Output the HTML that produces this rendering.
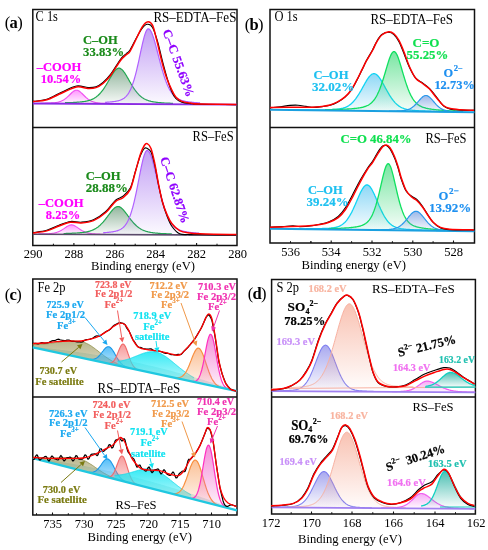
<!DOCTYPE html>
<html><head><meta charset="utf-8"><style>
html,body{margin:0;padding:0;background:#fff;}
body{width:488px;height:550px;overflow:hidden;}
svg{display:block;font-family:"Liberation Serif",serif;will-change:transform;}
</style></head><body>
<svg xmlns="http://www.w3.org/2000/svg" width="488" height="550" viewBox="0 0 488 550">
<defs><linearGradient id="g1" x1="0" y1="0" x2="0" y2="1"><stop offset="0" stop-color="#ff30ff" stop-opacity="0.5"/><stop offset="1" stop-color="#ff30ff" stop-opacity="0.03"/></linearGradient>
<linearGradient id="g2" x1="0" y1="0" x2="0" y2="1"><stop offset="0" stop-color="#3a7a4e" stop-opacity="0.55"/><stop offset="1" stop-color="#3a7a4e" stop-opacity="0.03"/></linearGradient>
<linearGradient id="g3" x1="0" y1="0" x2="0" y2="1"><stop offset="0" stop-color="#9a60ee" stop-opacity="0.6"/><stop offset="1" stop-color="#9a60ee" stop-opacity="0.03"/></linearGradient>
<linearGradient id="g4" x1="0" y1="0" x2="0" y2="1"><stop offset="0" stop-color="#ff30ff" stop-opacity="0.5"/><stop offset="1" stop-color="#ff30ff" stop-opacity="0.03"/></linearGradient>
<linearGradient id="g5" x1="0" y1="0" x2="0" y2="1"><stop offset="0" stop-color="#3a7a4e" stop-opacity="0.55"/><stop offset="1" stop-color="#3a7a4e" stop-opacity="0.03"/></linearGradient>
<linearGradient id="g6" x1="0" y1="0" x2="0" y2="1"><stop offset="0" stop-color="#9a60ee" stop-opacity="0.6"/><stop offset="1" stop-color="#9a60ee" stop-opacity="0.03"/></linearGradient>
<linearGradient id="g7" x1="0" y1="0" x2="0" y2="1"><stop offset="0" stop-color="#48c0f0" stop-opacity="0.62"/><stop offset="1" stop-color="#48c0f0" stop-opacity="0.03"/></linearGradient>
<linearGradient id="g8" x1="0" y1="0" x2="0" y2="1"><stop offset="0" stop-color="#30d870" stop-opacity="0.65"/><stop offset="1" stop-color="#30d870" stop-opacity="0.03"/></linearGradient>
<linearGradient id="g9" x1="0" y1="0" x2="0" y2="1"><stop offset="0" stop-color="#5a88d8" stop-opacity="0.6"/><stop offset="1" stop-color="#5a88d8" stop-opacity="0.03"/></linearGradient>
<linearGradient id="g10" x1="0" y1="0" x2="0" y2="1"><stop offset="0" stop-color="#48c0f0" stop-opacity="0.62"/><stop offset="1" stop-color="#48c0f0" stop-opacity="0.03"/></linearGradient>
<linearGradient id="g11" x1="0" y1="0" x2="0" y2="1"><stop offset="0" stop-color="#30d870" stop-opacity="0.65"/><stop offset="1" stop-color="#30d870" stop-opacity="0.03"/></linearGradient>
<linearGradient id="g12" x1="0" y1="0" x2="0" y2="1"><stop offset="0" stop-color="#5a88d8" stop-opacity="0.6"/><stop offset="1" stop-color="#5a88d8" stop-opacity="0.03"/></linearGradient>
<linearGradient id="g13" x1="0" y1="0" x2="0" y2="1"><stop offset="0" stop-color="#8c8640" stop-opacity="0.6"/><stop offset="1" stop-color="#8c8640" stop-opacity="0.3"/></linearGradient>
<linearGradient id="g14" x1="0" y1="0" x2="0" y2="1"><stop offset="0" stop-color="#38b4f8" stop-opacity="0.85"/><stop offset="1" stop-color="#38b4f8" stop-opacity="0.25"/></linearGradient>
<linearGradient id="g15" x1="0" y1="0" x2="0" y2="1"><stop offset="0" stop-color="#f47878" stop-opacity="0.75"/><stop offset="1" stop-color="#f47878" stop-opacity="0.2"/></linearGradient>
<linearGradient id="g16" x1="0" y1="0" x2="0" y2="1"><stop offset="0" stop-color="#20e8f4" stop-opacity="0.9"/><stop offset="1" stop-color="#20e8f4" stop-opacity="0.3"/></linearGradient>
<linearGradient id="g17" x1="0" y1="0" x2="0" y2="1"><stop offset="0" stop-color="#f8a060" stop-opacity="0.65"/><stop offset="1" stop-color="#f8a060" stop-opacity="0.08"/></linearGradient>
<linearGradient id="g18" x1="0" y1="0" x2="0" y2="1"><stop offset="0" stop-color="#f060c8" stop-opacity="0.7"/><stop offset="1" stop-color="#f060c8" stop-opacity="0.08"/></linearGradient>
<linearGradient id="g19" x1="0" y1="0" x2="0" y2="1"><stop offset="0" stop-color="#8c8640" stop-opacity="0.6"/><stop offset="1" stop-color="#8c8640" stop-opacity="0.3"/></linearGradient>
<linearGradient id="g20" x1="0" y1="0" x2="0" y2="1"><stop offset="0" stop-color="#38b4f8" stop-opacity="0.85"/><stop offset="1" stop-color="#38b4f8" stop-opacity="0.25"/></linearGradient>
<linearGradient id="g21" x1="0" y1="0" x2="0" y2="1"><stop offset="0" stop-color="#f47878" stop-opacity="0.75"/><stop offset="1" stop-color="#f47878" stop-opacity="0.2"/></linearGradient>
<linearGradient id="g22" x1="0" y1="0" x2="0" y2="1"><stop offset="0" stop-color="#20e8f4" stop-opacity="0.9"/><stop offset="1" stop-color="#20e8f4" stop-opacity="0.3"/></linearGradient>
<linearGradient id="g23" x1="0" y1="0" x2="0" y2="1"><stop offset="0" stop-color="#f8a060" stop-opacity="0.65"/><stop offset="1" stop-color="#f8a060" stop-opacity="0.08"/></linearGradient>
<linearGradient id="g24" x1="0" y1="0" x2="0" y2="1"><stop offset="0" stop-color="#f060c8" stop-opacity="0.7"/><stop offset="1" stop-color="#f060c8" stop-opacity="0.08"/></linearGradient>
<linearGradient id="g25" x1="0" y1="0" x2="0" y2="1"><stop offset="0" stop-color="#7070e4" stop-opacity="0.6"/><stop offset="1" stop-color="#7070e4" stop-opacity="0.03"/></linearGradient>
<linearGradient id="g26" x1="0" y1="0" x2="0" y2="1"><stop offset="0" stop-color="#f59a80" stop-opacity="0.6"/><stop offset="1" stop-color="#f59a80" stop-opacity="0.03"/></linearGradient>
<linearGradient id="g27" x1="0" y1="0" x2="0" y2="1"><stop offset="0" stop-color="#f070f0" stop-opacity="0.6"/><stop offset="1" stop-color="#f070f0" stop-opacity="0.03"/></linearGradient>
<linearGradient id="g28" x1="0" y1="0" x2="0" y2="1"><stop offset="0" stop-color="#20b0a0" stop-opacity="0.8"/><stop offset="1" stop-color="#20b0a0" stop-opacity="0.03"/></linearGradient>
<linearGradient id="g29" x1="0" y1="0" x2="0" y2="1"><stop offset="0" stop-color="#7070e4" stop-opacity="0.6"/><stop offset="1" stop-color="#7070e4" stop-opacity="0.03"/></linearGradient>
<linearGradient id="g30" x1="0" y1="0" x2="0" y2="1"><stop offset="0" stop-color="#f59a80" stop-opacity="0.6"/><stop offset="1" stop-color="#f59a80" stop-opacity="0.03"/></linearGradient>
<linearGradient id="g31" x1="0" y1="0" x2="0" y2="1"><stop offset="0" stop-color="#f070f0" stop-opacity="0.6"/><stop offset="1" stop-color="#f070f0" stop-opacity="0.03"/></linearGradient>
<linearGradient id="g32" x1="0" y1="0" x2="0" y2="1"><stop offset="0" stop-color="#20b0a0" stop-opacity="0.8"/><stop offset="1" stop-color="#20b0a0" stop-opacity="0.03"/></linearGradient></defs>
<rect width="488" height="550" fill="#fff"/>
<rect x="32.8" y="9.5" width="204.2" height="236" fill="none" stroke="#111" stroke-width="1.5"/>
<line x1="32.8" y1="127.5" x2="237" y2="127.5" stroke="#111" stroke-width="1.5"/>
<path d="M40.5 103.2 L41 103.2 L41.5 103.2 L42 103.2 L42.5 103.2 L43 103.2 L43.5 103.2 L44 103.2 L44.5 103.2 L45 103.2 L45.5 103.1 L46 103.1 L46.5 103.1 L47 103.1 L47.5 103.1 L48 103.1 L48.5 103.1 L49 103.1 L49.5 103 L50 103 L50.5 103 L51 103 L51.5 102.9 L52 102.9 L52.5 102.9 L53 102.8 L53.5 102.8 L54 102.8 L54.5 102.7 L55 102.7 L55.5 102.6 L56 102.5 L56.5 102.5 L57 102.4 L57.5 102.3 L58 102.2 L58.5 102.1 L59 101.9 L59.5 101.8 L60 101.6 L60.5 101.4 L61 101.2 L61.5 101 L62 100.8 L62.5 100.6 L63 100.3 L63.5 100 L64 99.7 L64.5 99.3 L65 99 L65.5 98.6 L66 98.2 L66.5 97.8 L67 97.4 L67.5 96.9 L68 96.4 L68.5 96 L69 95.5 L69.5 95 L70 94.5 L70.5 94 L71 93.5 L71.5 93 L72 92.5 L72.5 92.1 L73 91.7 L73.5 91.3 L74 91 L74.5 90.7 L75 90.4 L75.5 90.3 L76 90.2 L76.5 90.2 L77 90.2 L77.5 90.3 L78 90.5 L78.5 90.7 L79 91 L79.5 91.3 L80 91.7 L80.5 92.1 L81 92.6 L81.5 93 L82 93.5 L82.5 94 L83 94.5 L83.5 95 L84 95.5 L84.5 96 L85 96.5 L85.5 97 L86 97.5 L86.5 97.9 L87 98.3 L87.5 98.7 L88 99.1 L88.5 99.5 L89 99.8 L89.5 100.1 L90 100.4 L90.5 100.7 L91 101 L91.5 101.2 L92 101.4 L92.5 101.6 L93 101.8 L93.5 102 L94 102.1 L94.5 102.3 L95 102.4 L95.5 102.5 L96 102.6 L96.5 102.7 L97 102.8 L97.5 102.8 L98 102.9 L98.5 103 L99 103 L99.5 103.1 L100 103.1 L100.5 103.2 L101 103.2 L101.5 103.2 L102 103.3 L102.5 103.3 L103 103.3 L103.5 103.4 L104 103.4 L104.5 103.4 L105 103.4 L105.5 103.4 L106 103.5 L106.5 103.5 L107 103.5 L107.5 103.5 L108 103.5 L108.5 103.5 L109 103.6 L109.5 103.6 L110 103.6 L110.5 103.6 L111 103.6 L111.5 103.6 L112 103.6 L112.5 103.6 L112.5 104 L40.5 103.5 Z" fill="url(#g1)" stroke="none"/>
<path d="M40.5 103.2 L41 103.2 L41.5 103.2 L42 103.2 L42.5 103.2 L43 103.2 L43.5 103.2 L44 103.2 L44.5 103.2 L45 103.2 L45.5 103.1 L46 103.1 L46.5 103.1 L47 103.1 L47.5 103.1 L48 103.1 L48.5 103.1 L49 103.1 L49.5 103 L50 103 L50.5 103 L51 103 L51.5 102.9 L52 102.9 L52.5 102.9 L53 102.8 L53.5 102.8 L54 102.8 L54.5 102.7 L55 102.7 L55.5 102.6 L56 102.5 L56.5 102.5 L57 102.4 L57.5 102.3 L58 102.2 L58.5 102.1 L59 101.9 L59.5 101.8 L60 101.6 L60.5 101.4 L61 101.2 L61.5 101 L62 100.8 L62.5 100.6 L63 100.3 L63.5 100 L64 99.7 L64.5 99.3 L65 99 L65.5 98.6 L66 98.2 L66.5 97.8 L67 97.4 L67.5 96.9 L68 96.4 L68.5 96 L69 95.5 L69.5 95 L70 94.5 L70.5 94 L71 93.5 L71.5 93 L72 92.5 L72.5 92.1 L73 91.7 L73.5 91.3 L74 91 L74.5 90.7 L75 90.4 L75.5 90.3 L76 90.2 L76.5 90.2 L77 90.2 L77.5 90.3 L78 90.5 L78.5 90.7 L79 91 L79.5 91.3 L80 91.7 L80.5 92.1 L81 92.6 L81.5 93 L82 93.5 L82.5 94 L83 94.5 L83.5 95 L84 95.5 L84.5 96 L85 96.5 L85.5 97 L86 97.5 L86.5 97.9 L87 98.3 L87.5 98.7 L88 99.1 L88.5 99.5 L89 99.8 L89.5 100.1 L90 100.4 L90.5 100.7 L91 101 L91.5 101.2 L92 101.4 L92.5 101.6 L93 101.8 L93.5 102 L94 102.1 L94.5 102.3 L95 102.4 L95.5 102.5 L96 102.6 L96.5 102.7 L97 102.8 L97.5 102.8 L98 102.9 L98.5 103 L99 103 L99.5 103.1 L100 103.1 L100.5 103.2 L101 103.2 L101.5 103.2 L102 103.3 L102.5 103.3 L103 103.3 L103.5 103.4 L104 103.4 L104.5 103.4 L105 103.4 L105.5 103.4 L106 103.5 L106.5 103.5 L107 103.5 L107.5 103.5 L108 103.5 L108.5 103.5 L109 103.6 L109.5 103.6 L110 103.6 L110.5 103.6 L111 103.6 L111.5 103.6 L112 103.6 L112.5 103.6" fill="none" stroke="#f050f0" stroke-width="1.1"/>
<path d="M65 102.7 L65.5 102.7 L66 102.7 L66.5 102.7 L67 102.7 L67.5 102.7 L68 102.6 L68.5 102.6 L69 102.6 L69.5 102.6 L70 102.6 L70.5 102.6 L71 102.5 L71.5 102.5 L72 102.5 L72.5 102.5 L73 102.5 L73.5 102.4 L74 102.4 L74.5 102.4 L75 102.3 L75.5 102.3 L76 102.3 L76.5 102.3 L77 102.2 L77.5 102.2 L78 102.2 L78.5 102.1 L79 102.1 L79.5 102 L80 102 L80.5 101.9 L81 101.9 L81.5 101.8 L82 101.8 L82.5 101.7 L83 101.7 L83.5 101.6 L84 101.5 L84.5 101.5 L85 101.4 L85.5 101.3 L86 101.2 L86.5 101.1 L87 101 L87.5 100.9 L88 100.7 L88.5 100.6 L89 100.5 L89.5 100.3 L90 100.2 L90.5 100 L91 99.8 L91.5 99.6 L92 99.4 L92.5 99.2 L93 98.9 L93.5 98.7 L94 98.4 L94.5 98.1 L95 97.8 L95.5 97.5 L96 97.1 L96.5 96.7 L97 96.3 L97.5 95.9 L98 95.5 L98.5 95 L99 94.5 L99.5 94 L100 93.5 L100.5 92.9 L101 92.4 L101.5 91.7 L102 91.1 L102.5 90.5 L103 89.8 L103.5 89.1 L104 88.3 L104.5 87.6 L105 86.8 L105.5 86 L106 85.2 L106.5 84.4 L107 83.5 L107.5 82.7 L108 81.8 L108.5 81 L109 80.1 L109.5 79.2 L110 78.3 L110.5 77.5 L111 76.6 L111.5 75.8 L112 74.9 L112.5 74.1 L113 73.3 L113.5 72.6 L114 71.9 L114.5 71.2 L115 70.6 L115.5 70.1 L116 69.6 L116.5 69.2 L117 68.8 L117.5 68.6 L118 68.4 L118.5 68.2 L119 68.2 L119.5 68.2 L120 68.4 L120.5 68.6 L121 68.9 L121.5 69.2 L122 69.6 L122.5 70.1 L123 70.7 L123.5 71.3 L124 72 L124.5 72.7 L125 73.4 L125.5 74.2 L126 75 L126.5 75.8 L127 76.7 L127.5 77.6 L128 78.4 L128.5 79.3 L129 80.2 L129.5 81.1 L130 82 L130.5 82.8 L131 83.7 L131.5 84.5 L132 85.4 L132.5 86.2 L133 87 L133.5 87.8 L134 88.5 L134.5 89.3 L135 90 L135.5 90.7 L136 91.3 L136.5 92 L137 92.6 L137.5 93.2 L138 93.7 L138.5 94.3 L139 94.8 L139.5 95.3 L140 95.7 L140.5 96.2 L141 96.6 L141.5 97 L142 97.4 L142.5 97.7 L143 98.1 L143.5 98.4 L144 98.7 L144.5 99 L145 99.2 L145.5 99.5 L146 99.7 L146.5 99.9 L147 100.1 L147.5 100.3 L148 100.5 L148.5 100.7 L149 100.8 L149.5 101 L150 101.1 L150.5 101.2 L151 101.4 L151.5 101.5 L152 101.6 L152.5 101.7 L153 101.8 L153.5 101.9 L154 101.9 L154.5 102 L155 102.1 L155.5 102.2 L156 102.2 L156.5 102.3 L157 102.3 L157.5 102.4 L158 102.5 L158.5 102.5 L159 102.5 L159.5 102.6 L160 102.6 L160.5 102.7 L161 102.7 L161.5 102.8 L162 102.8 L162.5 102.8 L163 102.9 L163.5 102.9 L164 102.9 L164.5 103 L165 103 L165.5 103 L166 103.1 L166.5 103.1 L167 103.1 L167.5 103.1 L168 103.2 L168.5 103.2 L169 103.2 L169.5 103.2 L170 103.2 L170.5 103.3 L171 103.3 L171.5 103.3 L172 103.3 L172.5 103.4 L173 103.4 L173 104.3 L65 103.7 Z" fill="url(#g2)" stroke="none"/>
<path d="M65 102.7 L65.5 102.7 L66 102.7 L66.5 102.7 L67 102.7 L67.5 102.7 L68 102.6 L68.5 102.6 L69 102.6 L69.5 102.6 L70 102.6 L70.5 102.6 L71 102.5 L71.5 102.5 L72 102.5 L72.5 102.5 L73 102.5 L73.5 102.4 L74 102.4 L74.5 102.4 L75 102.3 L75.5 102.3 L76 102.3 L76.5 102.3 L77 102.2 L77.5 102.2 L78 102.2 L78.5 102.1 L79 102.1 L79.5 102 L80 102 L80.5 101.9 L81 101.9 L81.5 101.8 L82 101.8 L82.5 101.7 L83 101.7 L83.5 101.6 L84 101.5 L84.5 101.5 L85 101.4 L85.5 101.3 L86 101.2 L86.5 101.1 L87 101 L87.5 100.9 L88 100.7 L88.5 100.6 L89 100.5 L89.5 100.3 L90 100.2 L90.5 100 L91 99.8 L91.5 99.6 L92 99.4 L92.5 99.2 L93 98.9 L93.5 98.7 L94 98.4 L94.5 98.1 L95 97.8 L95.5 97.5 L96 97.1 L96.5 96.7 L97 96.3 L97.5 95.9 L98 95.5 L98.5 95 L99 94.5 L99.5 94 L100 93.5 L100.5 92.9 L101 92.4 L101.5 91.7 L102 91.1 L102.5 90.5 L103 89.8 L103.5 89.1 L104 88.3 L104.5 87.6 L105 86.8 L105.5 86 L106 85.2 L106.5 84.4 L107 83.5 L107.5 82.7 L108 81.8 L108.5 81 L109 80.1 L109.5 79.2 L110 78.3 L110.5 77.5 L111 76.6 L111.5 75.8 L112 74.9 L112.5 74.1 L113 73.3 L113.5 72.6 L114 71.9 L114.5 71.2 L115 70.6 L115.5 70.1 L116 69.6 L116.5 69.2 L117 68.8 L117.5 68.6 L118 68.4 L118.5 68.2 L119 68.2 L119.5 68.2 L120 68.4 L120.5 68.6 L121 68.9 L121.5 69.2 L122 69.6 L122.5 70.1 L123 70.7 L123.5 71.3 L124 72 L124.5 72.7 L125 73.4 L125.5 74.2 L126 75 L126.5 75.8 L127 76.7 L127.5 77.6 L128 78.4 L128.5 79.3 L129 80.2 L129.5 81.1 L130 82 L130.5 82.8 L131 83.7 L131.5 84.5 L132 85.4 L132.5 86.2 L133 87 L133.5 87.8 L134 88.5 L134.5 89.3 L135 90 L135.5 90.7 L136 91.3 L136.5 92 L137 92.6 L137.5 93.2 L138 93.7 L138.5 94.3 L139 94.8 L139.5 95.3 L140 95.7 L140.5 96.2 L141 96.6 L141.5 97 L142 97.4 L142.5 97.7 L143 98.1 L143.5 98.4 L144 98.7 L144.5 99 L145 99.2 L145.5 99.5 L146 99.7 L146.5 99.9 L147 100.1 L147.5 100.3 L148 100.5 L148.5 100.7 L149 100.8 L149.5 101 L150 101.1 L150.5 101.2 L151 101.4 L151.5 101.5 L152 101.6 L152.5 101.7 L153 101.8 L153.5 101.9 L154 101.9 L154.5 102 L155 102.1 L155.5 102.2 L156 102.2 L156.5 102.3 L157 102.3 L157.5 102.4 L158 102.5 L158.5 102.5 L159 102.5 L159.5 102.6 L160 102.6 L160.5 102.7 L161 102.7 L161.5 102.8 L162 102.8 L162.5 102.8 L163 102.9 L163.5 102.9 L164 102.9 L164.5 103 L165 103 L165.5 103 L166 103.1 L166.5 103.1 L167 103.1 L167.5 103.1 L168 103.2 L168.5 103.2 L169 103.2 L169.5 103.2 L170 103.2 L170.5 103.3 L171 103.3 L171.5 103.3 L172 103.3 L172.5 103.4 L173 103.4" fill="none" stroke="#20a850" stroke-width="1.2"/>
<path d="M105.1 102.4 L105.6 102.3 L106.1 102.3 L106.6 102.3 L107.1 102.2 L107.6 102.2 L108.1 102.2 L108.6 102.1 L109.1 102.1 L109.6 102 L110.1 102 L110.6 101.9 L111.1 101.9 L111.6 101.8 L112.1 101.8 L112.6 101.7 L113.1 101.7 L113.6 101.6 L114.1 101.5 L114.6 101.5 L115.1 101.4 L115.6 101.3 L116.1 101.2 L116.6 101.1 L117.1 101 L117.6 100.9 L118.1 100.8 L118.6 100.7 L119.1 100.5 L119.6 100.4 L120.1 100.2 L120.6 100 L121.1 99.8 L121.6 99.6 L122.1 99.4 L122.6 99.1 L123.1 98.8 L123.6 98.5 L124.1 98.2 L124.6 97.8 L125.1 97.3 L125.6 96.9 L126.1 96.4 L126.6 95.8 L127.1 95.2 L127.6 94.6 L128.1 93.9 L128.6 93.1 L129.1 92.3 L129.6 91.3 L130.1 90.4 L130.6 89.3 L131.1 88.2 L131.6 87 L132.1 85.7 L132.6 84.3 L133.1 82.8 L133.6 81.3 L134.1 79.7 L134.6 78 L135.1 76.2 L135.6 74.3 L136.1 72.3 L136.6 70.3 L137.1 68.2 L137.6 66 L138.1 63.8 L138.6 61.6 L139.1 59.3 L139.6 56.9 L140.1 54.6 L140.6 52.2 L141.1 49.9 L141.6 47.6 L142.1 45.4 L142.6 43.2 L143.1 41.1 L143.6 39.1 L144.1 37.2 L144.6 35.4 L145.1 33.9 L145.6 32.5 L146.1 31.3 L146.6 30.3 L147.1 29.6 L147.6 29.1 L148.1 28.9 L148.6 28.9 L149.1 29.1 L149.6 29.5 L150.1 30 L150.6 30.7 L151.1 31.6 L151.6 32.6 L152.1 33.8 L152.6 35.1 L153.1 36.5 L153.6 38 L154.1 39.6 L154.6 41.3 L155.1 43 L155.6 44.8 L156.1 46.7 L156.6 48.6 L157.1 50.5 L157.6 52.5 L158.1 54.4 L158.6 56.4 L159.1 58.3 L159.6 60.2 L160.1 62.1 L160.6 64 L161.1 65.9 L161.6 67.7 L162.1 69.5 L162.6 71.2 L163.1 72.9 L163.6 74.5 L164.1 76.1 L164.6 77.6 L165.1 79 L165.6 80.4 L166.1 81.8 L166.6 83.1 L167.1 84.3 L167.6 85.4 L168.1 86.6 L168.6 87.6 L169.1 88.6 L169.6 89.5 L170.1 90.4 L170.6 91.3 L171.1 92 L171.6 92.8 L172.1 93.5 L172.6 94.1 L173.1 94.7 L173.6 95.3 L174.1 95.8 L174.6 96.3 L175.1 96.7 L175.6 97.2 L176.1 97.6 L176.6 97.9 L177.1 98.3 L177.6 98.6 L178.1 98.9 L178.6 99.1 L179.1 99.4 L179.6 99.6 L180.1 99.8 L180.6 100 L181.1 100.2 L181.6 100.4 L182.1 100.5 L182.6 100.7 L183.1 100.8 L183.6 100.9 L184.1 101.1 L184.6 101.2 L185.1 101.3 L185.6 101.4 L186.1 101.5 L186.6 101.6 L187.1 101.6 L187.6 101.7 L188.1 101.8 L188.6 101.9 L189.1 101.9 L189.6 102 L190.1 102.1 L190.6 102.1 L191.1 102.2 L191.6 102.2 L192.1 102.3 L192.6 102.3 L193.1 102.4 L193.6 102.4 L194.1 102.5 L194.6 102.5 L195.1 102.6 L195.6 102.6 L196.1 102.6 L196.6 102.7 L197.1 102.7 L197.6 102.8 L198.1 102.8 L198.6 102.8 L199.1 102.9 L199.6 102.9 L200.1 102.9 L200.3 104.5 L105.1 103.9 Z" fill="url(#g3)" stroke="none"/>
<path d="M105.1 102.4 L105.6 102.3 L106.1 102.3 L106.6 102.3 L107.1 102.2 L107.6 102.2 L108.1 102.2 L108.6 102.1 L109.1 102.1 L109.6 102 L110.1 102 L110.6 101.9 L111.1 101.9 L111.6 101.8 L112.1 101.8 L112.6 101.7 L113.1 101.7 L113.6 101.6 L114.1 101.5 L114.6 101.5 L115.1 101.4 L115.6 101.3 L116.1 101.2 L116.6 101.1 L117.1 101 L117.6 100.9 L118.1 100.8 L118.6 100.7 L119.1 100.5 L119.6 100.4 L120.1 100.2 L120.6 100 L121.1 99.8 L121.6 99.6 L122.1 99.4 L122.6 99.1 L123.1 98.8 L123.6 98.5 L124.1 98.2 L124.6 97.8 L125.1 97.3 L125.6 96.9 L126.1 96.4 L126.6 95.8 L127.1 95.2 L127.6 94.6 L128.1 93.9 L128.6 93.1 L129.1 92.3 L129.6 91.3 L130.1 90.4 L130.6 89.3 L131.1 88.2 L131.6 87 L132.1 85.7 L132.6 84.3 L133.1 82.8 L133.6 81.3 L134.1 79.7 L134.6 78 L135.1 76.2 L135.6 74.3 L136.1 72.3 L136.6 70.3 L137.1 68.2 L137.6 66 L138.1 63.8 L138.6 61.6 L139.1 59.3 L139.6 56.9 L140.1 54.6 L140.6 52.2 L141.1 49.9 L141.6 47.6 L142.1 45.4 L142.6 43.2 L143.1 41.1 L143.6 39.1 L144.1 37.2 L144.6 35.4 L145.1 33.9 L145.6 32.5 L146.1 31.3 L146.6 30.3 L147.1 29.6 L147.6 29.1 L148.1 28.9 L148.6 28.9 L149.1 29.1 L149.6 29.5 L150.1 30 L150.6 30.7 L151.1 31.6 L151.6 32.6 L152.1 33.8 L152.6 35.1 L153.1 36.5 L153.6 38 L154.1 39.6 L154.6 41.3 L155.1 43 L155.6 44.8 L156.1 46.7 L156.6 48.6 L157.1 50.5 L157.6 52.5 L158.1 54.4 L158.6 56.4 L159.1 58.3 L159.6 60.2 L160.1 62.1 L160.6 64 L161.1 65.9 L161.6 67.7 L162.1 69.5 L162.6 71.2 L163.1 72.9 L163.6 74.5 L164.1 76.1 L164.6 77.6 L165.1 79 L165.6 80.4 L166.1 81.8 L166.6 83.1 L167.1 84.3 L167.6 85.4 L168.1 86.6 L168.6 87.6 L169.1 88.6 L169.6 89.5 L170.1 90.4 L170.6 91.3 L171.1 92 L171.6 92.8 L172.1 93.5 L172.6 94.1 L173.1 94.7 L173.6 95.3 L174.1 95.8 L174.6 96.3 L175.1 96.7 L175.6 97.2 L176.1 97.6 L176.6 97.9 L177.1 98.3 L177.6 98.6 L178.1 98.9 L178.6 99.1 L179.1 99.4 L179.6 99.6 L180.1 99.8 L180.6 100 L181.1 100.2 L181.6 100.4 L182.1 100.5 L182.6 100.7 L183.1 100.8 L183.6 100.9 L184.1 101.1 L184.6 101.2 L185.1 101.3 L185.6 101.4 L186.1 101.5 L186.6 101.6 L187.1 101.6 L187.6 101.7 L188.1 101.8 L188.6 101.9 L189.1 101.9 L189.6 102 L190.1 102.1 L190.6 102.1 L191.1 102.2 L191.6 102.2 L192.1 102.3 L192.6 102.3 L193.1 102.4 L193.6 102.4 L194.1 102.5 L194.6 102.5 L195.1 102.6 L195.6 102.6 L196.1 102.6 L196.6 102.7 L197.1 102.7 L197.6 102.8 L198.1 102.8 L198.6 102.8 L199.1 102.9 L199.6 102.9 L200.1 102.9" fill="none" stroke="#b060ff" stroke-width="1.2"/>
<line x1="32.8" y1="103.5" x2="237" y2="104.7" stroke="#8a2be2" stroke-width="1.8"/>
<path d="M33 101.4 C35.3 101.1 42 100.8 46.8 99.3 C51.5 97.8 56.5 94.4 61.5 92.2 C66.5 90 72.1 86.8 76.5 86 C80.9 85.2 84.8 87.5 88 87.6 C91.2 87.7 93.5 87.6 96 86.8 C98.5 86 100.5 84.6 103 82.5 C105.5 80.4 107.8 78.1 110.7 74.2 C113.6 70.3 118 62.7 120.5 59.3 C123 55.9 124.4 55.3 126 53.8 C127.6 52.2 128.2 52.8 130 50 C131.8 47.2 134.9 40.6 136.9 37 C138.9 33.4 140.4 30.4 142.1 28.3 C143.8 26.2 145.6 24.5 147.3 24.3 C149 24.1 150.8 24.4 152.5 27.4 C154.2 30.3 156 36.1 157.7 42 C159.4 47.9 161.2 56.4 162.8 62.5 C164.4 68.6 165.8 73.8 167.2 78.5 C168.6 83.2 170.1 87.7 171.5 91 C172.9 94.3 174.1 96.6 175.8 98.5 C177.5 100.4 179.4 101.5 181.8 102.3 C184.2 103.1 187.5 103.3 190.5 103.6 C193.5 103.9 192.3 104 200 104.2 C207.7 104.4 230.4 104.5 236.5 104.6" fill="none" stroke="#000" stroke-width="1.1" stroke-linejoin="round" />
<path d="M33 101.6 C35.3 101.3 42 101.2 46.8 99.8 C51.5 98.4 56.5 95.3 61.5 93.2 C66.5 91.1 72.1 87.8 76.5 87 C80.9 86.2 84.8 88.3 88 88.4 C91.2 88.5 93.5 88.4 96 87.6 C98.5 86.8 100.5 85.6 103 83.5 C105.5 81.4 107.8 79 110.7 75.2 C113.6 71.4 118 63.9 120.5 60.5 C123 57.1 124.4 56.5 126 55 C127.6 53.5 128.2 54.2 130 51.3 C131.8 48.4 134.9 41.5 136.9 37.5 C138.9 33.5 140.4 29.7 142.1 27.1 C143.8 24.5 145.6 22.2 147.3 21.9 C149 21.6 150.9 22 152.5 25.2 C154.1 28.4 155.3 34.8 156.9 40.9 C158.5 47 160.3 55.7 161.9 61.7 C163.5 67.8 164.8 72.6 166.4 77.2 C168 81.8 169.9 86 171.5 89.3 C173.1 92.6 174.1 95.1 175.8 97.1 C177.5 99.1 179.4 100.4 181.8 101.4 C184.2 102.4 187.5 102.7 190.5 103.1 C193.5 103.5 192.3 103.8 200 104 C207.7 104.2 230.4 104.5 236.5 104.6" fill="none" stroke="#f00" stroke-width="1.5" stroke-linejoin="round" />
<path d="M38 234 L38.5 234 L39 234 L39.5 233.9 L40 233.9 L40.5 233.9 L41 233.9 L41.5 233.9 L42 233.9 L42.5 233.9 L43 233.9 L43.5 233.9 L44 233.9 L44.5 233.9 L45 233.8 L45.5 233.8 L46 233.8 L46.5 233.8 L47 233.8 L47.5 233.8 L48 233.7 L48.5 233.7 L49 233.7 L49.5 233.6 L50 233.6 L50.5 233.6 L51 233.5 L51.5 233.5 L52 233.4 L52.5 233.3 L53 233.3 L53.5 233.2 L54 233.1 L54.5 233 L55 232.9 L55.5 232.7 L56 232.6 L56.5 232.5 L57 232.3 L57.5 232.1 L58 231.9 L58.5 231.7 L59 231.5 L59.5 231.3 L60 231 L60.5 230.8 L61 230.5 L61.5 230.2 L62 229.9 L62.5 229.6 L63 229.3 L63.5 228.9 L64 228.6 L64.5 228.2 L65 227.9 L65.5 227.5 L66 227.2 L66.5 226.8 L67 226.5 L67.5 226.2 L68 225.9 L68.5 225.7 L69 225.4 L69.5 225.2 L70 225.1 L70.5 225 L71 224.9 L71.5 224.9 L72 224.9 L72.5 225 L73 225.1 L73.5 225.2 L74 225.4 L74.5 225.7 L75 226 L75.5 226.2 L76 226.6 L76.5 226.9 L77 227.2 L77.5 227.6 L78 227.9 L78.5 228.3 L79 228.6 L79.5 229 L80 229.3 L80.5 229.7 L81 230 L81.5 230.3 L82 230.6 L82.5 230.9 L83 231.1 L83.5 231.4 L84 231.6 L84.5 231.9 L85 232.1 L85.5 232.3 L86 232.4 L86.5 232.6 L87 232.8 L87.5 232.9 L88 233 L88.5 233.1 L89 233.2 L89.5 233.3 L90 233.4 L90.5 233.5 L91 233.6 L91.5 233.6 L92 233.7 L92.5 233.7 L93 233.8 L93.5 233.8 L94 233.9 L94.5 233.9 L95 233.9 L95.5 234 L96 234 L96.5 234 L97 234 L97.5 234.1 L98 234.1 L98.5 234.1 L99 234.1 L99.5 234.1 L100 234.1 L100.5 234.2 L101 234.2 L101.5 234.2 L102 234.2 L102.5 234.2 L103 234.2 L103.5 234.2 L104 234.2 L104.5 234.3 L105 234.3 L105 234.5 L38 234.2 Z" fill="url(#g4)" stroke="none"/>
<path d="M38 234 L38.5 234 L39 234 L39.5 233.9 L40 233.9 L40.5 233.9 L41 233.9 L41.5 233.9 L42 233.9 L42.5 233.9 L43 233.9 L43.5 233.9 L44 233.9 L44.5 233.9 L45 233.8 L45.5 233.8 L46 233.8 L46.5 233.8 L47 233.8 L47.5 233.8 L48 233.7 L48.5 233.7 L49 233.7 L49.5 233.6 L50 233.6 L50.5 233.6 L51 233.5 L51.5 233.5 L52 233.4 L52.5 233.3 L53 233.3 L53.5 233.2 L54 233.1 L54.5 233 L55 232.9 L55.5 232.7 L56 232.6 L56.5 232.5 L57 232.3 L57.5 232.1 L58 231.9 L58.5 231.7 L59 231.5 L59.5 231.3 L60 231 L60.5 230.8 L61 230.5 L61.5 230.2 L62 229.9 L62.5 229.6 L63 229.3 L63.5 228.9 L64 228.6 L64.5 228.2 L65 227.9 L65.5 227.5 L66 227.2 L66.5 226.8 L67 226.5 L67.5 226.2 L68 225.9 L68.5 225.7 L69 225.4 L69.5 225.2 L70 225.1 L70.5 225 L71 224.9 L71.5 224.9 L72 224.9 L72.5 225 L73 225.1 L73.5 225.2 L74 225.4 L74.5 225.7 L75 226 L75.5 226.2 L76 226.6 L76.5 226.9 L77 227.2 L77.5 227.6 L78 227.9 L78.5 228.3 L79 228.6 L79.5 229 L80 229.3 L80.5 229.7 L81 230 L81.5 230.3 L82 230.6 L82.5 230.9 L83 231.1 L83.5 231.4 L84 231.6 L84.5 231.9 L85 232.1 L85.5 232.3 L86 232.4 L86.5 232.6 L87 232.8 L87.5 232.9 L88 233 L88.5 233.1 L89 233.2 L89.5 233.3 L90 233.4 L90.5 233.5 L91 233.6 L91.5 233.6 L92 233.7 L92.5 233.7 L93 233.8 L93.5 233.8 L94 233.9 L94.5 233.9 L95 233.9 L95.5 234 L96 234 L96.5 234 L97 234 L97.5 234.1 L98 234.1 L98.5 234.1 L99 234.1 L99.5 234.1 L100 234.1 L100.5 234.2 L101 234.2 L101.5 234.2 L102 234.2 L102.5 234.2 L103 234.2 L103.5 234.2 L104 234.2 L104.5 234.3 L105 234.3" fill="none" stroke="#f050f0" stroke-width="1.1"/>
<path d="M63.6 233.5 L64.1 233.5 L64.6 233.5 L65.1 233.5 L65.6 233.5 L66.1 233.4 L66.6 233.4 L67.1 233.4 L67.6 233.4 L68.1 233.4 L68.6 233.4 L69.1 233.4 L69.6 233.3 L70.1 233.3 L70.6 233.3 L71.1 233.3 L71.6 233.3 L72.1 233.2 L72.6 233.2 L73.1 233.2 L73.6 233.2 L74.1 233.1 L74.6 233.1 L75.1 233.1 L75.6 233.1 L76.1 233 L76.6 233 L77.1 233 L77.6 232.9 L78.1 232.9 L78.6 232.9 L79.1 232.8 L79.6 232.8 L80.1 232.7 L80.6 232.7 L81.1 232.7 L81.6 232.6 L82.1 232.5 L82.6 232.5 L83.1 232.4 L83.6 232.4 L84.1 232.3 L84.6 232.2 L85.1 232.1 L85.6 232.1 L86.1 232 L86.6 231.9 L87.1 231.8 L87.6 231.7 L88.1 231.6 L88.6 231.4 L89.1 231.3 L89.6 231.2 L90.1 231 L90.6 230.8 L91.1 230.7 L91.6 230.5 L92.1 230.3 L92.6 230.1 L93.1 229.9 L93.6 229.6 L94.1 229.4 L94.6 229.1 L95.1 228.9 L95.6 228.6 L96.1 228.3 L96.6 227.9 L97.1 227.6 L97.6 227.2 L98.1 226.9 L98.6 226.5 L99.1 226 L99.6 225.6 L100.1 225.2 L100.6 224.7 L101.1 224.2 L101.6 223.7 L102.1 223.2 L102.6 222.6 L103.1 222.1 L103.6 221.5 L104.1 220.9 L104.6 220.3 L105.1 219.6 L105.6 219 L106.1 218.4 L106.6 217.7 L107.1 217 L107.6 216.4 L108.1 215.7 L108.6 215 L109.1 214.3 L109.6 213.7 L110.1 213 L110.6 212.3 L111.1 211.7 L111.6 211.1 L112.1 210.5 L112.6 209.9 L113.1 209.4 L113.6 208.9 L114.1 208.4 L114.6 208 L115.1 207.6 L115.6 207.3 L116.1 207 L116.6 206.8 L117.1 206.7 L117.6 206.6 L118.1 206.6 L118.6 206.6 L119.1 206.7 L119.6 206.9 L120.1 207.1 L120.6 207.4 L121.1 207.8 L121.6 208.2 L122.1 208.6 L122.6 209.1 L123.1 209.6 L123.6 210.2 L124.1 210.8 L124.6 211.4 L125.1 212 L125.6 212.7 L126.1 213.3 L126.6 214 L127.1 214.7 L127.6 215.4 L128.1 216 L128.6 216.7 L129.1 217.4 L129.6 218.1 L130.1 218.7 L130.6 219.4 L131.1 220 L131.6 220.6 L132.1 221.2 L132.6 221.8 L133.1 222.4 L133.6 223 L134.1 223.5 L134.6 224 L135.1 224.5 L135.6 225 L136.1 225.5 L136.6 226 L137.1 226.4 L137.6 226.8 L138.1 227.2 L138.6 227.6 L139.1 227.9 L139.6 228.3 L140.1 228.6 L140.6 228.9 L141.1 229.2 L141.6 229.5 L142.1 229.7 L142.6 230 L143.1 230.2 L143.6 230.4 L144.1 230.6 L144.6 230.8 L145.1 231 L145.6 231.2 L146.1 231.3 L146.6 231.5 L147.1 231.6 L147.6 231.7 L148.1 231.9 L148.6 232 L149.1 232.1 L149.6 232.2 L150.1 232.3 L150.6 232.4 L151.1 232.5 L151.6 232.5 L152.1 232.6 L152.6 232.7 L153.1 232.8 L153.6 232.8 L154.1 232.9 L154.6 232.9 L155.1 233 L155.6 233.1 L156.1 233.1 L156.6 233.1 L157.1 233.2 L157.6 233.2 L158.1 233.3 L158.6 233.3 L159.1 233.3 L159.6 233.4 L160.1 233.4 L160.6 233.5 L161.1 233.5 L161.6 233.5 L162.1 233.5 L162.6 233.6 L163.1 233.6 L163.6 233.6 L164.1 233.7 L164.6 233.7 L165.1 233.7 L165.6 233.7 L166.1 233.7 L166.6 233.8 L167.1 233.8 L167.6 233.8 L168.1 233.8 L168.6 233.9 L169.1 233.9 L169.6 233.9 L170.1 233.9 L170.6 233.9 L171.1 233.9 L171.6 234 L172.1 234 L172.4 234.8 L63.6 234.3 Z" fill="url(#g5)" stroke="none"/>
<path d="M63.6 233.5 L64.1 233.5 L64.6 233.5 L65.1 233.5 L65.6 233.5 L66.1 233.4 L66.6 233.4 L67.1 233.4 L67.6 233.4 L68.1 233.4 L68.6 233.4 L69.1 233.4 L69.6 233.3 L70.1 233.3 L70.6 233.3 L71.1 233.3 L71.6 233.3 L72.1 233.2 L72.6 233.2 L73.1 233.2 L73.6 233.2 L74.1 233.1 L74.6 233.1 L75.1 233.1 L75.6 233.1 L76.1 233 L76.6 233 L77.1 233 L77.6 232.9 L78.1 232.9 L78.6 232.9 L79.1 232.8 L79.6 232.8 L80.1 232.7 L80.6 232.7 L81.1 232.7 L81.6 232.6 L82.1 232.5 L82.6 232.5 L83.1 232.4 L83.6 232.4 L84.1 232.3 L84.6 232.2 L85.1 232.1 L85.6 232.1 L86.1 232 L86.6 231.9 L87.1 231.8 L87.6 231.7 L88.1 231.6 L88.6 231.4 L89.1 231.3 L89.6 231.2 L90.1 231 L90.6 230.8 L91.1 230.7 L91.6 230.5 L92.1 230.3 L92.6 230.1 L93.1 229.9 L93.6 229.6 L94.1 229.4 L94.6 229.1 L95.1 228.9 L95.6 228.6 L96.1 228.3 L96.6 227.9 L97.1 227.6 L97.6 227.2 L98.1 226.9 L98.6 226.5 L99.1 226 L99.6 225.6 L100.1 225.2 L100.6 224.7 L101.1 224.2 L101.6 223.7 L102.1 223.2 L102.6 222.6 L103.1 222.1 L103.6 221.5 L104.1 220.9 L104.6 220.3 L105.1 219.6 L105.6 219 L106.1 218.4 L106.6 217.7 L107.1 217 L107.6 216.4 L108.1 215.7 L108.6 215 L109.1 214.3 L109.6 213.7 L110.1 213 L110.6 212.3 L111.1 211.7 L111.6 211.1 L112.1 210.5 L112.6 209.9 L113.1 209.4 L113.6 208.9 L114.1 208.4 L114.6 208 L115.1 207.6 L115.6 207.3 L116.1 207 L116.6 206.8 L117.1 206.7 L117.6 206.6 L118.1 206.6 L118.6 206.6 L119.1 206.7 L119.6 206.9 L120.1 207.1 L120.6 207.4 L121.1 207.8 L121.6 208.2 L122.1 208.6 L122.6 209.1 L123.1 209.6 L123.6 210.2 L124.1 210.8 L124.6 211.4 L125.1 212 L125.6 212.7 L126.1 213.3 L126.6 214 L127.1 214.7 L127.6 215.4 L128.1 216 L128.6 216.7 L129.1 217.4 L129.6 218.1 L130.1 218.7 L130.6 219.4 L131.1 220 L131.6 220.6 L132.1 221.2 L132.6 221.8 L133.1 222.4 L133.6 223 L134.1 223.5 L134.6 224 L135.1 224.5 L135.6 225 L136.1 225.5 L136.6 226 L137.1 226.4 L137.6 226.8 L138.1 227.2 L138.6 227.6 L139.1 227.9 L139.6 228.3 L140.1 228.6 L140.6 228.9 L141.1 229.2 L141.6 229.5 L142.1 229.7 L142.6 230 L143.1 230.2 L143.6 230.4 L144.1 230.6 L144.6 230.8 L145.1 231 L145.6 231.2 L146.1 231.3 L146.6 231.5 L147.1 231.6 L147.6 231.7 L148.1 231.9 L148.6 232 L149.1 232.1 L149.6 232.2 L150.1 232.3 L150.6 232.4 L151.1 232.5 L151.6 232.5 L152.1 232.6 L152.6 232.7 L153.1 232.8 L153.6 232.8 L154.1 232.9 L154.6 232.9 L155.1 233 L155.6 233.1 L156.1 233.1 L156.6 233.1 L157.1 233.2 L157.6 233.2 L158.1 233.3 L158.6 233.3 L159.1 233.3 L159.6 233.4 L160.1 233.4 L160.6 233.5 L161.1 233.5 L161.6 233.5 L162.1 233.5 L162.6 233.6 L163.1 233.6 L163.6 233.6 L164.1 233.7 L164.6 233.7 L165.1 233.7 L165.6 233.7 L166.1 233.7 L166.6 233.8 L167.1 233.8 L167.6 233.8 L168.1 233.8 L168.6 233.9 L169.1 233.9 L169.6 233.9 L170.1 233.9 L170.6 233.9 L171.1 233.9 L171.6 234 L172.1 234" fill="none" stroke="#20a850" stroke-width="1.2"/>
<path d="M103.2 232.8 L103.7 232.7 L104.2 232.7 L104.7 232.7 L105.2 232.6 L105.7 232.6 L106.2 232.5 L106.7 232.5 L107.2 232.4 L107.7 232.4 L108.2 232.4 L108.7 232.3 L109.2 232.2 L109.7 232.2 L110.2 232.1 L110.7 232.1 L111.2 232 L111.7 231.9 L112.2 231.9 L112.7 231.8 L113.2 231.7 L113.7 231.6 L114.2 231.5 L114.7 231.4 L115.2 231.3 L115.7 231.2 L116.2 231 L116.7 230.9 L117.2 230.8 L117.7 230.6 L118.2 230.4 L118.7 230.2 L119.2 230 L119.7 229.8 L120.2 229.5 L120.7 229.3 L121.2 229 L121.7 228.6 L122.2 228.3 L122.7 227.9 L123.2 227.5 L123.7 227 L124.2 226.5 L124.7 225.9 L125.2 225.3 L125.7 224.6 L126.2 223.9 L126.7 223.1 L127.2 222.2 L127.7 221.3 L128.2 220.3 L128.7 219.2 L129.2 218.1 L129.7 216.8 L130.2 215.5 L130.7 214.1 L131.2 212.5 L131.7 210.9 L132.2 209.2 L132.7 207.5 L133.2 205.6 L133.7 203.6 L134.2 201.6 L134.7 199.4 L135.2 197.2 L135.7 194.9 L136.2 192.6 L136.7 190.1 L137.2 187.7 L137.7 185.1 L138.2 182.6 L138.7 180 L139.2 177.5 L139.7 174.9 L140.2 172.4 L140.7 169.9 L141.2 167.4 L141.7 165.1 L142.2 162.8 L142.7 160.7 L143.2 158.7 L143.7 156.9 L144.2 155.3 L144.7 153.9 L145.2 152.7 L145.7 151.7 L146.2 151.1 L146.7 150.6 L147.2 150.5 L147.7 150.6 L148.2 150.9 L148.7 151.4 L149.2 152.1 L149.7 153 L150.2 154 L150.7 155.2 L151.2 156.5 L151.7 158 L152.2 159.7 L152.7 161.4 L153.2 163.2 L153.7 165.1 L154.2 167.1 L154.7 169.2 L155.2 171.3 L155.7 173.4 L156.2 175.6 L156.7 177.7 L157.2 179.9 L157.7 182.1 L158.2 184.3 L158.7 186.4 L159.2 188.5 L159.7 190.6 L160.2 192.7 L160.7 194.7 L161.2 196.6 L161.7 198.5 L162.2 200.4 L162.7 202.2 L163.2 203.9 L163.7 205.6 L164.2 207.2 L164.7 208.7 L165.2 210.2 L165.7 211.6 L166.2 212.9 L166.7 214.2 L167.2 215.4 L167.7 216.6 L168.2 217.7 L168.7 218.7 L169.2 219.7 L169.7 220.6 L170.2 221.4 L170.7 222.2 L171.2 223 L171.7 223.7 L172.2 224.3 L172.7 224.9 L173.2 225.5 L173.7 226 L174.2 226.5 L174.7 227 L175.2 227.4 L175.7 227.8 L176.2 228.2 L176.7 228.5 L177.2 228.8 L177.7 229.1 L178.2 229.4 L178.7 229.6 L179.2 229.8 L179.7 230.1 L180.2 230.3 L180.7 230.4 L181.2 230.6 L181.7 230.8 L182.2 230.9 L182.7 231.1 L183.2 231.2 L183.7 231.3 L184.2 231.4 L184.7 231.5 L185.2 231.6 L185.7 231.7 L186.2 231.8 L186.7 231.9 L187.2 232 L187.7 232.1 L188.2 232.1 L188.7 232.2 L189.2 232.3 L189.7 232.3 L190.2 232.4 L190.7 232.5 L191.2 232.5 L191.7 232.6 L192.2 232.6 L192.7 232.7 L193.2 232.7 L193.7 232.8 L194.2 232.8 L194.7 232.9 L195.2 232.9 L195.7 232.9 L196.2 233 L196.7 233 L197.2 233.1 L197.7 233.1 L198.2 233.1 L198.7 233.2 L199.2 233.2 L199.2 234.9 L103.2 234.5 Z" fill="url(#g6)" stroke="none"/>
<path d="M103.2 232.8 L103.7 232.7 L104.2 232.7 L104.7 232.7 L105.2 232.6 L105.7 232.6 L106.2 232.5 L106.7 232.5 L107.2 232.4 L107.7 232.4 L108.2 232.4 L108.7 232.3 L109.2 232.2 L109.7 232.2 L110.2 232.1 L110.7 232.1 L111.2 232 L111.7 231.9 L112.2 231.9 L112.7 231.8 L113.2 231.7 L113.7 231.6 L114.2 231.5 L114.7 231.4 L115.2 231.3 L115.7 231.2 L116.2 231 L116.7 230.9 L117.2 230.8 L117.7 230.6 L118.2 230.4 L118.7 230.2 L119.2 230 L119.7 229.8 L120.2 229.5 L120.7 229.3 L121.2 229 L121.7 228.6 L122.2 228.3 L122.7 227.9 L123.2 227.5 L123.7 227 L124.2 226.5 L124.7 225.9 L125.2 225.3 L125.7 224.6 L126.2 223.9 L126.7 223.1 L127.2 222.2 L127.7 221.3 L128.2 220.3 L128.7 219.2 L129.2 218.1 L129.7 216.8 L130.2 215.5 L130.7 214.1 L131.2 212.5 L131.7 210.9 L132.2 209.2 L132.7 207.5 L133.2 205.6 L133.7 203.6 L134.2 201.6 L134.7 199.4 L135.2 197.2 L135.7 194.9 L136.2 192.6 L136.7 190.1 L137.2 187.7 L137.7 185.1 L138.2 182.6 L138.7 180 L139.2 177.5 L139.7 174.9 L140.2 172.4 L140.7 169.9 L141.2 167.4 L141.7 165.1 L142.2 162.8 L142.7 160.7 L143.2 158.7 L143.7 156.9 L144.2 155.3 L144.7 153.9 L145.2 152.7 L145.7 151.7 L146.2 151.1 L146.7 150.6 L147.2 150.5 L147.7 150.6 L148.2 150.9 L148.7 151.4 L149.2 152.1 L149.7 153 L150.2 154 L150.7 155.2 L151.2 156.5 L151.7 158 L152.2 159.7 L152.7 161.4 L153.2 163.2 L153.7 165.1 L154.2 167.1 L154.7 169.2 L155.2 171.3 L155.7 173.4 L156.2 175.6 L156.7 177.7 L157.2 179.9 L157.7 182.1 L158.2 184.3 L158.7 186.4 L159.2 188.5 L159.7 190.6 L160.2 192.7 L160.7 194.7 L161.2 196.6 L161.7 198.5 L162.2 200.4 L162.7 202.2 L163.2 203.9 L163.7 205.6 L164.2 207.2 L164.7 208.7 L165.2 210.2 L165.7 211.6 L166.2 212.9 L166.7 214.2 L167.2 215.4 L167.7 216.6 L168.2 217.7 L168.7 218.7 L169.2 219.7 L169.7 220.6 L170.2 221.4 L170.7 222.2 L171.2 223 L171.7 223.7 L172.2 224.3 L172.7 224.9 L173.2 225.5 L173.7 226 L174.2 226.5 L174.7 227 L175.2 227.4 L175.7 227.8 L176.2 228.2 L176.7 228.5 L177.2 228.8 L177.7 229.1 L178.2 229.4 L178.7 229.6 L179.2 229.8 L179.7 230.1 L180.2 230.3 L180.7 230.4 L181.2 230.6 L181.7 230.8 L182.2 230.9 L182.7 231.1 L183.2 231.2 L183.7 231.3 L184.2 231.4 L184.7 231.5 L185.2 231.6 L185.7 231.7 L186.2 231.8 L186.7 231.9 L187.2 232 L187.7 232.1 L188.2 232.1 L188.7 232.2 L189.2 232.3 L189.7 232.3 L190.2 232.4 L190.7 232.5 L191.2 232.5 L191.7 232.6 L192.2 232.6 L192.7 232.7 L193.2 232.7 L193.7 232.8 L194.2 232.8 L194.7 232.9 L195.2 232.9 L195.7 232.9 L196.2 233 L196.7 233 L197.2 233.1 L197.7 233.1 L198.2 233.1 L198.7 233.2 L199.2 233.2" fill="none" stroke="#b060ff" stroke-width="1.2"/>
<line x1="32.8" y1="234.2" x2="237" y2="235.1" stroke="#5a4a6a" stroke-width="1.6"/>
<path d="M33 232.6 C35.3 232.2 42.5 231.5 46.8 230.3 C51.1 229.1 55 226.7 59 225.2 C63 223.7 66.8 222 70.5 221.5 C74.2 221 77.4 222.5 81.2 222.2 C85 221.9 89.4 221.6 93.5 219.8 C97.6 218 102.1 214.8 105.8 211.5 C109.5 208.2 112.7 202.8 115.6 200.2 C118.5 197.6 120.5 198.3 123 196.2 C125.5 194.1 128.3 192 130.4 187.8 C132.5 183.6 133.8 176.4 135.5 171 C137.2 165.6 138.9 159.2 140.4 155.5 C141.9 151.8 143.2 149.7 144.3 148.5 C145.4 147.3 146.1 147.8 147.2 148.4 C148.3 149 149.7 149.2 151 152 C152.3 154.8 153.5 160 154.8 165.5 C156.1 171 157.3 179.1 158.6 185.2 C159.9 191.3 161 196.8 162.4 202 C163.8 207.2 165.6 212.4 167.2 216.5 C168.8 220.6 169.9 223.6 172 226.5 C174.1 229.4 176.8 232.5 179.6 233.8 C182.4 235.2 185.7 234.4 189.1 234.6 C192.5 234.8 192.1 234.7 200 234.8 C207.9 234.9 230.4 235 236.5 235" fill="none" stroke="#000" stroke-width="1.1" stroke-linejoin="round" />
<path d="M33 232.9 C35.3 232.6 42.5 232.1 46.8 230.9 C51.1 229.8 55 227.4 59 226 C63 224.6 66.8 222.8 70.5 222.3 C74.2 221.8 77.4 223.3 81.2 223 C85 222.7 89.4 222.3 93.5 220.6 C97.6 218.8 102.1 215.7 105.8 212.5 C109.5 209.3 112.7 203.9 115.6 201.4 C118.5 198.9 120.5 199.8 123 197.7 C125.5 195.6 128.3 193.5 130.4 189.1 C132.5 184.7 133.8 177.3 135.5 171.5 C137.2 165.7 138.9 158.6 140.4 154.3 C141.9 150 143.2 147.3 144.3 145.5 C145.4 143.7 146.1 143.1 147.2 143.6 C148.3 144.1 149.7 145.1 151 148.4 C152.3 151.7 153.5 157.6 154.8 163.6 C156.1 169.6 157.3 178.2 158.6 184.6 C159.9 191 161 196.7 162.4 201.8 C163.8 206.9 165.6 211.4 167.2 215.1 C168.8 218.8 169.9 221.1 172 223.7 C174.1 226.3 176.8 229 179.6 230.6 C182.4 232.2 185.7 232.5 189.1 233 C192.5 233.5 192.1 233.5 200 233.8 C207.9 234.1 230.4 234.5 236.5 234.6" fill="none" stroke="#f00" stroke-width="1.5" stroke-linejoin="round" />
<line x1="73.9" y1="245.5" x2="73.9" y2="243" stroke="#111" stroke-width="1.1"/>
<line x1="114.8" y1="245.5" x2="114.8" y2="243" stroke="#111" stroke-width="1.1"/>
<line x1="155.7" y1="245.5" x2="155.7" y2="243" stroke="#111" stroke-width="1.1"/>
<line x1="196.6" y1="245.5" x2="196.6" y2="243" stroke="#111" stroke-width="1.1"/>
<line x1="53.4" y1="245.5" x2="53.4" y2="243.7" stroke="#111" stroke-width="1.0"/>
<line x1="94.3" y1="245.5" x2="94.3" y2="243.7" stroke="#111" stroke-width="1.0"/>
<line x1="135.2" y1="245.5" x2="135.2" y2="243.7" stroke="#111" stroke-width="1.0"/>
<line x1="176.1" y1="245.5" x2="176.1" y2="243.7" stroke="#111" stroke-width="1.0"/>
<line x1="217" y1="245.5" x2="217" y2="243.7" stroke="#111" stroke-width="1.0"/>
<rect x="270" y="9.5" width="204.5" height="233.5" fill="none" stroke="#111" stroke-width="1.5"/>
<line x1="270" y1="127.5" x2="474.5" y2="127.5" stroke="#111" stroke-width="1.5"/>
<path d="M290 109.8 L290.5 109.8 L291 109.8 L291.5 109.8 L292 109.8 L292.5 109.8 L293 109.8 L293.5 109.8 L294 109.8 L294.5 109.8 L295 109.8 L295.5 109.8 L296 109.8 L296.5 109.8 L297 109.8 L297.5 109.8 L298 109.8 L298.5 109.8 L299 109.8 L299.5 109.8 L300 109.8 L300.5 109.8 L301 109.8 L301.5 109.8 L302 109.9 L302.5 109.9 L303 109.9 L303.5 109.9 L304 109.9 L304.5 109.9 L305 109.9 L305.5 109.9 L306 109.9 L306.5 109.9 L307 109.9 L307.5 109.9 L308 109.9 L308.5 109.9 L309 109.9 L309.5 109.9 L310 109.9 L310.5 109.9 L311 109.9 L311.5 109.9 L312 109.9 L312.5 109.9 L313 109.9 L313.5 109.9 L314 109.9 L314.5 109.9 L315 109.9 L315.5 109.8 L316 109.8 L316.5 109.8 L317 109.8 L317.5 109.8 L318 109.8 L318.5 109.8 L319 109.8 L319.5 109.8 L320 109.8 L320.5 109.8 L321 109.8 L321.5 109.8 L322 109.8 L322.5 109.8 L323 109.8 L323.5 109.8 L324 109.8 L324.5 109.8 L325 109.8 L325.5 109.8 L326 109.7 L326.5 109.7 L327 109.7 L327.5 109.7 L328 109.7 L328.5 109.7 L329 109.7 L329.5 109.7 L330 109.6 L330.5 109.6 L331 109.6 L331.5 109.6 L332 109.6 L332.5 109.5 L333 109.5 L333.5 109.5 L334 109.5 L334.5 109.4 L335 109.4 L335.5 109.4 L336 109.3 L336.5 109.3 L337 109.2 L337.5 109.2 L338 109.1 L338.5 109.1 L339 109 L339.5 108.9 L340 108.8 L340.5 108.7 L341 108.6 L341.5 108.5 L342 108.4 L342.5 108.3 L343 108.2 L343.5 108 L344 107.9 L344.5 107.7 L345 107.5 L345.5 107.3 L346 107.1 L346.5 106.9 L347 106.6 L347.5 106.4 L348 106.1 L348.5 105.8 L349 105.5 L349.5 105.1 L350 104.7 L350.5 104.4 L351 103.9 L351.5 103.5 L352 103 L352.5 102.6 L353 102 L353.5 101.5 L354 100.9 L354.5 100.3 L355 99.7 L355.5 99.1 L356 98.4 L356.5 97.7 L357 97 L357.5 96.2 L358 95.5 L358.5 94.7 L359 93.9 L359.5 93 L360 92.2 L360.5 91.3 L361 90.5 L361.5 89.6 L362 88.7 L362.5 87.8 L363 86.9 L363.5 86 L364 85.1 L364.5 84.2 L365 83.3 L365.5 82.4 L366 81.6 L366.5 80.7 L367 79.9 L367.5 79.1 L368 78.4 L368.5 77.7 L369 77 L369.5 76.4 L370 75.9 L370.5 75.4 L371 74.9 L371.5 74.5 L372 74.2 L372.5 74 L373 73.8 L373.5 73.7 L374 73.7 L374.5 73.7 L375 73.8 L375.5 74 L376 74.3 L376.5 74.6 L377 75 L377.5 75.5 L378 76 L378.5 76.5 L379 77.2 L379.5 77.8 L380 78.5 L380.5 79.3 L381 80.1 L381.5 80.9 L382 81.8 L382.5 82.6 L383 83.5 L383.5 84.4 L384 85.3 L384.5 86.2 L385 87.1 L385.5 88.1 L386 89 L386.5 89.9 L387 90.8 L387.5 91.7 L388 92.5 L388.5 93.4 L389 94.2 L389.5 95.1 L390 95.9 L390.5 96.6 L391 97.4 L391.5 98.1 L392 98.8 L392.5 99.5 L393 100.2 L393.5 100.8 L394 101.4 L394.5 102 L395 102.6 L395.5 103.1 L396 103.6 L396.5 104.1 L397 104.5 L397.5 104.9 L398 105.3 L398.5 105.7 L399 106.1 L399.5 106.4 L400 106.7 L400.5 107 L401 107.3 L401.5 107.5 L402 107.8 L402.5 108 L403 108.2 L403.5 108.4 L404 108.6 L404.5 108.8 L405 108.9 L405.5 109.1 L406 109.2 L406.5 109.3 L407 109.5 L407.5 109.6 L408 109.7 L408.5 109.8 L409 109.8 L409.5 109.9 L410 110 L410.5 110.1 L411 110.1 L411.5 110.2 L412 110.2 L412.5 110.3 L413 110.4 L413.5 110.4 L414 110.4 L414.5 110.5 L415 110.5 L415.5 110.6 L416 110.6 L416.5 110.6 L417 110.7 L417.5 110.7 L418 110.7 L418.5 110.7 L419 110.8 L419.5 110.8 L420 110.8 L420.5 110.8 L421 110.9 L421.5 110.9 L422 110.9 L422.5 110.9 L423 111 L423.5 111 L424 111 L424.5 111 L425 111 L425.5 111.1 L426 111.1 L426.5 111.1 L427 111.1 L427.5 111.1 L428 111.1 L428.5 111.2 L429 111.2 L429.5 111.2 L430 111.2 L430.5 111.2 L431 111.2 L431.5 111.3 L432 111.3 L432.5 111.3 L433 111.3 L433.5 111.3 L434 111.3 L434.5 111.3 L435 111.3 L435.5 111.4 L436 111.4 L436.5 111.4 L437 111.4 L437.5 111.4 L438 111.4 L438.5 111.4 L439 111.5 L439.5 111.5 L440 111.5 L440.5 111.5 L441 111.5 L441.5 111.5 L442 111.5 L442.5 111.5 L443 111.5 L443.5 111.6 L444 111.6 L444.5 111.6 L445 111.6 L445.5 111.6 L446 111.6 L446.5 111.6 L447 111.6 L447.5 111.6 L448 111.7 L448.5 111.7 L449 111.7 L449.5 111.7 L450 111.7 L450.5 111.7 L451 111.7 L451.5 111.7 L452 111.7 L452.5 111.7 L453 111.8 L453.5 111.8 L454 111.8 L454.5 111.8 L455 111.8 L455.5 111.8 L456 111.8 L456.5 111.8 L457 111.8 L457.5 111.8 L458 111.8 L458 112.1 L290 110 Z" fill="url(#g7)" stroke="none"/>
<path d="M290 109.8 L290.5 109.8 L291 109.8 L291.5 109.8 L292 109.8 L292.5 109.8 L293 109.8 L293.5 109.8 L294 109.8 L294.5 109.8 L295 109.8 L295.5 109.8 L296 109.8 L296.5 109.8 L297 109.8 L297.5 109.8 L298 109.8 L298.5 109.8 L299 109.8 L299.5 109.8 L300 109.8 L300.5 109.8 L301 109.8 L301.5 109.8 L302 109.9 L302.5 109.9 L303 109.9 L303.5 109.9 L304 109.9 L304.5 109.9 L305 109.9 L305.5 109.9 L306 109.9 L306.5 109.9 L307 109.9 L307.5 109.9 L308 109.9 L308.5 109.9 L309 109.9 L309.5 109.9 L310 109.9 L310.5 109.9 L311 109.9 L311.5 109.9 L312 109.9 L312.5 109.9 L313 109.9 L313.5 109.9 L314 109.9 L314.5 109.9 L315 109.9 L315.5 109.8 L316 109.8 L316.5 109.8 L317 109.8 L317.5 109.8 L318 109.8 L318.5 109.8 L319 109.8 L319.5 109.8 L320 109.8 L320.5 109.8 L321 109.8 L321.5 109.8 L322 109.8 L322.5 109.8 L323 109.8 L323.5 109.8 L324 109.8 L324.5 109.8 L325 109.8 L325.5 109.8 L326 109.7 L326.5 109.7 L327 109.7 L327.5 109.7 L328 109.7 L328.5 109.7 L329 109.7 L329.5 109.7 L330 109.6 L330.5 109.6 L331 109.6 L331.5 109.6 L332 109.6 L332.5 109.5 L333 109.5 L333.5 109.5 L334 109.5 L334.5 109.4 L335 109.4 L335.5 109.4 L336 109.3 L336.5 109.3 L337 109.2 L337.5 109.2 L338 109.1 L338.5 109.1 L339 109 L339.5 108.9 L340 108.8 L340.5 108.7 L341 108.6 L341.5 108.5 L342 108.4 L342.5 108.3 L343 108.2 L343.5 108 L344 107.9 L344.5 107.7 L345 107.5 L345.5 107.3 L346 107.1 L346.5 106.9 L347 106.6 L347.5 106.4 L348 106.1 L348.5 105.8 L349 105.5 L349.5 105.1 L350 104.7 L350.5 104.4 L351 103.9 L351.5 103.5 L352 103 L352.5 102.6 L353 102 L353.5 101.5 L354 100.9 L354.5 100.3 L355 99.7 L355.5 99.1 L356 98.4 L356.5 97.7 L357 97 L357.5 96.2 L358 95.5 L358.5 94.7 L359 93.9 L359.5 93 L360 92.2 L360.5 91.3 L361 90.5 L361.5 89.6 L362 88.7 L362.5 87.8 L363 86.9 L363.5 86 L364 85.1 L364.5 84.2 L365 83.3 L365.5 82.4 L366 81.6 L366.5 80.7 L367 79.9 L367.5 79.1 L368 78.4 L368.5 77.7 L369 77 L369.5 76.4 L370 75.9 L370.5 75.4 L371 74.9 L371.5 74.5 L372 74.2 L372.5 74 L373 73.8 L373.5 73.7 L374 73.7 L374.5 73.7 L375 73.8 L375.5 74 L376 74.3 L376.5 74.6 L377 75 L377.5 75.5 L378 76 L378.5 76.5 L379 77.2 L379.5 77.8 L380 78.5 L380.5 79.3 L381 80.1 L381.5 80.9 L382 81.8 L382.5 82.6 L383 83.5 L383.5 84.4 L384 85.3 L384.5 86.2 L385 87.1 L385.5 88.1 L386 89 L386.5 89.9 L387 90.8 L387.5 91.7 L388 92.5 L388.5 93.4 L389 94.2 L389.5 95.1 L390 95.9 L390.5 96.6 L391 97.4 L391.5 98.1 L392 98.8 L392.5 99.5 L393 100.2 L393.5 100.8 L394 101.4 L394.5 102 L395 102.6 L395.5 103.1 L396 103.6 L396.5 104.1 L397 104.5 L397.5 104.9 L398 105.3 L398.5 105.7 L399 106.1 L399.5 106.4 L400 106.7 L400.5 107 L401 107.3 L401.5 107.5 L402 107.8 L402.5 108 L403 108.2 L403.5 108.4 L404 108.6 L404.5 108.8 L405 108.9 L405.5 109.1 L406 109.2 L406.5 109.3 L407 109.5 L407.5 109.6 L408 109.7 L408.5 109.8 L409 109.8 L409.5 109.9 L410 110 L410.5 110.1 L411 110.1 L411.5 110.2 L412 110.2 L412.5 110.3 L413 110.4 L413.5 110.4 L414 110.4 L414.5 110.5 L415 110.5 L415.5 110.6 L416 110.6 L416.5 110.6 L417 110.7 L417.5 110.7 L418 110.7 L418.5 110.7 L419 110.8 L419.5 110.8 L420 110.8 L420.5 110.8 L421 110.9 L421.5 110.9 L422 110.9 L422.5 110.9 L423 111 L423.5 111 L424 111 L424.5 111 L425 111 L425.5 111.1 L426 111.1 L426.5 111.1 L427 111.1 L427.5 111.1 L428 111.1 L428.5 111.2 L429 111.2 L429.5 111.2 L430 111.2 L430.5 111.2 L431 111.2 L431.5 111.3 L432 111.3 L432.5 111.3 L433 111.3 L433.5 111.3 L434 111.3 L434.5 111.3 L435 111.3 L435.5 111.4 L436 111.4 L436.5 111.4 L437 111.4 L437.5 111.4 L438 111.4 L438.5 111.4 L439 111.5 L439.5 111.5 L440 111.5 L440.5 111.5 L441 111.5 L441.5 111.5 L442 111.5 L442.5 111.5 L443 111.5 L443.5 111.6 L444 111.6 L444.5 111.6 L445 111.6 L445.5 111.6 L446 111.6 L446.5 111.6 L447 111.6 L447.5 111.6 L448 111.7 L448.5 111.7 L449 111.7 L449.5 111.7 L450 111.7 L450.5 111.7 L451 111.7 L451.5 111.7 L452 111.7 L452.5 111.7 L453 111.8 L453.5 111.8 L454 111.8 L454.5 111.8 L455 111.8 L455.5 111.8 L456 111.8 L456.5 111.8 L457 111.8 L457.5 111.8 L458 111.8" fill="none" stroke="#10d4f4" stroke-width="1.3"/>
<path d="M325 109.7 L325.5 109.7 L326 109.7 L326.5 109.6 L327 109.6 L327.5 109.6 L328 109.6 L328.5 109.6 L329 109.6 L329.5 109.6 L330 109.6 L330.5 109.6 L331 109.6 L331.5 109.6 L332 109.6 L332.5 109.6 L333 109.5 L333.5 109.5 L334 109.5 L334.5 109.5 L335 109.5 L335.5 109.5 L336 109.5 L336.5 109.5 L337 109.5 L337.5 109.4 L338 109.4 L338.5 109.4 L339 109.4 L339.5 109.4 L340 109.4 L340.5 109.3 L341 109.3 L341.5 109.3 L342 109.3 L342.5 109.3 L343 109.2 L343.5 109.2 L344 109.2 L344.5 109.2 L345 109.2 L345.5 109.1 L346 109.1 L346.5 109.1 L347 109.1 L347.5 109 L348 109 L348.5 109 L349 108.9 L349.5 108.9 L350 108.9 L350.5 108.8 L351 108.8 L351.5 108.8 L352 108.7 L352.5 108.7 L353 108.6 L353.5 108.6 L354 108.5 L354.5 108.5 L355 108.4 L355.5 108.4 L356 108.3 L356.5 108.3 L357 108.2 L357.5 108.1 L358 108.1 L358.5 108 L359 107.9 L359.5 107.9 L360 107.8 L360.5 107.7 L361 107.6 L361.5 107.5 L362 107.4 L362.5 107.3 L363 107.1 L363.5 107 L364 106.9 L364.5 106.7 L365 106.5 L365.5 106.4 L366 106.2 L366.5 106 L367 105.7 L367.5 105.5 L368 105.3 L368.5 105 L369 104.7 L369.5 104.3 L370 104 L370.5 103.6 L371 103.2 L371.5 102.8 L372 102.3 L372.5 101.8 L373 101.2 L373.5 100.6 L374 100 L374.5 99.3 L375 98.6 L375.5 97.8 L376 97 L376.5 96.1 L377 95.2 L377.5 94.2 L378 93.1 L378.5 92.1 L379 90.9 L379.5 89.7 L380 88.4 L380.5 87.1 L381 85.7 L381.5 84.3 L382 82.8 L382.5 81.3 L383 79.8 L383.5 78.2 L384 76.5 L384.5 74.9 L385 73.2 L385.5 71.5 L386 69.8 L386.5 68.1 L387 66.4 L387.5 64.7 L388 63.1 L388.5 61.5 L389 60 L389.5 58.5 L390 57.2 L390.5 56 L391 54.9 L391.5 53.9 L392 53.1 L392.5 52.4 L393 52 L393.5 51.7 L394 51.6 L394.5 51.7 L395 52 L395.5 52.5 L396 53.1 L396.5 54 L397 54.9 L397.5 56 L398 57.3 L398.5 58.6 L399 60.1 L399.5 61.6 L400 63.2 L400.5 64.9 L401 66.5 L401.5 68.2 L402 70 L402.5 71.7 L403 73.4 L403.5 75.1 L404 76.8 L404.5 78.4 L405 80 L405.5 81.6 L406 83.1 L406.5 84.6 L407 86.1 L407.5 87.4 L408 88.8 L408.5 90.1 L409 91.3 L409.5 92.4 L410 93.5 L410.5 94.6 L411 95.6 L411.5 96.5 L412 97.4 L412.5 98.3 L413 99 L413.5 99.8 L414 100.5 L414.5 101.1 L415 101.7 L415.5 102.3 L416 102.8 L416.5 103.3 L417 103.8 L417.5 104.2 L418 104.6 L418.5 104.9 L419 105.3 L419.5 105.6 L420 105.9 L420.5 106.2 L421 106.4 L421.5 106.6 L422 106.9 L422.5 107.1 L423 107.3 L423.5 107.4 L424 107.6 L424.5 107.7 L425 107.9 L425.5 108 L426 108.2 L426.5 108.3 L427 108.4 L427.5 108.5 L428 108.6 L428.5 108.7 L429 108.8 L429.5 108.9 L430 109 L430.5 109 L431 109.1 L431.5 109.2 L432 109.3 L432.5 109.3 L433 109.4 L433.5 109.5 L434 109.5 L434.5 109.6 L435 109.6 L435.5 109.7 L436 109.7 L436.5 109.8 L437 109.8 L437.5 109.9 L438 109.9 L438.5 110 L439 110 L439.5 110.1 L440 110.1 L440.5 110.2 L441 110.2 L441.5 110.2 L442 110.3 L442.5 110.3 L443 110.4 L443.5 110.4 L444 110.4 L444.5 110.5 L445 110.5 L445.5 110.5 L446 110.6 L446.5 110.6 L447 110.6 L447.5 110.7 L448 110.7 L448.5 110.7 L449 110.7 L449.5 110.8 L450 110.8 L450.5 110.8 L451 110.8 L451.5 110.9 L452 110.9 L452.5 110.9 L453 110.9 L453.5 111 L454 111 L454.5 111 L455 111 L455.5 111.1 L456 111.1 L456.5 111.1 L457 111.1 L457.5 111.1 L458 111.2 L458.5 111.2 L459 111.2 L459.5 111.2 L460 111.2 L460.5 111.3 L461 111.3 L461.5 111.3 L462 111.3 L462.5 111.3 L463 111.4 L463 112.2 L325 110.5 Z" fill="url(#g8)" stroke="none"/>
<path d="M325 109.7 L325.5 109.7 L326 109.7 L326.5 109.6 L327 109.6 L327.5 109.6 L328 109.6 L328.5 109.6 L329 109.6 L329.5 109.6 L330 109.6 L330.5 109.6 L331 109.6 L331.5 109.6 L332 109.6 L332.5 109.6 L333 109.5 L333.5 109.5 L334 109.5 L334.5 109.5 L335 109.5 L335.5 109.5 L336 109.5 L336.5 109.5 L337 109.5 L337.5 109.4 L338 109.4 L338.5 109.4 L339 109.4 L339.5 109.4 L340 109.4 L340.5 109.3 L341 109.3 L341.5 109.3 L342 109.3 L342.5 109.3 L343 109.2 L343.5 109.2 L344 109.2 L344.5 109.2 L345 109.2 L345.5 109.1 L346 109.1 L346.5 109.1 L347 109.1 L347.5 109 L348 109 L348.5 109 L349 108.9 L349.5 108.9 L350 108.9 L350.5 108.8 L351 108.8 L351.5 108.8 L352 108.7 L352.5 108.7 L353 108.6 L353.5 108.6 L354 108.5 L354.5 108.5 L355 108.4 L355.5 108.4 L356 108.3 L356.5 108.3 L357 108.2 L357.5 108.1 L358 108.1 L358.5 108 L359 107.9 L359.5 107.9 L360 107.8 L360.5 107.7 L361 107.6 L361.5 107.5 L362 107.4 L362.5 107.3 L363 107.1 L363.5 107 L364 106.9 L364.5 106.7 L365 106.5 L365.5 106.4 L366 106.2 L366.5 106 L367 105.7 L367.5 105.5 L368 105.3 L368.5 105 L369 104.7 L369.5 104.3 L370 104 L370.5 103.6 L371 103.2 L371.5 102.8 L372 102.3 L372.5 101.8 L373 101.2 L373.5 100.6 L374 100 L374.5 99.3 L375 98.6 L375.5 97.8 L376 97 L376.5 96.1 L377 95.2 L377.5 94.2 L378 93.1 L378.5 92.1 L379 90.9 L379.5 89.7 L380 88.4 L380.5 87.1 L381 85.7 L381.5 84.3 L382 82.8 L382.5 81.3 L383 79.8 L383.5 78.2 L384 76.5 L384.5 74.9 L385 73.2 L385.5 71.5 L386 69.8 L386.5 68.1 L387 66.4 L387.5 64.7 L388 63.1 L388.5 61.5 L389 60 L389.5 58.5 L390 57.2 L390.5 56 L391 54.9 L391.5 53.9 L392 53.1 L392.5 52.4 L393 52 L393.5 51.7 L394 51.6 L394.5 51.7 L395 52 L395.5 52.5 L396 53.1 L396.5 54 L397 54.9 L397.5 56 L398 57.3 L398.5 58.6 L399 60.1 L399.5 61.6 L400 63.2 L400.5 64.9 L401 66.5 L401.5 68.2 L402 70 L402.5 71.7 L403 73.4 L403.5 75.1 L404 76.8 L404.5 78.4 L405 80 L405.5 81.6 L406 83.1 L406.5 84.6 L407 86.1 L407.5 87.4 L408 88.8 L408.5 90.1 L409 91.3 L409.5 92.4 L410 93.5 L410.5 94.6 L411 95.6 L411.5 96.5 L412 97.4 L412.5 98.3 L413 99 L413.5 99.8 L414 100.5 L414.5 101.1 L415 101.7 L415.5 102.3 L416 102.8 L416.5 103.3 L417 103.8 L417.5 104.2 L418 104.6 L418.5 104.9 L419 105.3 L419.5 105.6 L420 105.9 L420.5 106.2 L421 106.4 L421.5 106.6 L422 106.9 L422.5 107.1 L423 107.3 L423.5 107.4 L424 107.6 L424.5 107.7 L425 107.9 L425.5 108 L426 108.2 L426.5 108.3 L427 108.4 L427.5 108.5 L428 108.6 L428.5 108.7 L429 108.8 L429.5 108.9 L430 109 L430.5 109 L431 109.1 L431.5 109.2 L432 109.3 L432.5 109.3 L433 109.4 L433.5 109.5 L434 109.5 L434.5 109.6 L435 109.6 L435.5 109.7 L436 109.7 L436.5 109.8 L437 109.8 L437.5 109.9 L438 109.9 L438.5 110 L439 110 L439.5 110.1 L440 110.1 L440.5 110.2 L441 110.2 L441.5 110.2 L442 110.3 L442.5 110.3 L443 110.4 L443.5 110.4 L444 110.4 L444.5 110.5 L445 110.5 L445.5 110.5 L446 110.6 L446.5 110.6 L447 110.6 L447.5 110.7 L448 110.7 L448.5 110.7 L449 110.7 L449.5 110.8 L450 110.8 L450.5 110.8 L451 110.8 L451.5 110.9 L452 110.9 L452.5 110.9 L453 110.9 L453.5 111 L454 111 L454.5 111 L455 111 L455.5 111.1 L456 111.1 L456.5 111.1 L457 111.1 L457.5 111.1 L458 111.2 L458.5 111.2 L459 111.2 L459.5 111.2 L460 111.2 L460.5 111.3 L461 111.3 L461.5 111.3 L462 111.3 L462.5 111.3 L463 111.4" fill="none" stroke="#10e060" stroke-width="1.3"/>
<path d="M389 111 L389.5 111 L390 111 L390.5 111 L391 111 L391.5 111 L392 111 L392.5 111 L393 111 L393.5 111 L394 111 L394.5 111 L395 111 L395.5 111 L396 111 L396.5 111 L397 110.9 L397.5 110.9 L398 110.9 L398.5 110.9 L399 110.9 L399.5 110.9 L400 110.8 L400.5 110.8 L401 110.8 L401.5 110.8 L402 110.7 L402.5 110.7 L403 110.6 L403.5 110.6 L404 110.5 L404.5 110.4 L405 110.4 L405.5 110.3 L406 110.2 L406.5 110 L407 109.9 L407.5 109.8 L408 109.6 L408.5 109.4 L409 109.2 L409.5 109 L410 108.8 L410.5 108.5 L411 108.2 L411.5 107.9 L412 107.6 L412.5 107.2 L413 106.8 L413.5 106.4 L414 106 L414.5 105.5 L415 105 L415.5 104.5 L416 104 L416.5 103.5 L417 102.9 L417.5 102.4 L418 101.8 L418.5 101.2 L419 100.7 L419.5 100.1 L420 99.5 L420.5 99 L421 98.4 L421.5 97.9 L422 97.5 L422.5 97 L423 96.6 L423.5 96.3 L424 96 L424.5 95.8 L425 95.6 L425.5 95.5 L426 95.5 L426.5 95.5 L427 95.7 L427.5 95.8 L428 96.1 L428.5 96.4 L429 96.7 L429.5 97.1 L430 97.6 L430.5 98.1 L431 98.6 L431.5 99.1 L432 99.7 L432.5 100.2 L433 100.8 L433.5 101.4 L434 102 L434.5 102.6 L435 103.2 L435.5 103.7 L436 104.3 L436.5 104.8 L437 105.3 L437.5 105.8 L438 106.3 L438.5 106.7 L439 107.1 L439.5 107.5 L440 107.9 L440.5 108.3 L441 108.6 L441.5 108.9 L442 109.1 L442.5 109.4 L443 109.6 L443.5 109.8 L444 110 L444.5 110.2 L445 110.4 L445.5 110.5 L446 110.6 L446.5 110.8 L447 110.9 L447.5 111 L448 111 L448.5 111.1 L449 111.2 L449.5 111.3 L450 111.3 L450.5 111.4 L451 111.4 L451.5 111.4 L452 111.5 L452.5 111.5 L453 111.5 L453.5 111.6 L454 111.6 L454.5 111.6 L455 111.7 L455.5 111.7 L456 111.7 L456.5 111.7 L457 111.7 L457.5 111.7 L458 111.8 L458.5 111.8 L459 111.8 L459.5 111.8 L460 111.8 L460.5 111.8 L461 111.9 L461.5 111.9 L462 111.9 L462.5 111.9 L463 111.9 L463 112.2 L389 111.3 Z" fill="url(#g9)" stroke="none"/>
<path d="M389 111 L389.5 111 L390 111 L390.5 111 L391 111 L391.5 111 L392 111 L392.5 111 L393 111 L393.5 111 L394 111 L394.5 111 L395 111 L395.5 111 L396 111 L396.5 111 L397 110.9 L397.5 110.9 L398 110.9 L398.5 110.9 L399 110.9 L399.5 110.9 L400 110.8 L400.5 110.8 L401 110.8 L401.5 110.8 L402 110.7 L402.5 110.7 L403 110.6 L403.5 110.6 L404 110.5 L404.5 110.4 L405 110.4 L405.5 110.3 L406 110.2 L406.5 110 L407 109.9 L407.5 109.8 L408 109.6 L408.5 109.4 L409 109.2 L409.5 109 L410 108.8 L410.5 108.5 L411 108.2 L411.5 107.9 L412 107.6 L412.5 107.2 L413 106.8 L413.5 106.4 L414 106 L414.5 105.5 L415 105 L415.5 104.5 L416 104 L416.5 103.5 L417 102.9 L417.5 102.4 L418 101.8 L418.5 101.2 L419 100.7 L419.5 100.1 L420 99.5 L420.5 99 L421 98.4 L421.5 97.9 L422 97.5 L422.5 97 L423 96.6 L423.5 96.3 L424 96 L424.5 95.8 L425 95.6 L425.5 95.5 L426 95.5 L426.5 95.5 L427 95.7 L427.5 95.8 L428 96.1 L428.5 96.4 L429 96.7 L429.5 97.1 L430 97.6 L430.5 98.1 L431 98.6 L431.5 99.1 L432 99.7 L432.5 100.2 L433 100.8 L433.5 101.4 L434 102 L434.5 102.6 L435 103.2 L435.5 103.7 L436 104.3 L436.5 104.8 L437 105.3 L437.5 105.8 L438 106.3 L438.5 106.7 L439 107.1 L439.5 107.5 L440 107.9 L440.5 108.3 L441 108.6 L441.5 108.9 L442 109.1 L442.5 109.4 L443 109.6 L443.5 109.8 L444 110 L444.5 110.2 L445 110.4 L445.5 110.5 L446 110.6 L446.5 110.8 L447 110.9 L447.5 111 L448 111 L448.5 111.1 L449 111.2 L449.5 111.3 L450 111.3 L450.5 111.4 L451 111.4 L451.5 111.4 L452 111.5 L452.5 111.5 L453 111.5 L453.5 111.6 L454 111.6 L454.5 111.6 L455 111.7 L455.5 111.7 L456 111.7 L456.5 111.7 L457 111.7 L457.5 111.7 L458 111.8 L458.5 111.8 L459 111.8 L459.5 111.8 L460 111.8 L460.5 111.8 L461 111.9 L461.5 111.9 L462 111.9 L462.5 111.9 L463 111.9" fill="none" stroke="#2a98ec" stroke-width="1.2"/>
<line x1="270" y1="109.8" x2="474.5" y2="112.3" stroke="#1aa0e0" stroke-width="2.0"/>
<path d="M270 107.8 C271.7 107.6 276.7 107.2 280 106.8 C283.3 106.4 287 105.7 290 105.4 C293 105.1 295.3 105 298 105.2 C300.7 105.4 303.3 106 306 106.4 C308.7 106.8 311.3 107.4 314 107.4 C316.7 107.4 319.3 106.9 322 106.6 C324.7 106.2 327.4 106 330 105.3 C332.6 104.6 335 103.5 337.5 102.2 C340 100.9 342.7 99.2 345 97.2 C347.3 95.2 349.4 92.9 351.2 90.3 C353.1 87.7 354.6 84.7 356.2 81.6 C357.9 78.5 359.6 74.9 361.2 71.5 C362.9 68.1 364.4 64.6 366.2 61 C368.1 57.4 370.8 53.2 372.5 50 C374.2 46.8 375.1 44.1 376.7 41.5 C378.2 38.9 379.8 36 381.8 34.5 C383.8 33 386.7 32.2 388.7 32.2 C390.7 32.2 392.2 33 393.9 34.6 C395.6 36.2 397.4 38.7 399.1 42 C400.8 45.3 402.6 50.2 404.3 54.5 C406 58.8 407.6 63.5 409.5 67.5 C411.4 71.5 413.5 75.6 415.7 78.2 C417.9 80.8 420.3 81.3 422.6 83 C424.9 84.7 427.3 86.3 429.6 88.6 C431.9 90.9 434.2 94.1 436.5 97 C438.8 99.9 441.1 103.8 443.4 105.8 C445.7 107.8 447.4 108.5 450.3 109.2 C453.2 109.9 456.8 109.9 460.7 110.1 C464.6 110.3 471.8 110.4 474 110.4" fill="none" stroke="#000" stroke-width="1.1" stroke-linejoin="round" />
<path d="M270 107.6 C272.5 107.5 280 107.3 285 107.3 C290 107.2 295.5 107.3 300 107.3 C304.5 107.3 308.3 107.3 312 107.2 C315.7 107.1 319 106.8 322 106.4 C325 106 327.4 105.8 330 105 C332.6 104.2 335 103.2 337.5 101.9 C340 100.6 342.7 98.9 345 96.9 C347.3 94.9 349.4 92.6 351.2 90 C353.1 87.4 354.6 84.4 356.2 81.2 C357.9 78.1 359.6 74.6 361.2 71.2 C362.9 67.9 364.4 64.7 366.2 61.2 C368.1 57.8 370.8 53.7 372.5 50.5 C374.2 47.3 375.1 44.6 376.7 42 C378.2 39.4 379.8 36.7 381.8 35 C383.8 33.3 386.7 31.9 388.7 31.7 C390.7 31.5 392.2 32.3 393.9 33.8 C395.6 35.3 397.4 37.5 399.1 40.7 C400.8 43.9 402.6 48.5 404.3 52.8 C406 57.1 407.6 62.5 409.5 66.7 C411.4 70.9 413.5 75.4 415.7 78.2 C417.9 81 420.3 81.7 422.6 83.5 C424.9 85.3 427.3 86.7 429.6 89.1 C431.9 91.5 434.2 95.1 436.5 97.8 C438.8 100.5 441.1 103.7 443.4 105.5 C445.7 107.3 447.4 107.9 450.3 108.6 C453.2 109.3 456.8 109.5 460.7 109.8 C464.6 110.1 471.8 110.2 474 110.3" fill="none" stroke="#f00" stroke-width="1.5" stroke-linejoin="round" />
<path d="M289 228.7 L289.5 228.7 L290 228.7 L290.5 228.7 L291 228.7 L291.5 228.7 L292 228.7 L292.5 228.7 L293 228.7 L293.5 228.7 L294 228.7 L294.5 228.7 L295 228.8 L295.5 228.8 L296 228.8 L296.5 228.8 L297 228.8 L297.5 228.8 L298 228.8 L298.5 228.8 L299 228.8 L299.5 228.8 L300 228.8 L300.5 228.8 L301 228.8 L301.5 228.8 L302 228.8 L302.5 228.8 L303 228.8 L303.5 228.8 L304 228.8 L304.5 228.8 L305 228.8 L305.5 228.8 L306 228.8 L306.5 228.7 L307 228.7 L307.5 228.7 L308 228.7 L308.5 228.7 L309 228.7 L309.5 228.7 L310 228.7 L310.5 228.7 L311 228.7 L311.5 228.7 L312 228.7 L312.5 228.7 L313 228.7 L313.5 228.7 L314 228.7 L314.5 228.7 L315 228.7 L315.5 228.7 L316 228.7 L316.5 228.7 L317 228.7 L317.5 228.7 L318 228.6 L318.5 228.6 L319 228.6 L319.5 228.6 L320 228.6 L320.5 228.6 L321 228.6 L321.5 228.6 L322 228.6 L322.5 228.5 L323 228.5 L323.5 228.5 L324 228.5 L324.5 228.5 L325 228.5 L325.5 228.4 L326 228.4 L326.5 228.4 L327 228.4 L327.5 228.3 L328 228.3 L328.5 228.3 L329 228.3 L329.5 228.2 L330 228.2 L330.5 228.1 L331 228.1 L331.5 228 L332 228 L332.5 227.9 L333 227.8 L333.5 227.8 L334 227.7 L334.5 227.6 L335 227.5 L335.5 227.4 L336 227.3 L336.5 227.1 L337 227 L337.5 226.8 L338 226.7 L338.5 226.5 L339 226.3 L339.5 226.1 L340 225.8 L340.5 225.6 L341 225.3 L341.5 225 L342 224.7 L342.5 224.3 L343 224 L343.5 223.6 L344 223.1 L344.5 222.7 L345 222.2 L345.5 221.6 L346 221.1 L346.5 220.5 L347 219.9 L347.5 219.2 L348 218.5 L348.5 217.7 L349 217 L349.5 216.2 L350 215.3 L350.5 214.4 L351 213.5 L351.5 212.6 L352 211.6 L352.5 210.5 L353 209.5 L353.5 208.4 L354 207.3 L354.5 206.2 L355 205.1 L355.5 203.9 L356 202.7 L356.5 201.6 L357 200.4 L357.5 199.2 L358 198.1 L358.5 196.9 L359 195.8 L359.5 194.7 L360 193.6 L360.5 192.5 L361 191.5 L361.5 190.6 L362 189.7 L362.5 188.8 L363 188.1 L363.5 187.4 L364 186.7 L364.5 186.2 L365 185.8 L365.5 185.4 L366 185.2 L366.5 185 L367 185 L367.5 185 L368 185.2 L368.5 185.5 L369 185.8 L369.5 186.3 L370 186.8 L370.5 187.4 L371 188.2 L371.5 188.9 L372 189.8 L372.5 190.7 L373 191.7 L373.5 192.7 L374 193.7 L374.5 194.8 L375 196 L375.5 197.1 L376 198.3 L376.5 199.5 L377 200.6 L377.5 201.8 L378 203 L378.5 204.2 L379 205.4 L379.5 206.5 L380 207.6 L380.5 208.8 L381 209.8 L381.5 210.9 L382 211.9 L382.5 212.9 L383 213.9 L383.5 214.8 L384 215.7 L384.5 216.6 L385 217.4 L385.5 218.2 L386 219 L386.5 219.7 L387 220.3 L387.5 221 L388 221.6 L388.5 222.2 L389 222.7 L389.5 223.2 L390 223.7 L390.5 224.1 L391 224.5 L391.5 224.9 L392 225.3 L392.5 225.6 L393 225.9 L393.5 226.2 L394 226.5 L394.5 226.7 L395 227 L395.5 227.2 L396 227.4 L396.5 227.6 L397 227.7 L397.5 227.9 L398 228 L398.5 228.2 L399 228.3 L399.5 228.4 L400 228.5 L400.5 228.6 L401 228.7 L401.5 228.8 L402 228.8 L402.5 228.9 L403 229 L403.5 229 L404 229.1 L404.5 229.1 L405 229.2 L405.5 229.2 L406 229.3 L406.5 229.3 L407 229.4 L407.5 229.4 L408 229.4 L408.5 229.5 L409 229.5 L409.5 229.5 L410 229.6 L410.5 229.6 L411 229.6 L411.5 229.6 L412 229.7 L412.5 229.7 L413 229.7 L413.5 229.7 L414 229.8 L414.5 229.8 L415 229.8 L415.5 229.8 L416 229.8 L416.5 229.9 L417 229.9 L417.5 229.9 L418 229.9 L418.5 229.9 L419 230 L419.5 230 L420 230 L420.5 230 L421 230 L421.5 230 L422 230.1 L422.5 230.1 L423 230.1 L423.5 230.1 L424 230.1 L424.5 230.1 L425 230.2 L425.5 230.2 L426 230.2 L426.5 230.2 L427 230.2 L427.5 230.2 L428 230.2 L428.5 230.3 L429 230.3 L429.5 230.3 L430 230.3 L430.5 230.3 L431 230.3 L431.5 230.3 L432 230.3 L432.5 230.4 L433 230.4 L433.5 230.4 L434 230.4 L434.5 230.4 L435 230.4 L435.5 230.4 L436 230.4 L436.5 230.5 L437 230.5 L437.5 230.5 L438 230.5 L438.5 230.5 L439 230.5 L439.5 230.5 L440 230.5 L440.5 230.5 L441 230.6 L441.5 230.6 L442 230.6 L442.5 230.6 L443 230.6 L443.5 230.6 L444 230.6 L444.5 230.6 L445 230.6 L445 230.9 L289 229 Z" fill="url(#g10)" stroke="none"/>
<path d="M289 228.7 L289.5 228.7 L290 228.7 L290.5 228.7 L291 228.7 L291.5 228.7 L292 228.7 L292.5 228.7 L293 228.7 L293.5 228.7 L294 228.7 L294.5 228.7 L295 228.8 L295.5 228.8 L296 228.8 L296.5 228.8 L297 228.8 L297.5 228.8 L298 228.8 L298.5 228.8 L299 228.8 L299.5 228.8 L300 228.8 L300.5 228.8 L301 228.8 L301.5 228.8 L302 228.8 L302.5 228.8 L303 228.8 L303.5 228.8 L304 228.8 L304.5 228.8 L305 228.8 L305.5 228.8 L306 228.8 L306.5 228.7 L307 228.7 L307.5 228.7 L308 228.7 L308.5 228.7 L309 228.7 L309.5 228.7 L310 228.7 L310.5 228.7 L311 228.7 L311.5 228.7 L312 228.7 L312.5 228.7 L313 228.7 L313.5 228.7 L314 228.7 L314.5 228.7 L315 228.7 L315.5 228.7 L316 228.7 L316.5 228.7 L317 228.7 L317.5 228.7 L318 228.6 L318.5 228.6 L319 228.6 L319.5 228.6 L320 228.6 L320.5 228.6 L321 228.6 L321.5 228.6 L322 228.6 L322.5 228.5 L323 228.5 L323.5 228.5 L324 228.5 L324.5 228.5 L325 228.5 L325.5 228.4 L326 228.4 L326.5 228.4 L327 228.4 L327.5 228.3 L328 228.3 L328.5 228.3 L329 228.3 L329.5 228.2 L330 228.2 L330.5 228.1 L331 228.1 L331.5 228 L332 228 L332.5 227.9 L333 227.8 L333.5 227.8 L334 227.7 L334.5 227.6 L335 227.5 L335.5 227.4 L336 227.3 L336.5 227.1 L337 227 L337.5 226.8 L338 226.7 L338.5 226.5 L339 226.3 L339.5 226.1 L340 225.8 L340.5 225.6 L341 225.3 L341.5 225 L342 224.7 L342.5 224.3 L343 224 L343.5 223.6 L344 223.1 L344.5 222.7 L345 222.2 L345.5 221.6 L346 221.1 L346.5 220.5 L347 219.9 L347.5 219.2 L348 218.5 L348.5 217.7 L349 217 L349.5 216.2 L350 215.3 L350.5 214.4 L351 213.5 L351.5 212.6 L352 211.6 L352.5 210.5 L353 209.5 L353.5 208.4 L354 207.3 L354.5 206.2 L355 205.1 L355.5 203.9 L356 202.7 L356.5 201.6 L357 200.4 L357.5 199.2 L358 198.1 L358.5 196.9 L359 195.8 L359.5 194.7 L360 193.6 L360.5 192.5 L361 191.5 L361.5 190.6 L362 189.7 L362.5 188.8 L363 188.1 L363.5 187.4 L364 186.7 L364.5 186.2 L365 185.8 L365.5 185.4 L366 185.2 L366.5 185 L367 185 L367.5 185 L368 185.2 L368.5 185.5 L369 185.8 L369.5 186.3 L370 186.8 L370.5 187.4 L371 188.2 L371.5 188.9 L372 189.8 L372.5 190.7 L373 191.7 L373.5 192.7 L374 193.7 L374.5 194.8 L375 196 L375.5 197.1 L376 198.3 L376.5 199.5 L377 200.6 L377.5 201.8 L378 203 L378.5 204.2 L379 205.4 L379.5 206.5 L380 207.6 L380.5 208.8 L381 209.8 L381.5 210.9 L382 211.9 L382.5 212.9 L383 213.9 L383.5 214.8 L384 215.7 L384.5 216.6 L385 217.4 L385.5 218.2 L386 219 L386.5 219.7 L387 220.3 L387.5 221 L388 221.6 L388.5 222.2 L389 222.7 L389.5 223.2 L390 223.7 L390.5 224.1 L391 224.5 L391.5 224.9 L392 225.3 L392.5 225.6 L393 225.9 L393.5 226.2 L394 226.5 L394.5 226.7 L395 227 L395.5 227.2 L396 227.4 L396.5 227.6 L397 227.7 L397.5 227.9 L398 228 L398.5 228.2 L399 228.3 L399.5 228.4 L400 228.5 L400.5 228.6 L401 228.7 L401.5 228.8 L402 228.8 L402.5 228.9 L403 229 L403.5 229 L404 229.1 L404.5 229.1 L405 229.2 L405.5 229.2 L406 229.3 L406.5 229.3 L407 229.4 L407.5 229.4 L408 229.4 L408.5 229.5 L409 229.5 L409.5 229.5 L410 229.6 L410.5 229.6 L411 229.6 L411.5 229.6 L412 229.7 L412.5 229.7 L413 229.7 L413.5 229.7 L414 229.8 L414.5 229.8 L415 229.8 L415.5 229.8 L416 229.8 L416.5 229.9 L417 229.9 L417.5 229.9 L418 229.9 L418.5 229.9 L419 230 L419.5 230 L420 230 L420.5 230 L421 230 L421.5 230 L422 230.1 L422.5 230.1 L423 230.1 L423.5 230.1 L424 230.1 L424.5 230.1 L425 230.2 L425.5 230.2 L426 230.2 L426.5 230.2 L427 230.2 L427.5 230.2 L428 230.2 L428.5 230.3 L429 230.3 L429.5 230.3 L430 230.3 L430.5 230.3 L431 230.3 L431.5 230.3 L432 230.3 L432.5 230.4 L433 230.4 L433.5 230.4 L434 230.4 L434.5 230.4 L435 230.4 L435.5 230.4 L436 230.4 L436.5 230.5 L437 230.5 L437.5 230.5 L438 230.5 L438.5 230.5 L439 230.5 L439.5 230.5 L440 230.5 L440.5 230.5 L441 230.6 L441.5 230.6 L442 230.6 L442.5 230.6 L443 230.6 L443.5 230.6 L444 230.6 L444.5 230.6 L445 230.6" fill="none" stroke="#10d4f4" stroke-width="1.3"/>
<path d="M328.2 228.6 L328.7 228.6 L329.2 228.6 L329.7 228.6 L330.2 228.6 L330.7 228.6 L331.2 228.6 L331.7 228.5 L332.2 228.5 L332.7 228.5 L333.2 228.5 L333.7 228.5 L334.2 228.5 L334.7 228.5 L335.2 228.5 L335.7 228.4 L336.2 228.4 L336.7 228.4 L337.2 228.4 L337.7 228.4 L338.2 228.4 L338.7 228.3 L339.2 228.3 L339.7 228.3 L340.2 228.3 L340.7 228.3 L341.2 228.2 L341.7 228.2 L342.2 228.2 L342.7 228.2 L343.2 228.1 L343.7 228.1 L344.2 228.1 L344.7 228 L345.2 228 L345.7 228 L346.2 227.9 L346.7 227.9 L347.2 227.9 L347.7 227.8 L348.2 227.8 L348.7 227.8 L349.2 227.7 L349.7 227.7 L350.2 227.6 L350.7 227.6 L351.2 227.5 L351.7 227.5 L352.2 227.4 L352.7 227.4 L353.2 227.3 L353.7 227.2 L354.2 227.2 L354.7 227.1 L355.2 227 L355.7 227 L356.2 226.9 L356.7 226.8 L357.2 226.7 L357.7 226.6 L358.2 226.5 L358.7 226.4 L359.2 226.3 L359.7 226.1 L360.2 226 L360.7 225.8 L361.2 225.7 L361.7 225.5 L362.2 225.3 L362.7 225.1 L363.2 224.9 L363.7 224.7 L364.2 224.4 L364.7 224.1 L365.2 223.8 L365.7 223.5 L366.2 223.1 L366.7 222.7 L367.2 222.3 L367.7 221.8 L368.2 221.3 L368.7 220.7 L369.2 220.1 L369.7 219.4 L370.2 218.7 L370.7 217.9 L371.2 217 L371.7 216.1 L372.2 215.1 L372.7 214 L373.2 212.8 L373.7 211.6 L374.2 210.3 L374.7 208.9 L375.2 207.4 L375.7 205.9 L376.2 204.2 L376.7 202.5 L377.2 200.7 L377.7 198.8 L378.2 196.9 L378.7 194.9 L379.2 192.8 L379.7 190.7 L380.2 188.5 L380.7 186.4 L381.2 184.2 L381.7 182 L382.2 179.8 L382.7 177.7 L383.2 175.6 L383.7 173.6 L384.2 171.8 L384.7 170 L385.2 168.5 L385.7 167.1 L386.2 165.9 L386.7 165 L387.2 164.3 L387.7 163.9 L388.2 163.7 L388.7 163.9 L389.2 164.3 L389.7 165 L390.2 166 L390.7 167.1 L391.2 168.5 L391.7 170.1 L392.2 171.9 L392.7 173.8 L393.2 175.7 L393.7 177.8 L394.2 180 L394.7 182.1 L395.2 184.3 L395.7 186.5 L396.2 188.7 L396.7 190.9 L397.2 193 L397.7 195.1 L398.2 197.1 L398.7 199.1 L399.2 201 L399.7 202.8 L400.2 204.5 L400.7 206.2 L401.2 207.7 L401.7 209.2 L402.2 210.6 L402.7 212 L403.2 213.2 L403.7 214.4 L404.2 215.5 L404.7 216.5 L405.2 217.4 L405.7 218.3 L406.2 219.1 L406.7 219.9 L407.2 220.5 L407.7 221.2 L408.2 221.8 L408.7 222.3 L409.2 222.8 L409.7 223.2 L410.2 223.7 L410.7 224 L411.2 224.4 L411.7 224.7 L412.2 225 L412.7 225.3 L413.2 225.5 L413.7 225.8 L414.2 226 L414.7 226.2 L415.2 226.4 L415.7 226.5 L416.2 226.7 L416.7 226.8 L417.2 227 L417.7 227.1 L418.2 227.2 L418.7 227.3 L419.2 227.4 L419.7 227.6 L420.2 227.7 L420.7 227.7 L421.2 227.8 L421.7 227.9 L422.2 228 L422.7 228.1 L423.2 228.2 L423.7 228.2 L424.2 228.3 L424.7 228.4 L425.2 228.4 L425.7 228.5 L426.2 228.6 L426.7 228.6 L427.2 228.7 L427.7 228.7 L428.2 228.8 L428.7 228.8 L429.2 228.9 L429.7 228.9 L430.2 229 L430.7 229 L431.2 229.1 L431.7 229.1 L432.2 229.1 L432.7 229.2 L433.2 229.2 L433.7 229.3 L434.2 229.3 L434.7 229.3 L435.2 229.4 L435.7 229.4 L436.2 229.4 L436.7 229.5 L437.2 229.5 L437.7 229.5 L438.2 229.6 L438.7 229.6 L439.2 229.6 L439.7 229.7 L440.2 229.7 L440.7 229.7 L441.2 229.7 L441.7 229.8 L442.2 229.8 L442.7 229.8 L443.2 229.9 L443.7 229.9 L444.2 229.9 L444.7 229.9 L445.2 229.9 L445.7 230 L446.2 230 L446.7 230 L447.2 230 L447.7 230.1 L448.2 230.1 L448.2 231 L328.2 229.5 Z" fill="url(#g11)" stroke="none"/>
<path d="M328.2 228.6 L328.7 228.6 L329.2 228.6 L329.7 228.6 L330.2 228.6 L330.7 228.6 L331.2 228.6 L331.7 228.5 L332.2 228.5 L332.7 228.5 L333.2 228.5 L333.7 228.5 L334.2 228.5 L334.7 228.5 L335.2 228.5 L335.7 228.4 L336.2 228.4 L336.7 228.4 L337.2 228.4 L337.7 228.4 L338.2 228.4 L338.7 228.3 L339.2 228.3 L339.7 228.3 L340.2 228.3 L340.7 228.3 L341.2 228.2 L341.7 228.2 L342.2 228.2 L342.7 228.2 L343.2 228.1 L343.7 228.1 L344.2 228.1 L344.7 228 L345.2 228 L345.7 228 L346.2 227.9 L346.7 227.9 L347.2 227.9 L347.7 227.8 L348.2 227.8 L348.7 227.8 L349.2 227.7 L349.7 227.7 L350.2 227.6 L350.7 227.6 L351.2 227.5 L351.7 227.5 L352.2 227.4 L352.7 227.4 L353.2 227.3 L353.7 227.2 L354.2 227.2 L354.7 227.1 L355.2 227 L355.7 227 L356.2 226.9 L356.7 226.8 L357.2 226.7 L357.7 226.6 L358.2 226.5 L358.7 226.4 L359.2 226.3 L359.7 226.1 L360.2 226 L360.7 225.8 L361.2 225.7 L361.7 225.5 L362.2 225.3 L362.7 225.1 L363.2 224.9 L363.7 224.7 L364.2 224.4 L364.7 224.1 L365.2 223.8 L365.7 223.5 L366.2 223.1 L366.7 222.7 L367.2 222.3 L367.7 221.8 L368.2 221.3 L368.7 220.7 L369.2 220.1 L369.7 219.4 L370.2 218.7 L370.7 217.9 L371.2 217 L371.7 216.1 L372.2 215.1 L372.7 214 L373.2 212.8 L373.7 211.6 L374.2 210.3 L374.7 208.9 L375.2 207.4 L375.7 205.9 L376.2 204.2 L376.7 202.5 L377.2 200.7 L377.7 198.8 L378.2 196.9 L378.7 194.9 L379.2 192.8 L379.7 190.7 L380.2 188.5 L380.7 186.4 L381.2 184.2 L381.7 182 L382.2 179.8 L382.7 177.7 L383.2 175.6 L383.7 173.6 L384.2 171.8 L384.7 170 L385.2 168.5 L385.7 167.1 L386.2 165.9 L386.7 165 L387.2 164.3 L387.7 163.9 L388.2 163.7 L388.7 163.9 L389.2 164.3 L389.7 165 L390.2 166 L390.7 167.1 L391.2 168.5 L391.7 170.1 L392.2 171.9 L392.7 173.8 L393.2 175.7 L393.7 177.8 L394.2 180 L394.7 182.1 L395.2 184.3 L395.7 186.5 L396.2 188.7 L396.7 190.9 L397.2 193 L397.7 195.1 L398.2 197.1 L398.7 199.1 L399.2 201 L399.7 202.8 L400.2 204.5 L400.7 206.2 L401.2 207.7 L401.7 209.2 L402.2 210.6 L402.7 212 L403.2 213.2 L403.7 214.4 L404.2 215.5 L404.7 216.5 L405.2 217.4 L405.7 218.3 L406.2 219.1 L406.7 219.9 L407.2 220.5 L407.7 221.2 L408.2 221.8 L408.7 222.3 L409.2 222.8 L409.7 223.2 L410.2 223.7 L410.7 224 L411.2 224.4 L411.7 224.7 L412.2 225 L412.7 225.3 L413.2 225.5 L413.7 225.8 L414.2 226 L414.7 226.2 L415.2 226.4 L415.7 226.5 L416.2 226.7 L416.7 226.8 L417.2 227 L417.7 227.1 L418.2 227.2 L418.7 227.3 L419.2 227.4 L419.7 227.6 L420.2 227.7 L420.7 227.7 L421.2 227.8 L421.7 227.9 L422.2 228 L422.7 228.1 L423.2 228.2 L423.7 228.2 L424.2 228.3 L424.7 228.4 L425.2 228.4 L425.7 228.5 L426.2 228.6 L426.7 228.6 L427.2 228.7 L427.7 228.7 L428.2 228.8 L428.7 228.8 L429.2 228.9 L429.7 228.9 L430.2 229 L430.7 229 L431.2 229.1 L431.7 229.1 L432.2 229.1 L432.7 229.2 L433.2 229.2 L433.7 229.3 L434.2 229.3 L434.7 229.3 L435.2 229.4 L435.7 229.4 L436.2 229.4 L436.7 229.5 L437.2 229.5 L437.7 229.5 L438.2 229.6 L438.7 229.6 L439.2 229.6 L439.7 229.7 L440.2 229.7 L440.7 229.7 L441.2 229.7 L441.7 229.8 L442.2 229.8 L442.7 229.8 L443.2 229.9 L443.7 229.9 L444.2 229.9 L444.7 229.9 L445.2 229.9 L445.7 230 L446.2 230 L446.7 230 L447.2 230 L447.7 230.1 L448.2 230.1" fill="none" stroke="#10e060" stroke-width="1.3"/>
<path d="M371.5 229.8 L372 229.8 L372.5 229.8 L373 229.8 L373.5 229.8 L374 229.8 L374.5 229.8 L375 229.8 L375.5 229.8 L376 229.8 L376.5 229.8 L377 229.8 L377.5 229.8 L378 229.8 L378.5 229.8 L379 229.8 L379.5 229.8 L380 229.8 L380.5 229.8 L381 229.8 L381.5 229.7 L382 229.7 L382.5 229.7 L383 229.7 L383.5 229.7 L384 229.7 L384.5 229.7 L385 229.7 L385.5 229.7 L386 229.6 L386.5 229.6 L387 229.6 L387.5 229.6 L388 229.5 L388.5 229.5 L389 229.5 L389.5 229.4 L390 229.4 L390.5 229.3 L391 229.3 L391.5 229.2 L392 229.1 L392.5 229 L393 229 L393.5 228.8 L394 228.7 L394.5 228.6 L395 228.5 L395.5 228.3 L396 228.1 L396.5 227.9 L397 227.7 L397.5 227.5 L398 227.3 L398.5 227 L399 226.7 L399.5 226.4 L400 226 L400.5 225.7 L401 225.3 L401.5 224.9 L402 224.5 L402.5 224 L403 223.5 L403.5 223 L404 222.5 L404.5 221.9 L405 221.4 L405.5 220.8 L406 220.2 L406.5 219.6 L407 219 L407.5 218.4 L408 217.8 L408.5 217.1 L409 216.5 L409.5 215.9 L410 215.3 L410.5 214.8 L411 214.2 L411.5 213.7 L412 213.2 L412.5 212.8 L413 212.4 L413.5 212.1 L414 211.8 L414.5 211.6 L415 211.4 L415.5 211.3 L416 211.3 L416.5 211.3 L417 211.4 L417.5 211.6 L418 211.8 L418.5 212.1 L419 212.5 L419.5 212.9 L420 213.3 L420.5 213.8 L421 214.3 L421.5 214.9 L422 215.5 L422.5 216.1 L423 216.7 L423.5 217.3 L424 217.9 L424.5 218.6 L425 219.2 L425.5 219.8 L426 220.5 L426.5 221.1 L427 221.7 L427.5 222.2 L428 222.8 L428.5 223.3 L429 223.8 L429.5 224.3 L430 224.8 L430.5 225.2 L431 225.7 L431.5 226.1 L432 226.4 L432.5 226.8 L433 227.1 L433.5 227.4 L434 227.7 L434.5 228 L435 228.2 L435.5 228.4 L436 228.6 L436.5 228.8 L437 229 L437.5 229.1 L438 229.3 L438.5 229.4 L439 229.5 L439.5 229.6 L440 229.7 L440.5 229.8 L441 229.9 L441.5 230 L442 230 L442.5 230.1 L443 230.1 L443.5 230.2 L444 230.2 L444.5 230.3 L445 230.3 L445.5 230.3 L446 230.4 L446.5 230.4 L447 230.4 L447.5 230.5 L448 230.5 L448.5 230.5 L449 230.5 L449.5 230.6 L450 230.6 L450.5 230.6 L451 230.6 L451.5 230.6 L452 230.6 L452.5 230.7 L453 230.7 L453.5 230.7 L454 230.7 L454.5 230.7 L455 230.7 L455.5 230.7 L456 230.8 L456.5 230.8 L457 230.8 L457.5 230.8 L458 230.8 L458.5 230.8 L459 230.8 L459.5 230.9 L460 230.9 L460.5 230.9 L460.5 231.1 L371.5 230 Z" fill="url(#g12)" stroke="none"/>
<path d="M371.5 229.8 L372 229.8 L372.5 229.8 L373 229.8 L373.5 229.8 L374 229.8 L374.5 229.8 L375 229.8 L375.5 229.8 L376 229.8 L376.5 229.8 L377 229.8 L377.5 229.8 L378 229.8 L378.5 229.8 L379 229.8 L379.5 229.8 L380 229.8 L380.5 229.8 L381 229.8 L381.5 229.7 L382 229.7 L382.5 229.7 L383 229.7 L383.5 229.7 L384 229.7 L384.5 229.7 L385 229.7 L385.5 229.7 L386 229.6 L386.5 229.6 L387 229.6 L387.5 229.6 L388 229.5 L388.5 229.5 L389 229.5 L389.5 229.4 L390 229.4 L390.5 229.3 L391 229.3 L391.5 229.2 L392 229.1 L392.5 229 L393 229 L393.5 228.8 L394 228.7 L394.5 228.6 L395 228.5 L395.5 228.3 L396 228.1 L396.5 227.9 L397 227.7 L397.5 227.5 L398 227.3 L398.5 227 L399 226.7 L399.5 226.4 L400 226 L400.5 225.7 L401 225.3 L401.5 224.9 L402 224.5 L402.5 224 L403 223.5 L403.5 223 L404 222.5 L404.5 221.9 L405 221.4 L405.5 220.8 L406 220.2 L406.5 219.6 L407 219 L407.5 218.4 L408 217.8 L408.5 217.1 L409 216.5 L409.5 215.9 L410 215.3 L410.5 214.8 L411 214.2 L411.5 213.7 L412 213.2 L412.5 212.8 L413 212.4 L413.5 212.1 L414 211.8 L414.5 211.6 L415 211.4 L415.5 211.3 L416 211.3 L416.5 211.3 L417 211.4 L417.5 211.6 L418 211.8 L418.5 212.1 L419 212.5 L419.5 212.9 L420 213.3 L420.5 213.8 L421 214.3 L421.5 214.9 L422 215.5 L422.5 216.1 L423 216.7 L423.5 217.3 L424 217.9 L424.5 218.6 L425 219.2 L425.5 219.8 L426 220.5 L426.5 221.1 L427 221.7 L427.5 222.2 L428 222.8 L428.5 223.3 L429 223.8 L429.5 224.3 L430 224.8 L430.5 225.2 L431 225.7 L431.5 226.1 L432 226.4 L432.5 226.8 L433 227.1 L433.5 227.4 L434 227.7 L434.5 228 L435 228.2 L435.5 228.4 L436 228.6 L436.5 228.8 L437 229 L437.5 229.1 L438 229.3 L438.5 229.4 L439 229.5 L439.5 229.6 L440 229.7 L440.5 229.8 L441 229.9 L441.5 230 L442 230 L442.5 230.1 L443 230.1 L443.5 230.2 L444 230.2 L444.5 230.3 L445 230.3 L445.5 230.3 L446 230.4 L446.5 230.4 L447 230.4 L447.5 230.5 L448 230.5 L448.5 230.5 L449 230.5 L449.5 230.6 L450 230.6 L450.5 230.6 L451 230.6 L451.5 230.6 L452 230.6 L452.5 230.7 L453 230.7 L453.5 230.7 L454 230.7 L454.5 230.7 L455 230.7 L455.5 230.7 L456 230.8 L456.5 230.8 L457 230.8 L457.5 230.8 L458 230.8 L458.5 230.8 L459 230.8 L459.5 230.9 L460 230.9 L460.5 230.9" fill="none" stroke="#2a98ec" stroke-width="1.2"/>
<line x1="270" y1="228.8" x2="474.5" y2="231.3" stroke="#1aa0e0" stroke-width="2.0"/>
<path d="M270 227.2 C272 227.1 278.2 226.8 282 226.6 C285.8 226.4 290 225.8 293 225.8 C296 225.8 296.8 226.6 300 226.6 C303.2 226.6 308.7 226.1 312 225.7 C315.3 225.3 317.1 225 320 224.3 C322.9 223.7 326.1 223.1 329.1 221.8 C332.1 220.5 335.5 218.9 338.2 216.5 C340.9 214.1 343.1 211.2 345.5 207.5 C347.9 203.8 350.3 199 352.7 194.5 C355.1 190 357.6 184.8 360 180.5 C362.4 176.2 365.2 171.8 367.3 168.5 C369.4 165.2 370.9 163.8 372.7 161 C374.5 158.2 376.5 154 378.2 151.5 C379.9 149 381.3 147 382.7 146 C384.1 145 385.2 145.1 386.4 145.6 C387.6 146.1 388.6 146.9 390 149 C391.4 151.1 393.1 154.8 394.5 158 C395.9 161.2 397.1 165.1 398.2 168.5 C399.3 171.9 399.7 174.8 401 178.5 C402.3 182.2 404.2 187.9 405.9 190.8 C407.6 193.7 409.6 194.6 411.4 196 C413.2 197.4 415 197.8 416.8 199.5 C418.6 201.2 420.5 203.5 422.3 206 C424.1 208.5 425.9 211.8 427.7 214.5 C429.5 217.2 431.1 220.2 433.2 222.5 C435.3 224.8 437.8 226.8 440.5 228 C443.2 229.2 443.9 229.3 449.5 229.6 C455.1 229.9 469.9 229.9 474 230" fill="none" stroke="#000" stroke-width="1.1" stroke-linejoin="round" />
<path d="M270 227.2 C272.5 227.1 280 227 285 226.8 C290 226.6 295.5 226.4 300 226.2 C304.5 226 308.7 225.7 312 225.4 C315.3 225.1 317.1 225.1 320 224.6 C322.9 224.1 326.1 223.5 329.1 222.3 C332.1 221.2 335.5 219.8 338.2 217.7 C340.9 215.6 343.1 213 345.5 209.5 C347.9 206 350.3 201.3 352.7 196.8 C355.1 192.3 357.6 186.9 360 182.3 C362.4 177.8 365.2 172.8 367.3 169.5 C369.4 166.2 370.9 165 372.7 162.3 C374.5 159.6 376.5 155.8 378.2 153.2 C379.9 150.6 381.3 148.2 382.7 146.8 C384.1 145.4 385.2 144.8 386.4 145 C387.6 145.2 388.6 145.8 390 147.7 C391.4 149.6 393.1 153.3 394.5 156.5 C395.9 159.7 397.1 163.6 398.2 167 C399.3 170.4 399.7 173.2 401 177 C402.3 180.8 404.2 186.7 405.9 190 C407.6 193.3 409.6 195.1 411.4 196.8 C413.2 198.6 415 198.8 416.8 200.5 C418.6 202.2 420.5 204.4 422.3 206.8 C424.1 209.2 425.9 212.4 427.7 215 C429.5 217.6 431.1 220.2 433.2 222.3 C435.3 224.4 437.8 226.2 440.5 227.4 C443.2 228.6 443.9 228.8 449.5 229.2 C455.1 229.6 469.9 229.8 474 229.9" fill="none" stroke="#f00" stroke-width="1.5" stroke-linejoin="round" />
<line x1="331.2" y1="243" x2="331.2" y2="240.5" stroke="#111" stroke-width="1.1"/>
<line x1="372" y1="243" x2="372" y2="240.5" stroke="#111" stroke-width="1.1"/>
<line x1="412.8" y1="243" x2="412.8" y2="240.5" stroke="#111" stroke-width="1.1"/>
<line x1="453.5" y1="243" x2="453.5" y2="240.5" stroke="#111" stroke-width="1.1"/>
<line x1="310.9" y1="243" x2="310.9" y2="241.2" stroke="#111" stroke-width="1.0"/>
<line x1="290.5" y1="243" x2="290.5" y2="241.2" stroke="#111" stroke-width="1.0"/>
<line x1="310.9" y1="243" x2="310.9" y2="241.2" stroke="#111" stroke-width="1.0"/>
<line x1="351.6" y1="243" x2="351.6" y2="241.2" stroke="#111" stroke-width="1.0"/>
<line x1="392.4" y1="243" x2="392.4" y2="241.2" stroke="#111" stroke-width="1.0"/>
<line x1="433.1" y1="243" x2="433.1" y2="241.2" stroke="#111" stroke-width="1.0"/>
<rect x="32.8" y="279" width="204.2" height="236" fill="none" stroke="#111" stroke-width="1.5"/>
<line x1="32.8" y1="397" x2="237" y2="397" stroke="#111" stroke-width="1.5"/>
<path d="M33 347.3 L33 347.3 L34 347.3 L35 347.3 L36 347.4 L37 347.4 L38 347.5 L39 347.6 L40 347.6 L41 347.7 L42 347.8 L43 347.9 L44 348 L45 348.1 L46 348.2 L47 348.3 L48 348.4 L49 348.5 L50 348.6 L51 348.7 L52 348.8 L53 348.9 L54 349 L55 349.1 L56 349.3 L57 349.4 L58 349.5 L59 349.6 L60 349.7 L61 349.9 L62 350 L63 350.1 L64 350.2 L65 350.3 L66 350.5 L67 350.6 L68 350.7 L69 350.9 L70 351 L71 351.1 L72 351.3 L73 351.4 L74 351.5 L75 351.7 L76 351.8 L77 352 L78 352.1 L79 352.2 L80 352.4 L81 352.5 L82 352.7 L83 352.8 L84 353 L85 353.1 L86 353.3 L87 353.4 L88 353.6 L89 353.7 L90 353.9 L91 354.1 L92 354.2 L93 354.4 L94 354.5 L95 354.7 L96 354.9 L97 355 L98 355.2 L99 355.4 L100 355.5 L101 355.7 L102 355.9 L103 356 L104 356.2 L105 356.4 L106 356.6 L107 356.7 L108 356.9 L109 357.1 L110 357.3 L111 357.5 L112 357.6 L113 357.8 L114 358 L115 358.2 L116 358.4 L117 358.6 L118 358.8 L119 359 L120 359.2 L121 359.4 L122 359.6 L123 359.8 L124 360 L125 360.2 L126 360.4 L127 360.6 L128 360.8 L129 361 L130 361.2 L131 361.4 L132 361.6 L133 361.8 L134 362 L135 362.2 L136 362.5 L137 362.7 L138 362.9 L139 363.1 L140 363.3 L141 363.6 L142 363.8 L143 364 L144 364.2 L145 364.5 L146 364.7 L147 364.9 L148 365.2 L149 365.4 L150 365.6 L151 365.9 L152 366.1 L153 366.3 L154 366.6 L155 366.8 L156 367.1 L157 367.3 L158 367.5 L159 367.8 L160 368 L161 368.3 L162 368.5 L163 368.8 L164 369 L165 369.3 L166 369.5 L167 369.8 L168 370.1 L169 370.3 L170 370.6 L171 370.8 L172 371.1 L173 371.4 L174 371.6 L175 371.9 L176 372.2 L177 372.4 L178 372.7 L179 373 L180 373.2 L181 373.5 L182 373.8 L183 374.1 L184 374.3 L185 374.6 L186 374.9 L187 375.2 L188 375.5 L189 375.8 L190 376 L191 376.3 L192 376.6 L193 376.9 L194 377.2 L195 377.5 L196 377.8 L197 378.1 L198 378.4 L199 378.7 L200 378.9 L201 379.2 L202 379.5 L203 379.8 L204 380.1 L205 380.4 L206 380.8 L207 381.1 L208 381.4 L209 381.7 L210 382 L211 382.3 L212 382.6 L213 382.9 L214 383.2 L215 383.5 L216 383.9 L217 384.2 L218 384.5 L219 384.8 L220 385.1 L221 385.5 L222 385.8 L223 386.1 L224 386.5 L225 386.8 L226 387.1 L227 387.5 L228 387.8 L229 388.1 L230 388.5 L231 388.8 L232 389.2 L233 389.6 L234 389.9 L235 390.3 L236 390.7 L237 391.2 L237 391.2 Z" fill="#7fc8c8" fill-opacity="0.35"/>
<path d="M32.8 344.5 L33.2 344.5 L33.8 344.5 L34.2 344.5 L34.8 344.5 L35.2 344.5 L35.8 344.5 L36.2 344.5 L36.8 344.5 L37.2 344.5 L37.8 344.4 L38.2 344.4 L38.8 344.4 L39.2 344.4 L39.8 344.4 L40.2 344.3 L40.8 344.3 L41.2 344.3 L41.8 344.2 L42.2 344.2 L42.8 344.1 L43.2 344.1 L43.8 344.1 L44.2 344 L44.8 344 L45.2 343.9 L45.8 343.9 L46.2 343.8 L46.8 343.7 L47.2 343.7 L47.8 343.6 L48.2 343.6 L48.8 343.5 L49.2 343.4 L49.8 343.4 L50.2 343.3 L50.8 343.2 L51.2 343.1 L51.8 343.1 L52.2 343 L52.8 342.9 L53.2 342.9 L53.8 342.8 L54.2 342.7 L54.8 342.6 L55.2 342.5 L55.8 342.5 L56.2 342.4 L56.8 342.3 L57.2 342.2 L57.8 342.2 L58.2 342.1 L58.8 342 L59.2 341.9 L59.8 341.9 L60.2 341.8 L60.8 341.7 L61.2 341.7 L61.8 341.6 L62.2 341.5 L62.8 341.5 L63.2 341.4 L63.8 341.3 L64.2 341.3 L64.8 341.2 L65.2 341.2 L65.8 341.1 L66.2 341.1 L66.8 341 L67.2 341 L67.8 341 L68.2 340.9 L68.8 340.9 L69.2 340.9 L69.8 340.9 L70.2 340.8 L70.8 340.8 L71.2 340.8 L71.8 340.8 L72.2 340.8 L72.8 340.8 L73.2 340.8 L73.8 340.8 L74.2 340.9 L74.8 340.9 L75.2 340.9 L75.8 341 L76.2 341 L76.8 341 L77.2 341.1 L77.8 341.1 L78.2 341.2 L78.8 341.3 L79.2 341.3 L79.8 341.4 L80.2 341.5 L80.8 341.6 L81.2 341.7 L81.8 341.8 L82.2 341.9 L82.8 342 L83.2 342.2 L83.8 342.3 L84.2 342.5 L84.8 342.6 L85.2 342.8 L85.8 343 L86.2 343.3 L86.8 343.5 L87.2 343.7 L87.8 344 L88.2 344.2 L88.8 344.5 L89.2 344.8 L89.8 345.1 L90.2 345.4 L90.8 345.7 L91.2 346 L91.8 346.4 L92.2 346.7 L92.8 347.1 L93.2 347.4 L93.8 347.8 L94.2 348.1 L94.8 348.5 L95.2 348.9 L95.8 349.3 L96.2 349.7 L96.8 350 L97.2 350.4 L97.8 350.8 L98.2 351.2 L98.8 351.6 L99.2 352 L99.8 352.4 L100.2 352.8 L100.8 353.2 L101.2 353.6 L101.8 354 L102.2 354.3 L102.8 354.7 L103.2 355.1 L103.8 355.5 L104.2 355.8 L104.8 356.2 L105.2 356.6 L105.8 356.9 L106.2 357.3 L106.8 357.6 L107.2 358 L107.8 358.3 L108.2 358.6 L108.8 359 L109.2 359.3 L109.8 359.6 L110.2 359.9 L110.8 360.2 L111.2 360.5 L111.8 360.8 L112.2 361.1 L112.8 361.4 L113.2 361.6 L113.8 361.9 L114.2 362.1 L114.8 362.4 L115.2 362.6 L115.8 362.9 L116.2 363.1 L116.8 363.3 L117.2 363.6 L117.8 363.8 L118.2 364 L118.8 364.2 L119.2 364.4 L119.8 364.6 L120.2 364.8 L120.8 365 L121.2 365.2 L121.8 365.4 L122 366.5 L32.8 347.3 Z" fill="url(#g13)" stroke="none"/>
<path d="M32.8 344.5 L33.2 344.5 L33.8 344.5 L34.2 344.5 L34.8 344.5 L35.2 344.5 L35.8 344.5 L36.2 344.5 L36.8 344.5 L37.2 344.5 L37.8 344.4 L38.2 344.4 L38.8 344.4 L39.2 344.4 L39.8 344.4 L40.2 344.3 L40.8 344.3 L41.2 344.3 L41.8 344.2 L42.2 344.2 L42.8 344.1 L43.2 344.1 L43.8 344.1 L44.2 344 L44.8 344 L45.2 343.9 L45.8 343.9 L46.2 343.8 L46.8 343.7 L47.2 343.7 L47.8 343.6 L48.2 343.6 L48.8 343.5 L49.2 343.4 L49.8 343.4 L50.2 343.3 L50.8 343.2 L51.2 343.1 L51.8 343.1 L52.2 343 L52.8 342.9 L53.2 342.9 L53.8 342.8 L54.2 342.7 L54.8 342.6 L55.2 342.5 L55.8 342.5 L56.2 342.4 L56.8 342.3 L57.2 342.2 L57.8 342.2 L58.2 342.1 L58.8 342 L59.2 341.9 L59.8 341.9 L60.2 341.8 L60.8 341.7 L61.2 341.7 L61.8 341.6 L62.2 341.5 L62.8 341.5 L63.2 341.4 L63.8 341.3 L64.2 341.3 L64.8 341.2 L65.2 341.2 L65.8 341.1 L66.2 341.1 L66.8 341 L67.2 341 L67.8 341 L68.2 340.9 L68.8 340.9 L69.2 340.9 L69.8 340.9 L70.2 340.8 L70.8 340.8 L71.2 340.8 L71.8 340.8 L72.2 340.8 L72.8 340.8 L73.2 340.8 L73.8 340.8 L74.2 340.9 L74.8 340.9 L75.2 340.9 L75.8 341 L76.2 341 L76.8 341 L77.2 341.1 L77.8 341.1 L78.2 341.2 L78.8 341.3 L79.2 341.3 L79.8 341.4 L80.2 341.5 L80.8 341.6 L81.2 341.7 L81.8 341.8 L82.2 341.9 L82.8 342 L83.2 342.2 L83.8 342.3 L84.2 342.5 L84.8 342.6 L85.2 342.8 L85.8 343 L86.2 343.3 L86.8 343.5 L87.2 343.7 L87.8 344 L88.2 344.2 L88.8 344.5 L89.2 344.8 L89.8 345.1 L90.2 345.4 L90.8 345.7 L91.2 346 L91.8 346.4 L92.2 346.7 L92.8 347.1 L93.2 347.4 L93.8 347.8 L94.2 348.1 L94.8 348.5 L95.2 348.9 L95.8 349.3 L96.2 349.7 L96.8 350 L97.2 350.4 L97.8 350.8 L98.2 351.2 L98.8 351.6 L99.2 352 L99.8 352.4 L100.2 352.8 L100.8 353.2 L101.2 353.6 L101.8 354 L102.2 354.3 L102.8 354.7 L103.2 355.1 L103.8 355.5 L104.2 355.8 L104.8 356.2 L105.2 356.6 L105.8 356.9 L106.2 357.3 L106.8 357.6 L107.2 358 L107.8 358.3 L108.2 358.6 L108.8 359 L109.2 359.3 L109.8 359.6 L110.2 359.9 L110.8 360.2 L111.2 360.5 L111.8 360.8 L112.2 361.1 L112.8 361.4 L113.2 361.6 L113.8 361.9 L114.2 362.1 L114.8 362.4 L115.2 362.6 L115.8 362.9 L116.2 363.1 L116.8 363.3 L117.2 363.6 L117.8 363.8 L118.2 364 L118.8 364.2 L119.2 364.4 L119.8 364.6 L120.2 364.8 L120.8 365 L121.2 365.2 L121.8 365.4" fill="none" stroke="#8a8a40" stroke-width="0.8"/>
<path d="M90 359.3 L90.5 359.3 L91 359.4 L91.5 359.4 L92 359.4 L92.5 359.4 L93 359.3 L93.5 359.2 L94 359.1 L94.5 359 L95 358.8 L95.5 358.6 L96 358.4 L96.5 358.1 L97 357.8 L97.5 357.4 L98 357 L98.5 356.5 L99 356 L99.5 355.5 L100 354.9 L100.5 354.3 L101 353.6 L101.5 353 L102 352.3 L102.5 351.6 L103 351 L103.5 350.3 L104 349.7 L104.5 349.1 L105 348.5 L105.5 348 L106 347.6 L106.5 347.2 L107 347 L107.5 346.8 L108 346.7 L108.5 346.7 L109 346.8 L109.5 347 L110 347.3 L110.5 347.6 L111 348.1 L111.5 348.7 L112 349.3 L112.5 350 L113 350.8 L113.5 351.6 L114 352.4 L114.5 353.3 L115 354.2 L115.5 355.1 L116 355.9 L116.5 356.8 L117 357.7 L117.5 358.5 L118 359.3 L118.5 360.1 L119 360.8 L119.5 361.5 L120 362.1 L120.5 362.7 L121 363.3 L121.5 363.8 L122 364.2 L122.5 364.7 L123 365.1 L123.5 365.4 L124 365.7 L124.5 366 L125 366.3 L125.5 366.6 L126 366.8 L126.5 367 L127 367.2 L127.5 367.3 L127.6 367.7 L90 359.6 Z" fill="url(#g14)" stroke="none"/>
<path d="M90 359.3 L90.5 359.3 L91 359.4 L91.5 359.4 L92 359.4 L92.5 359.4 L93 359.3 L93.5 359.2 L94 359.1 L94.5 359 L95 358.8 L95.5 358.6 L96 358.4 L96.5 358.1 L97 357.8 L97.5 357.4 L98 357 L98.5 356.5 L99 356 L99.5 355.5 L100 354.9 L100.5 354.3 L101 353.6 L101.5 353 L102 352.3 L102.5 351.6 L103 351 L103.5 350.3 L104 349.7 L104.5 349.1 L105 348.5 L105.5 348 L106 347.6 L106.5 347.2 L107 347 L107.5 346.8 L108 346.7 L108.5 346.7 L109 346.8 L109.5 347 L110 347.3 L110.5 347.6 L111 348.1 L111.5 348.7 L112 349.3 L112.5 350 L113 350.8 L113.5 351.6 L114 352.4 L114.5 353.3 L115 354.2 L115.5 355.1 L116 355.9 L116.5 356.8 L117 357.7 L117.5 358.5 L118 359.3 L118.5 360.1 L119 360.8 L119.5 361.5 L120 362.1 L120.5 362.7 L121 363.3 L121.5 363.8 L122 364.2 L122.5 364.7 L123 365.1 L123.5 365.4 L124 365.7 L124.5 366 L125 366.3 L125.5 366.6 L126 366.8 L126.5 367 L127 367.2 L127.5 367.3" fill="none" stroke="#1a98e8" stroke-width="1.1"/>
<path d="M108.6 363.2 L109.1 363.2 L109.6 363.2 L110.1 363.2 L110.6 363 L111.1 362.9 L111.6 362.7 L112.1 362.4 L112.6 362 L113.1 361.6 L113.6 361 L114.1 360.4 L114.6 359.7 L115.1 358.8 L115.6 357.9 L116.1 356.9 L116.6 355.8 L117.1 354.6 L117.6 353.4 L118.1 352.1 L118.6 350.9 L119.1 349.7 L119.6 348.5 L120.1 347.4 L120.6 346.4 L121.1 345.6 L121.6 344.9 L122.1 344.4 L122.6 344.1 L123.1 344.1 L123.6 344.3 L124.1 344.7 L124.6 345.3 L125.1 346.1 L125.6 347.1 L126.1 348.2 L126.6 349.5 L127.1 350.9 L127.6 352.3 L128.1 353.8 L128.6 355.2 L129.1 356.7 L129.6 358.1 L130.1 359.4 L130.6 360.7 L131.1 361.9 L131.6 363 L132.1 364 L132.6 364.8 L133.1 365.6 L133.6 366.3 L134.1 366.9 L134.6 367.5 L135.1 367.9 L135.6 368.3 L136.1 368.7 L136.6 369 L137.1 369.2 L137.6 369.4 L137.8 369.8 L108.6 363.6 Z" fill="url(#g15)" stroke="none"/>
<path d="M108.6 363.2 L109.1 363.2 L109.6 363.2 L110.1 363.2 L110.6 363 L111.1 362.9 L111.6 362.7 L112.1 362.4 L112.6 362 L113.1 361.6 L113.6 361 L114.1 360.4 L114.6 359.7 L115.1 358.8 L115.6 357.9 L116.1 356.9 L116.6 355.8 L117.1 354.6 L117.6 353.4 L118.1 352.1 L118.6 350.9 L119.1 349.7 L119.6 348.5 L120.1 347.4 L120.6 346.4 L121.1 345.6 L121.6 344.9 L122.1 344.4 L122.6 344.1 L123.1 344.1 L123.6 344.3 L124.1 344.7 L124.6 345.3 L125.1 346.1 L125.6 347.1 L126.1 348.2 L126.6 349.5 L127.1 350.9 L127.6 352.3 L128.1 353.8 L128.6 355.2 L129.1 356.7 L129.6 358.1 L130.1 359.4 L130.6 360.7 L131.1 361.9 L131.6 363 L132.1 364 L132.6 364.8 L133.1 365.6 L133.6 366.3 L134.1 366.9 L134.6 367.5 L135.1 367.9 L135.6 368.3 L136.1 368.7 L136.6 369 L137.1 369.2 L137.6 369.4" fill="none" stroke="#f06868" stroke-width="1.1"/>
<path d="M117.6 361.3 L118.1 361.3 L118.6 361.2 L119.1 361.2 L119.6 361.1 L120.1 361 L120.6 360.9 L121.1 360.9 L121.6 360.8 L122.1 360.7 L122.6 360.6 L123.1 360.5 L123.6 360.3 L124.1 360.2 L124.6 360.1 L125.1 360 L125.6 359.8 L126.1 359.7 L126.6 359.6 L127.1 359.4 L127.6 359.3 L128.1 359.1 L128.6 359 L129.1 358.8 L129.6 358.6 L130.1 358.4 L130.6 358.3 L131.1 358.1 L131.6 357.9 L132.1 357.7 L132.6 357.5 L133.1 357.3 L133.6 357.1 L134.1 356.9 L134.6 356.7 L135.1 356.5 L135.6 356.3 L136.1 356.1 L136.6 355.9 L137.1 355.7 L137.6 355.5 L138.1 355.3 L138.6 355.1 L139.1 354.9 L139.6 354.7 L140.1 354.5 L140.6 354.3 L141.1 354.1 L141.6 353.9 L142.1 353.8 L142.6 353.6 L143.1 353.4 L143.6 353.2 L144.1 353.1 L144.6 352.9 L145.1 352.8 L145.6 352.6 L146.1 352.5 L146.6 352.4 L147.1 352.2 L147.6 352.1 L148.1 352 L148.6 352 L149.1 351.9 L149.6 351.8 L150.1 351.8 L150.6 351.7 L151.1 351.7 L151.6 351.7 L152.1 351.6 L152.6 351.7 L153.1 351.7 L153.6 351.7 L154.1 351.8 L154.6 351.8 L155.1 351.9 L155.6 352 L156.1 352.1 L156.6 352.2 L157.1 352.3 L157.6 352.5 L158.1 352.6 L158.6 352.8 L159.1 353 L159.6 353.2 L160.1 353.4 L160.6 353.6 L161.1 353.9 L161.6 354.1 L162.1 354.4 L162.6 354.7 L163.1 355 L163.6 355.3 L164.1 355.6 L164.6 355.9 L165.1 356.2 L165.6 356.5 L166.1 356.9 L166.6 357.2 L167.1 357.6 L167.6 358 L168.1 358.3 L168.6 358.7 L169.1 359.1 L169.6 359.5 L170.1 359.9 L170.6 360.3 L171.1 360.7 L171.6 361.1 L172.1 361.5 L172.6 361.9 L173.1 362.3 L173.6 362.8 L174.1 363.2 L174.6 363.6 L175.1 364 L175.6 364.4 L176.1 364.9 L176.6 365.3 L177.1 365.7 L177.6 366.1 L178.1 366.5 L178.6 366.9 L179.1 367.3 L179.6 367.7 L180.1 368.2 L180.6 368.6 L181.1 368.9 L181.6 369.3 L182.1 369.7 L182.6 370.1 L183.1 370.5 L183.6 370.9 L184.1 371.3 L184.6 371.6 L185.1 372 L185.6 372.4 L186.1 372.7 L186.6 373.1 L187.1 373.4 L187.6 373.7 L188.1 374.1 L188.6 374.4 L189.1 374.7 L189.6 375.1 L190.1 375.4 L190.6 375.7 L191.1 376 L191.6 376.3 L192.1 376.6 L192.6 376.9 L193.1 377.1 L193.6 377.4 L194.1 377.7 L194.4 382 L117.6 365.5 Z" fill="url(#g16)" stroke="none"/>
<path d="M117.6 361.3 L118.1 361.3 L118.6 361.2 L119.1 361.2 L119.6 361.1 L120.1 361 L120.6 360.9 L121.1 360.9 L121.6 360.8 L122.1 360.7 L122.6 360.6 L123.1 360.5 L123.6 360.3 L124.1 360.2 L124.6 360.1 L125.1 360 L125.6 359.8 L126.1 359.7 L126.6 359.6 L127.1 359.4 L127.6 359.3 L128.1 359.1 L128.6 359 L129.1 358.8 L129.6 358.6 L130.1 358.4 L130.6 358.3 L131.1 358.1 L131.6 357.9 L132.1 357.7 L132.6 357.5 L133.1 357.3 L133.6 357.1 L134.1 356.9 L134.6 356.7 L135.1 356.5 L135.6 356.3 L136.1 356.1 L136.6 355.9 L137.1 355.7 L137.6 355.5 L138.1 355.3 L138.6 355.1 L139.1 354.9 L139.6 354.7 L140.1 354.5 L140.6 354.3 L141.1 354.1 L141.6 353.9 L142.1 353.8 L142.6 353.6 L143.1 353.4 L143.6 353.2 L144.1 353.1 L144.6 352.9 L145.1 352.8 L145.6 352.6 L146.1 352.5 L146.6 352.4 L147.1 352.2 L147.6 352.1 L148.1 352 L148.6 352 L149.1 351.9 L149.6 351.8 L150.1 351.8 L150.6 351.7 L151.1 351.7 L151.6 351.7 L152.1 351.6 L152.6 351.7 L153.1 351.7 L153.6 351.7 L154.1 351.8 L154.6 351.8 L155.1 351.9 L155.6 352 L156.1 352.1 L156.6 352.2 L157.1 352.3 L157.6 352.5 L158.1 352.6 L158.6 352.8 L159.1 353 L159.6 353.2 L160.1 353.4 L160.6 353.6 L161.1 353.9 L161.6 354.1 L162.1 354.4 L162.6 354.7 L163.1 355 L163.6 355.3 L164.1 355.6 L164.6 355.9 L165.1 356.2 L165.6 356.5 L166.1 356.9 L166.6 357.2 L167.1 357.6 L167.6 358 L168.1 358.3 L168.6 358.7 L169.1 359.1 L169.6 359.5 L170.1 359.9 L170.6 360.3 L171.1 360.7 L171.6 361.1 L172.1 361.5 L172.6 361.9 L173.1 362.3 L173.6 362.8 L174.1 363.2 L174.6 363.6 L175.1 364 L175.6 364.4 L176.1 364.9 L176.6 365.3 L177.1 365.7 L177.6 366.1 L178.1 366.5 L178.6 366.9 L179.1 367.3 L179.6 367.7 L180.1 368.2 L180.6 368.6 L181.1 368.9 L181.6 369.3 L182.1 369.7 L182.6 370.1 L183.1 370.5 L183.6 370.9 L184.1 371.3 L184.6 371.6 L185.1 372 L185.6 372.4 L186.1 372.7 L186.6 373.1 L187.1 373.4 L187.6 373.7 L188.1 374.1 L188.6 374.4 L189.1 374.7 L189.6 375.1 L190.1 375.4 L190.6 375.7 L191.1 376 L191.6 376.3 L192.1 376.6 L192.6 376.9 L193.1 377.1 L193.6 377.4 L194.1 377.7" fill="none" stroke="#10d8e8" stroke-width="0.8"/>
<path d="M175.4 377.7 L175.9 377.7 L176.4 377.7 L176.9 377.7 L177.4 377.7 L177.9 377.7 L178.4 377.7 L178.9 377.6 L179.4 377.5 L179.9 377.4 L180.4 377.2 L180.9 377 L181.4 376.8 L181.9 376.5 L182.4 376.1 L182.9 375.7 L183.4 375.3 L183.9 374.7 L184.4 374.2 L184.9 373.5 L185.4 372.8 L185.9 372 L186.4 371.1 L186.9 370.2 L187.4 369.2 L187.9 368.2 L188.4 367.1 L188.9 365.9 L189.4 364.7 L189.9 363.4 L190.4 362.1 L190.9 360.9 L191.4 359.6 L191.9 358.3 L192.4 357 L192.9 355.7 L193.4 354.6 L193.9 353.4 L194.4 352.4 L194.9 351.4 L195.4 350.6 L195.9 349.8 L196.4 349.2 L196.9 348.7 L197.4 348.4 L197.9 348.2 L198.4 348.2 L198.9 348.3 L199.4 348.6 L199.9 349 L200.4 349.6 L200.9 350.3 L201.4 351.2 L201.9 352.2 L202.4 353.2 L202.9 354.4 L203.4 355.7 L203.9 357.1 L204.4 358.5 L204.9 359.9 L205.4 361.4 L205.9 363 L206.4 364.5 L206.9 366 L207.4 367.5 L207.9 368.9 L208.4 370.3 L208.9 371.7 L209.4 373 L209.9 374.3 L210.4 375.5 L210.9 376.6 L211.4 377.7 L211.9 378.7 L212.4 379.6 L212.9 380.4 L213.4 381.2 L213.9 381.9 L214.4 382.6 L214.9 383.2 L215.4 383.8 L215.9 384.3 L216.4 384.7 L216.9 385.1 L217.4 385.5 L217.9 385.8 L218.4 386.1 L218.9 386.4 L219.4 386.7 L219.9 386.9 L220.4 387.1 L220.9 387.3 L221.4 387.5 L221.8 387.9 L175.4 377.9 Z" fill="url(#g17)" stroke="none"/>
<path d="M175.4 377.7 L175.9 377.7 L176.4 377.7 L176.9 377.7 L177.4 377.7 L177.9 377.7 L178.4 377.7 L178.9 377.6 L179.4 377.5 L179.9 377.4 L180.4 377.2 L180.9 377 L181.4 376.8 L181.9 376.5 L182.4 376.1 L182.9 375.7 L183.4 375.3 L183.9 374.7 L184.4 374.2 L184.9 373.5 L185.4 372.8 L185.9 372 L186.4 371.1 L186.9 370.2 L187.4 369.2 L187.9 368.2 L188.4 367.1 L188.9 365.9 L189.4 364.7 L189.9 363.4 L190.4 362.1 L190.9 360.9 L191.4 359.6 L191.9 358.3 L192.4 357 L192.9 355.7 L193.4 354.6 L193.9 353.4 L194.4 352.4 L194.9 351.4 L195.4 350.6 L195.9 349.8 L196.4 349.2 L196.9 348.7 L197.4 348.4 L197.9 348.2 L198.4 348.2 L198.9 348.3 L199.4 348.6 L199.9 349 L200.4 349.6 L200.9 350.3 L201.4 351.2 L201.9 352.2 L202.4 353.2 L202.9 354.4 L203.4 355.7 L203.9 357.1 L204.4 358.5 L204.9 359.9 L205.4 361.4 L205.9 363 L206.4 364.5 L206.9 366 L207.4 367.5 L207.9 368.9 L208.4 370.3 L208.9 371.7 L209.4 373 L209.9 374.3 L210.4 375.5 L210.9 376.6 L211.4 377.7 L211.9 378.7 L212.4 379.6 L212.9 380.4 L213.4 381.2 L213.9 381.9 L214.4 382.6 L214.9 383.2 L215.4 383.8 L215.9 384.3 L216.4 384.7 L216.9 385.1 L217.4 385.5 L217.9 385.8 L218.4 386.1 L218.9 386.4 L219.4 386.7 L219.9 386.9 L220.4 387.1 L220.9 387.3 L221.4 387.5" fill="none" stroke="#f89040" stroke-width="1.2"/>
<path d="M192.7 381.4 L193.2 381.4 L193.7 381.4 L194.2 381.4 L194.7 381.3 L195.2 381.2 L195.7 381 L196.2 380.8 L196.7 380.5 L197.2 380 L197.7 379.5 L198.2 378.9 L198.7 378.1 L199.2 377.2 L199.7 376.1 L200.2 374.9 L200.7 373.4 L201.2 371.8 L201.7 370 L202.2 368 L202.7 365.9 L203.2 363.6 L203.7 361.1 L204.2 358.5 L204.7 355.9 L205.2 353.2 L205.7 350.5 L206.2 347.8 L206.7 345.3 L207.2 342.9 L207.7 340.7 L208.2 338.8 L208.7 337.1 L209.2 335.9 L209.7 334.9 L210.2 334.4 L210.7 334.3 L211.2 334.6 L211.7 335.4 L212.2 336.5 L212.7 338 L213.2 339.8 L213.7 342 L214.2 344.4 L214.7 347 L215.2 349.8 L215.7 352.6 L216.2 355.5 L216.7 358.4 L217.2 361.3 L217.7 364.1 L218.2 366.8 L218.7 369.3 L219.2 371.7 L219.7 373.9 L220.2 375.9 L220.7 377.7 L221.2 379.4 L221.7 380.9 L222.2 382.1 L222.7 383.3 L223.2 384.3 L223.7 385.1 L224.2 385.8 L224.7 386.5 L225.2 387 L225.7 387.5 L226.2 387.9 L226.7 388.2 L227.2 388.5 L227.7 388.7 L228.2 388.9 L228.7 389.1 L228.7 389.4 L192.7 381.7 Z" fill="url(#g18)" stroke="none"/>
<path d="M192.7 381.4 L193.2 381.4 L193.7 381.4 L194.2 381.4 L194.7 381.3 L195.2 381.2 L195.7 381 L196.2 380.8 L196.7 380.5 L197.2 380 L197.7 379.5 L198.2 378.9 L198.7 378.1 L199.2 377.2 L199.7 376.1 L200.2 374.9 L200.7 373.4 L201.2 371.8 L201.7 370 L202.2 368 L202.7 365.9 L203.2 363.6 L203.7 361.1 L204.2 358.5 L204.7 355.9 L205.2 353.2 L205.7 350.5 L206.2 347.8 L206.7 345.3 L207.2 342.9 L207.7 340.7 L208.2 338.8 L208.7 337.1 L209.2 335.9 L209.7 334.9 L210.2 334.4 L210.7 334.3 L211.2 334.6 L211.7 335.4 L212.2 336.5 L212.7 338 L213.2 339.8 L213.7 342 L214.2 344.4 L214.7 347 L215.2 349.8 L215.7 352.6 L216.2 355.5 L216.7 358.4 L217.2 361.3 L217.7 364.1 L218.2 366.8 L218.7 369.3 L219.2 371.7 L219.7 373.9 L220.2 375.9 L220.7 377.7 L221.2 379.4 L221.7 380.9 L222.2 382.1 L222.7 383.3 L223.2 384.3 L223.7 385.1 L224.2 385.8 L224.7 386.5 L225.2 387 L225.7 387.5 L226.2 387.9 L226.7 388.2 L227.2 388.5 L227.7 388.7 L228.2 388.9 L228.7 389.1" fill="none" stroke="#ff30c0" stroke-width="1.2"/>
<line x1="32.8" y1="347.3" x2="237" y2="391.2" stroke="#20c8e0" stroke-width="2.2"/>
<path d="M33 343.4 L34 343.4 L35 343.3 L36 343.4 L37 343.7 L38 343.8 L39 343.6 L40 343.2 L41 342.8 L42 342.6 L43 342.8 L44 343.1 L45 343.2 L46 343 L47 342.8 L48 342.6 L49 342.4 L50 341.9 L51 341.4 L52 340.9 L53 340.6 L54 340.6 L55 340.4 L56 340 L57 339.5 L58 339.2 L59 339.3 L60 339.7 L61 340 L62 340.3 L63 340.4 L64 340.5 L65 340.5 L66 340.4 L67 340.2 L68 340 L69 340.1 L70 340.5 L71 341 L72 341.4 L73 341.4 L74 341.4 L75 341.5 L76 341.7 L77 341.8 L78 341.9 L79 341.8 L80 341.9 L81 342.1 L82 342 L83 341.6 L84 340.8 L85 340.1 L86 339.7 L87 339.5 L88 339.5 L89 339.3 L90 339.1 L91 338.8 L92 338.5 L93 338 L94 337.3 L95 336.5 L96 336 L97 335.8 L98 336 L99 336.2 L100 335.9 L101 335.2 L102 334.4 L103 333.6 L104 333 L105 332.3 L106 331.6 L107 331 L108 330.6 L109 330.2 L110 329.6 L111 328.6 L112 327.4 L113 326.2 L114 325.4 L115 324.9 L116 324.4 L117 323.7 L118 323.2 L119 322.8 L120 322.6 L121 322.9 L122 323.2 L123 323.4 L124 323.9 L125 324.6 L126 326.6 L127 328.4 L128 329.8 L129 331 L130 333.1 L131 335.3 L132 337.6 L133 339.8 L134 341.1 L135 342.5 L136 344.1 L137 345.6 L138 346.7 L139 347.4 L140 347.3 L141 347.5 L142 348 L143 348.5 L144 348.8 L145 348.9 L146 349 L147 349.1 L148 349.2 L149 349 L150 348.8 L151 348.9 L152 349.4 L153 350.1 L154 350.6 L155 350.7 L156 350.6 L157 350.5 L158 350.7 L159 351 L160 351.3 L161 351.6 L162 351.9 L163 352.4 L164 353 L165 353.3 L166 353.3 L167 353.2 L168 353.4 L169 353.8 L170 354.3 L171 354.6 L172 354.7 L173 354.7 L174 354.8 L175 354.9 L176 355 L177 354.6 L178 354.4 L179 354.4 L180 354.7 L181 354.5 L182 353.6 L183 352.4 L184 351.2 L185 350.2 L186 349.3 L187 348.4 L188 347.3 L189 346 L190 344.9 L191 343.5 L192 342.3 L193 341.1 L194 340 L195 338.6 L196 336.9 L197 335.2 L198 333.5 L199 331.8 L200 330.2 L201 328.5 L202 326.4 L203 324.2 L204 321.9 L205 319.7 L206 317.4 L207 316.2 L208 315.1 L209 314.6 L210 316.4 L211 318.2 L212 320.6 L213 325.8 L214 331 L215 336.3 L216 342.8 L217 349.7 L218 356.4 L219 362.4 L220 366.1 L221 369.7 L222 373.5 L223 376.3 L224 378.9 L225 381.5 L226 383.8 L227 385 L228 386.3 L229 387.5 L230 388.7 L231 389.3 L232 389.7 L233 390.1 L234 390.4 L235 390.8 L236 391.1" fill="none" stroke="#000" stroke-width="1.2" stroke-linejoin="round"/>
<path d="M33 343.6 C34.9 343.5 40.4 343.3 44.3 343 C48.2 342.7 52.5 341.9 56.6 341.6 C60.7 341.3 64.8 341.1 68.9 341 C73 340.9 77.5 341.4 81.2 341 C85 340.6 88.3 339.8 91.4 338.9 C94.5 338 96.9 337.3 99.6 335.9 C102.3 334.5 105.4 332.3 107.8 330.7 C110.2 329.1 112 327.4 114 326.2 C116 324.9 118.3 323.4 120.1 323.2 C121.9 323 123.5 323.5 125 324.8 C126.5 326.1 127.7 328.5 129 331 C130.3 333.5 131.3 337.2 133 340 C134.7 342.8 136.4 345.9 138.9 347.5 C141.4 349.1 145.1 349.2 148.2 349.8 C151.3 350.4 154.3 350.4 157.4 350.9 C160.5 351.4 163.6 352.1 166.7 352.8 C169.8 353.5 173.6 354.8 175.9 355.1 C178.2 355.4 178.7 355.7 180.6 354.4 C182.5 353.1 185.2 350 187.5 347.5 C189.8 345 192.2 342.7 194.5 339.4 C196.8 336.1 199.5 331.5 201.4 327.8 C203.3 324.1 204.8 319.7 206 317.4 C207.2 315.1 207.8 313.7 208.8 313.9 C209.8 314.1 210.7 314.6 211.8 318.5 C212.9 322.4 214.1 330.1 215.3 337 C216.5 343.9 217.7 354 218.8 360.2 C220 366.4 221 370.2 222.2 374.1 C223.3 378 224.3 380.9 225.7 383.4 C227 385.9 228.5 387.8 230.3 389.1 C232.1 390.4 235.5 390.9 236.5 391.3" fill="none" stroke="#f00" stroke-width="1.35" stroke-linejoin="round" />
<path d="M33 458.2 L33 458.2 L34 458.2 L35 458.3 L36 458.4 L37 458.5 L38 458.6 L39 458.7 L40 458.8 L41 458.9 L42 459.1 L43 459.2 L44 459.3 L45 459.5 L46 459.6 L47 459.8 L48 459.9 L49 460 L50 460.2 L51 460.3 L52 460.5 L53 460.6 L54 460.8 L55 460.9 L56 461.1 L57 461.3 L58 461.4 L59 461.6 L60 461.7 L61 461.9 L62 462.1 L63 462.2 L64 462.4 L65 462.6 L66 462.7 L67 462.9 L68 463.1 L69 463.2 L70 463.4 L71 463.6 L72 463.8 L73 463.9 L74 464.1 L75 464.3 L76 464.5 L77 464.7 L78 464.8 L79 465 L80 465.2 L81 465.4 L82 465.6 L83 465.8 L84 466 L85 466.1 L86 466.3 L87 466.5 L88 466.7 L89 466.9 L90 467.1 L91 467.3 L92 467.5 L93 467.7 L94 467.9 L95 468.1 L96 468.3 L97 468.5 L98 468.7 L99 469 L100 469.2 L101 469.4 L102 469.6 L103 469.8 L104 470 L105 470.2 L106 470.4 L107 470.7 L108 470.9 L109 471.1 L110 471.3 L111 471.6 L112 471.8 L113 472 L114 472.2 L115 472.5 L116 472.7 L117 472.9 L118 473.2 L119 473.4 L120 473.6 L121 473.9 L122 474.1 L123 474.3 L124 474.6 L125 474.8 L126 475.1 L127 475.3 L128 475.6 L129 475.8 L130 476.1 L131 476.3 L132 476.6 L133 476.8 L134 477.1 L135 477.3 L136 477.6 L137 477.8 L138 478.1 L139 478.4 L140 478.6 L141 478.9 L142 479.1 L143 479.4 L144 479.7 L145 479.9 L146 480.2 L147 480.5 L148 480.8 L149 481 L150 481.3 L151 481.6 L152 481.9 L153 482.1 L154 482.4 L155 482.7 L156 483 L157 483.3 L158 483.6 L159 483.8 L160 484.1 L161 484.4 L162 484.7 L163 485 L164 485.3 L165 485.6 L166 485.9 L167 486.2 L168 486.5 L169 486.8 L170 487.1 L171 487.4 L172 487.7 L173 488 L174 488.3 L175 488.6 L176 488.9 L177 489.2 L178 489.5 L179 489.8 L180 490.2 L181 490.5 L182 490.8 L183 491.1 L184 491.4 L185 491.7 L186 492.1 L187 492.4 L188 492.7 L189 493 L190 493.4 L191 493.7 L192 494 L193 494.3 L194 494.7 L195 495 L196 495.3 L197 495.7 L198 496 L199 496.3 L200 496.7 L201 497 L202 497.4 L203 497.7 L204 498 L205 498.4 L206 498.7 L207 499.1 L208 499.4 L209 499.8 L210 500.1 L211 500.5 L212 500.8 L213 501.2 L214 501.5 L215 501.9 L216 502.3 L217 502.6 L218 503 L219 503.3 L220 503.7 L221 504.1 L222 504.4 L223 504.8 L224 505.2 L225 505.6 L226 505.9 L227 506.3 L228 506.7 L229 507.1 L230 507.5 L231 507.9 L232 508.3 L233 508.7 L234 509.1 L235 509.5 L236 509.9 L237 510.4 L237 510.4 Z" fill="#7fc8c8" fill-opacity="0.35"/>
<path d="M32.8 457 L33.2 457.1 L33.8 457.1 L34.2 457.2 L34.8 457.3 L35.2 457.3 L35.8 457.4 L36.2 457.5 L36.8 457.5 L37.2 457.6 L37.8 457.6 L38.2 457.7 L38.8 457.7 L39.2 457.8 L39.8 457.8 L40.2 457.8 L40.8 457.9 L41.2 457.9 L41.8 457.9 L42.2 458 L42.8 458 L43.2 458 L43.8 458 L44.2 458.1 L44.8 458.1 L45.2 458.1 L45.8 458.1 L46.2 458.1 L46.8 458.1 L47.2 458.1 L47.8 458.1 L48.2 458.1 L48.8 458.1 L49.2 458.1 L49.8 458.1 L50.2 458.1 L50.8 458.1 L51.2 458.1 L51.8 458.1 L52.2 458 L52.8 458 L53.2 458 L53.8 458 L54.2 458 L54.8 457.9 L55.2 457.9 L55.8 457.9 L56.2 457.9 L56.8 457.9 L57.2 457.8 L57.8 457.8 L58.2 457.8 L58.8 457.7 L59.2 457.7 L59.8 457.7 L60.2 457.7 L60.8 457.7 L61.2 457.6 L61.8 457.6 L62.2 457.6 L62.8 457.6 L63.2 457.6 L63.8 457.5 L64.2 457.5 L64.8 457.5 L65.2 457.5 L65.8 457.5 L66.2 457.5 L66.8 457.5 L67.2 457.5 L67.8 457.5 L68.2 457.5 L68.8 457.5 L69.2 457.5 L69.8 457.6 L70.2 457.6 L70.8 457.6 L71.2 457.6 L71.8 457.7 L72.2 457.7 L72.8 457.8 L73.2 457.8 L73.8 457.9 L74.2 457.9 L74.8 458 L75.2 458.1 L75.8 458.2 L76.2 458.2 L76.8 458.3 L77.2 458.4 L77.8 458.5 L78.2 458.6 L78.8 458.7 L79.2 458.9 L79.8 459 L80.2 459.1 L80.8 459.2 L81.2 459.4 L81.8 459.6 L82.2 459.7 L82.8 459.9 L83.2 460.1 L83.8 460.3 L84.2 460.6 L84.8 460.8 L85.2 461 L85.8 461.3 L86.2 461.5 L86.8 461.8 L87.2 462.1 L87.8 462.4 L88.2 462.7 L88.8 463 L89.2 463.3 L89.8 463.6 L90.2 463.9 L90.8 464.2 L91.2 464.6 L91.8 464.9 L92.2 465.2 L92.8 465.6 L93.2 465.9 L93.8 466.3 L94.2 466.6 L94.8 467 L95.2 467.3 L95.8 467.7 L96.2 468 L96.8 468.4 L97.2 468.7 L97.8 469.1 L98.2 469.4 L98.8 469.8 L99.2 470.1 L99.8 470.4 L100.2 470.8 L100.8 471.1 L101.2 471.4 L101.8 471.7 L102.2 472.1 L102.8 472.4 L103.2 472.7 L103.8 473 L104.2 473.3 L104.8 473.6 L105.2 473.8 L105.8 474.1 L106.2 474.4 L106.8 474.7 L107.2 474.9 L107.8 475.2 L108.2 475.4 L108.8 475.7 L109.2 475.9 L109.8 476.2 L110.2 476.4 L110.8 476.6 L111.2 476.9 L111.8 477.1 L112.2 477.3 L112.8 477.5 L113.2 477.7 L113.8 477.9 L114.2 478.1 L114.8 478.3 L115.2 478.5 L115.8 478.7 L116 479.5 L32.8 458.1 Z" fill="url(#g19)" stroke="none"/>
<path d="M32.8 457 L33.2 457.1 L33.8 457.1 L34.2 457.2 L34.8 457.3 L35.2 457.3 L35.8 457.4 L36.2 457.5 L36.8 457.5 L37.2 457.6 L37.8 457.6 L38.2 457.7 L38.8 457.7 L39.2 457.8 L39.8 457.8 L40.2 457.8 L40.8 457.9 L41.2 457.9 L41.8 457.9 L42.2 458 L42.8 458 L43.2 458 L43.8 458 L44.2 458.1 L44.8 458.1 L45.2 458.1 L45.8 458.1 L46.2 458.1 L46.8 458.1 L47.2 458.1 L47.8 458.1 L48.2 458.1 L48.8 458.1 L49.2 458.1 L49.8 458.1 L50.2 458.1 L50.8 458.1 L51.2 458.1 L51.8 458.1 L52.2 458 L52.8 458 L53.2 458 L53.8 458 L54.2 458 L54.8 457.9 L55.2 457.9 L55.8 457.9 L56.2 457.9 L56.8 457.9 L57.2 457.8 L57.8 457.8 L58.2 457.8 L58.8 457.7 L59.2 457.7 L59.8 457.7 L60.2 457.7 L60.8 457.7 L61.2 457.6 L61.8 457.6 L62.2 457.6 L62.8 457.6 L63.2 457.6 L63.8 457.5 L64.2 457.5 L64.8 457.5 L65.2 457.5 L65.8 457.5 L66.2 457.5 L66.8 457.5 L67.2 457.5 L67.8 457.5 L68.2 457.5 L68.8 457.5 L69.2 457.5 L69.8 457.6 L70.2 457.6 L70.8 457.6 L71.2 457.6 L71.8 457.7 L72.2 457.7 L72.8 457.8 L73.2 457.8 L73.8 457.9 L74.2 457.9 L74.8 458 L75.2 458.1 L75.8 458.2 L76.2 458.2 L76.8 458.3 L77.2 458.4 L77.8 458.5 L78.2 458.6 L78.8 458.7 L79.2 458.9 L79.8 459 L80.2 459.1 L80.8 459.2 L81.2 459.4 L81.8 459.6 L82.2 459.7 L82.8 459.9 L83.2 460.1 L83.8 460.3 L84.2 460.6 L84.8 460.8 L85.2 461 L85.8 461.3 L86.2 461.5 L86.8 461.8 L87.2 462.1 L87.8 462.4 L88.2 462.7 L88.8 463 L89.2 463.3 L89.8 463.6 L90.2 463.9 L90.8 464.2 L91.2 464.6 L91.8 464.9 L92.2 465.2 L92.8 465.6 L93.2 465.9 L93.8 466.3 L94.2 466.6 L94.8 467 L95.2 467.3 L95.8 467.7 L96.2 468 L96.8 468.4 L97.2 468.7 L97.8 469.1 L98.2 469.4 L98.8 469.8 L99.2 470.1 L99.8 470.4 L100.2 470.8 L100.8 471.1 L101.2 471.4 L101.8 471.7 L102.2 472.1 L102.8 472.4 L103.2 472.7 L103.8 473 L104.2 473.3 L104.8 473.6 L105.2 473.8 L105.8 474.1 L106.2 474.4 L106.8 474.7 L107.2 474.9 L107.8 475.2 L108.2 475.4 L108.8 475.7 L109.2 475.9 L109.8 476.2 L110.2 476.4 L110.8 476.6 L111.2 476.9 L111.8 477.1 L112.2 477.3 L112.8 477.5 L113.2 477.7 L113.8 477.9 L114.2 478.1 L114.8 478.3 L115.2 478.5 L115.8 478.7" fill="none" stroke="#8a8a40" stroke-width="0.8"/>
<path d="M89 472.2 L89.5 472.3 L90 472.3 L90.5 472.4 L91 472.4 L91.5 472.4 L92 472.3 L92.5 472.3 L93 472.2 L93.5 472 L94 471.8 L94.5 471.6 L95 471.4 L95.5 471.1 L96 470.7 L96.5 470.3 L97 469.9 L97.5 469.4 L98 468.9 L98.5 468.3 L99 467.7 L99.5 467.1 L100 466.4 L100.5 465.7 L101 465 L101.5 464.2 L102 463.5 L102.5 462.8 L103 462.1 L103.5 461.5 L104 460.9 L104.5 460.4 L105 459.9 L105.5 459.6 L106 459.3 L106.5 459.1 L107 459 L107.5 459 L108 459.1 L108.5 459.3 L109 459.7 L109.5 460.1 L110 460.6 L110.5 461.2 L111 461.9 L111.5 462.7 L112 463.5 L112.5 464.4 L113 465.3 L113.5 466.3 L114 467.3 L114.5 468.2 L115 469.2 L115.5 470.2 L116 471.1 L116.5 472 L117 472.9 L117.5 473.7 L118 474.5 L118.5 475.3 L119 476 L119.5 476.7 L120 477.3 L120.5 477.8 L121 478.3 L121.5 478.8 L122 479.3 L122.5 479.7 L123 480 L123.5 480.3 L124 480.7 L124.5 480.9 L125 481.2 L125.5 481.4 L126 481.6 L126.5 481.8 L126.6 482.2 L89 472.5 Z" fill="url(#g20)" stroke="none"/>
<path d="M89 472.2 L89.5 472.3 L90 472.3 L90.5 472.4 L91 472.4 L91.5 472.4 L92 472.3 L92.5 472.3 L93 472.2 L93.5 472 L94 471.8 L94.5 471.6 L95 471.4 L95.5 471.1 L96 470.7 L96.5 470.3 L97 469.9 L97.5 469.4 L98 468.9 L98.5 468.3 L99 467.7 L99.5 467.1 L100 466.4 L100.5 465.7 L101 465 L101.5 464.2 L102 463.5 L102.5 462.8 L103 462.1 L103.5 461.5 L104 460.9 L104.5 460.4 L105 459.9 L105.5 459.6 L106 459.3 L106.5 459.1 L107 459 L107.5 459 L108 459.1 L108.5 459.3 L109 459.7 L109.5 460.1 L110 460.6 L110.5 461.2 L111 461.9 L111.5 462.7 L112 463.5 L112.5 464.4 L113 465.3 L113.5 466.3 L114 467.3 L114.5 468.2 L115 469.2 L115.5 470.2 L116 471.1 L116.5 472 L117 472.9 L117.5 473.7 L118 474.5 L118.5 475.3 L119 476 L119.5 476.7 L120 477.3 L120.5 477.8 L121 478.3 L121.5 478.8 L122 479.3 L122.5 479.7 L123 480 L123.5 480.3 L124 480.7 L124.5 480.9 L125 481.2 L125.5 481.4 L126 481.6 L126.5 481.8" fill="none" stroke="#1a98e8" stroke-width="1.1"/>
<path d="M107.1 476.9 L107.6 476.9 L108.1 477 L108.6 476.9 L109.1 476.9 L109.6 476.8 L110.1 476.6 L110.6 476.4 L111.1 476 L111.6 475.7 L112.1 475.2 L112.6 474.6 L113.1 473.9 L113.6 473.1 L114.1 472.2 L114.6 471.2 L115.1 470.1 L115.6 468.9 L116.1 467.6 L116.6 466.2 L117.1 464.8 L117.6 463.5 L118.1 462.1 L118.6 460.8 L119.1 459.6 L119.6 458.5 L120.1 457.6 L120.6 456.9 L121.1 456.4 L121.6 456.1 L122.1 456 L122.6 456.2 L123.1 456.7 L123.6 457.4 L124.1 458.3 L124.6 459.4 L125.1 460.6 L125.6 462.1 L126.1 463.6 L126.6 465.2 L127.1 466.8 L127.6 468.4 L128.1 470.1 L128.6 471.6 L129.1 473.1 L129.6 474.5 L130.1 475.8 L130.6 477.1 L131.1 478.2 L131.6 479.1 L132.1 480 L132.6 480.8 L133.1 481.5 L133.6 482.1 L134.1 482.6 L134.6 483 L135.1 483.4 L135.6 483.8 L136.1 484.1 L136.6 484.3 L137.1 484.6 L137.3 484.9 L107.1 477.2 Z" fill="url(#g21)" stroke="none"/>
<path d="M107.1 476.9 L107.6 476.9 L108.1 477 L108.6 476.9 L109.1 476.9 L109.6 476.8 L110.1 476.6 L110.6 476.4 L111.1 476 L111.6 475.7 L112.1 475.2 L112.6 474.6 L113.1 473.9 L113.6 473.1 L114.1 472.2 L114.6 471.2 L115.1 470.1 L115.6 468.9 L116.1 467.6 L116.6 466.2 L117.1 464.8 L117.6 463.5 L118.1 462.1 L118.6 460.8 L119.1 459.6 L119.6 458.5 L120.1 457.6 L120.6 456.9 L121.1 456.4 L121.6 456.1 L122.1 456 L122.6 456.2 L123.1 456.7 L123.6 457.4 L124.1 458.3 L124.6 459.4 L125.1 460.6 L125.6 462.1 L126.1 463.6 L126.6 465.2 L127.1 466.8 L127.6 468.4 L128.1 470.1 L128.6 471.6 L129.1 473.1 L129.6 474.5 L130.1 475.8 L130.6 477.1 L131.1 478.2 L131.6 479.1 L132.1 480 L132.6 480.8 L133.1 481.5 L133.6 482.1 L134.1 482.6 L134.6 483 L135.1 483.4 L135.6 483.8 L136.1 484.1 L136.6 484.3 L137.1 484.6" fill="none" stroke="#f06868" stroke-width="1.1"/>
<path d="M114.6 475.4 L115.1 475.3 L115.6 475.3 L116.1 475.3 L116.6 475.3 L117.1 475.2 L117.6 475.2 L118.1 475.1 L118.6 475.1 L119.1 475 L119.6 475 L120.1 474.9 L120.6 474.8 L121.1 474.8 L121.6 474.7 L122.1 474.6 L122.6 474.5 L123.1 474.4 L123.6 474.3 L124.1 474.2 L124.6 474.1 L125.1 474 L125.6 473.9 L126.1 473.8 L126.6 473.7 L127.1 473.5 L127.6 473.4 L128.1 473.3 L128.6 473.1 L129.1 473 L129.6 472.9 L130.1 472.7 L130.6 472.6 L131.1 472.4 L131.6 472.3 L132.1 472.1 L132.6 472 L133.1 471.8 L133.6 471.7 L134.1 471.5 L134.6 471.4 L135.1 471.2 L135.6 471.1 L136.1 470.9 L136.6 470.8 L137.1 470.6 L137.6 470.5 L138.1 470.4 L138.6 470.2 L139.1 470.1 L139.6 470 L140.1 469.8 L140.6 469.7 L141.1 469.6 L141.6 469.5 L142.1 469.4 L142.6 469.3 L143.1 469.2 L143.6 469.1 L144.1 469 L144.6 469 L145.1 468.9 L145.6 468.9 L146.1 468.8 L146.6 468.8 L147.1 468.8 L147.6 468.8 L148.1 468.8 L148.6 468.8 L149.1 468.8 L149.6 468.8 L150.1 468.9 L150.6 469 L151.1 469 L151.6 469.1 L152.1 469.2 L152.6 469.3 L153.1 469.5 L153.6 469.6 L154.1 469.7 L154.6 469.9 L155.1 470.1 L155.6 470.3 L156.1 470.5 L156.6 470.7 L157.1 470.9 L157.6 471.1 L158.1 471.4 L158.6 471.6 L159.1 471.9 L159.6 472.2 L160.1 472.5 L160.6 472.8 L161.1 473.1 L161.6 473.4 L162.1 473.7 L162.6 474.1 L163.1 474.4 L163.6 474.7 L164.1 475.1 L164.6 475.5 L165.1 475.8 L165.6 476.2 L166.1 476.6 L166.6 477 L167.1 477.4 L167.6 477.7 L168.1 478.1 L168.6 478.5 L169.1 478.9 L169.6 479.3 L170.1 479.7 L170.6 480.2 L171.1 480.6 L171.6 481 L172.1 481.4 L172.6 481.8 L173.1 482.2 L173.6 482.6 L174.1 483 L174.6 483.4 L175.1 483.8 L175.6 484.2 L176.1 484.6 L176.6 485 L177.1 485.4 L177.6 485.8 L178.1 486.2 L178.6 486.6 L179.1 486.9 L179.6 487.3 L180.1 487.7 L180.6 488.1 L181.1 488.4 L181.6 488.8 L182.1 489.2 L182.6 489.5 L183.1 489.9 L183.6 490.2 L184.1 490.6 L184.6 490.9 L185.1 491.2 L185.6 491.6 L186.1 491.9 L186.6 492.2 L187.1 492.5 L187.6 492.8 L188.1 493.1 L188.6 493.4 L189.1 493.7 L189.6 494 L190.1 494.3 L190.6 494.6 L191.1 494.9 L191.4 498.8 L114.6 479.1 Z" fill="url(#g22)" stroke="none"/>
<path d="M114.6 475.4 L115.1 475.3 L115.6 475.3 L116.1 475.3 L116.6 475.3 L117.1 475.2 L117.6 475.2 L118.1 475.1 L118.6 475.1 L119.1 475 L119.6 475 L120.1 474.9 L120.6 474.8 L121.1 474.8 L121.6 474.7 L122.1 474.6 L122.6 474.5 L123.1 474.4 L123.6 474.3 L124.1 474.2 L124.6 474.1 L125.1 474 L125.6 473.9 L126.1 473.8 L126.6 473.7 L127.1 473.5 L127.6 473.4 L128.1 473.3 L128.6 473.1 L129.1 473 L129.6 472.9 L130.1 472.7 L130.6 472.6 L131.1 472.4 L131.6 472.3 L132.1 472.1 L132.6 472 L133.1 471.8 L133.6 471.7 L134.1 471.5 L134.6 471.4 L135.1 471.2 L135.6 471.1 L136.1 470.9 L136.6 470.8 L137.1 470.6 L137.6 470.5 L138.1 470.4 L138.6 470.2 L139.1 470.1 L139.6 470 L140.1 469.8 L140.6 469.7 L141.1 469.6 L141.6 469.5 L142.1 469.4 L142.6 469.3 L143.1 469.2 L143.6 469.1 L144.1 469 L144.6 469 L145.1 468.9 L145.6 468.9 L146.1 468.8 L146.6 468.8 L147.1 468.8 L147.6 468.8 L148.1 468.8 L148.6 468.8 L149.1 468.8 L149.6 468.8 L150.1 468.9 L150.6 469 L151.1 469 L151.6 469.1 L152.1 469.2 L152.6 469.3 L153.1 469.5 L153.6 469.6 L154.1 469.7 L154.6 469.9 L155.1 470.1 L155.6 470.3 L156.1 470.5 L156.6 470.7 L157.1 470.9 L157.6 471.1 L158.1 471.4 L158.6 471.6 L159.1 471.9 L159.6 472.2 L160.1 472.5 L160.6 472.8 L161.1 473.1 L161.6 473.4 L162.1 473.7 L162.6 474.1 L163.1 474.4 L163.6 474.7 L164.1 475.1 L164.6 475.5 L165.1 475.8 L165.6 476.2 L166.1 476.6 L166.6 477 L167.1 477.4 L167.6 477.7 L168.1 478.1 L168.6 478.5 L169.1 478.9 L169.6 479.3 L170.1 479.7 L170.6 480.2 L171.1 480.6 L171.6 481 L172.1 481.4 L172.6 481.8 L173.1 482.2 L173.6 482.6 L174.1 483 L174.6 483.4 L175.1 483.8 L175.6 484.2 L176.1 484.6 L176.6 485 L177.1 485.4 L177.6 485.8 L178.1 486.2 L178.6 486.6 L179.1 486.9 L179.6 487.3 L180.1 487.7 L180.6 488.1 L181.1 488.4 L181.6 488.8 L182.1 489.2 L182.6 489.5 L183.1 489.9 L183.6 490.2 L184.1 490.6 L184.6 490.9 L185.1 491.2 L185.6 491.6 L186.1 491.9 L186.6 492.2 L187.1 492.5 L187.6 492.8 L188.1 493.1 L188.6 493.4 L189.1 493.7 L189.6 494 L190.1 494.3 L190.6 494.6 L191.1 494.9" fill="none" stroke="#10d8e8" stroke-width="0.8"/>
<path d="M171.9 493.5 L172.4 493.6 L172.9 493.6 L173.4 493.7 L173.9 493.7 L174.4 493.7 L174.9 493.7 L175.4 493.6 L175.9 493.6 L176.4 493.5 L176.9 493.3 L177.4 493.1 L177.9 492.9 L178.4 492.6 L178.9 492.3 L179.4 491.9 L179.9 491.4 L180.4 490.9 L180.9 490.3 L181.4 489.7 L181.9 488.9 L182.4 488.1 L182.9 487.2 L183.4 486.2 L183.9 485.2 L184.4 484 L184.9 482.8 L185.4 481.6 L185.9 480.2 L186.4 478.9 L186.9 477.4 L187.4 476 L187.9 474.5 L188.4 473 L188.9 471.6 L189.4 470.1 L189.9 468.7 L190.4 467.3 L190.9 466.1 L191.4 464.9 L191.9 463.8 L192.4 462.8 L192.9 461.9 L193.4 461.3 L193.9 460.7 L194.4 460.3 L194.9 460.1 L195.4 460.1 L195.9 460.2 L196.4 460.6 L196.9 461.1 L197.4 461.7 L197.9 462.6 L198.4 463.5 L198.9 464.7 L199.4 465.9 L199.9 467.3 L200.4 468.8 L200.9 470.3 L201.4 471.9 L201.9 473.6 L202.4 475.3 L202.9 477.1 L203.4 478.8 L203.9 480.5 L204.4 482.2 L204.9 483.9 L205.4 485.5 L205.9 487.1 L206.4 488.6 L206.9 490.1 L207.4 491.4 L207.9 492.7 L208.4 493.9 L208.9 495.1 L209.4 496.1 L209.9 497.1 L210.4 498 L210.9 498.9 L211.4 499.6 L211.9 500.3 L212.4 501 L212.9 501.5 L213.4 502.1 L213.9 502.5 L214.4 503 L214.9 503.4 L215.4 503.7 L215.9 504 L216.4 504.3 L216.9 504.6 L217.4 504.8 L217.9 505.1 L218.4 505.3 L218.9 505.5 L219.3 505.9 L171.9 493.8 Z" fill="url(#g23)" stroke="none"/>
<path d="M171.9 493.5 L172.4 493.6 L172.9 493.6 L173.4 493.7 L173.9 493.7 L174.4 493.7 L174.9 493.7 L175.4 493.6 L175.9 493.6 L176.4 493.5 L176.9 493.3 L177.4 493.1 L177.9 492.9 L178.4 492.6 L178.9 492.3 L179.4 491.9 L179.9 491.4 L180.4 490.9 L180.9 490.3 L181.4 489.7 L181.9 488.9 L182.4 488.1 L182.9 487.2 L183.4 486.2 L183.9 485.2 L184.4 484 L184.9 482.8 L185.4 481.6 L185.9 480.2 L186.4 478.9 L186.9 477.4 L187.4 476 L187.9 474.5 L188.4 473 L188.9 471.6 L189.4 470.1 L189.9 468.7 L190.4 467.3 L190.9 466.1 L191.4 464.9 L191.9 463.8 L192.4 462.8 L192.9 461.9 L193.4 461.3 L193.9 460.7 L194.4 460.3 L194.9 460.1 L195.4 460.1 L195.9 460.2 L196.4 460.6 L196.9 461.1 L197.4 461.7 L197.9 462.6 L198.4 463.5 L198.9 464.7 L199.4 465.9 L199.9 467.3 L200.4 468.8 L200.9 470.3 L201.4 471.9 L201.9 473.6 L202.4 475.3 L202.9 477.1 L203.4 478.8 L203.9 480.5 L204.4 482.2 L204.9 483.9 L205.4 485.5 L205.9 487.1 L206.4 488.6 L206.9 490.1 L207.4 491.4 L207.9 492.7 L208.4 493.9 L208.9 495.1 L209.4 496.1 L209.9 497.1 L210.4 498 L210.9 498.9 L211.4 499.6 L211.9 500.3 L212.4 501 L212.9 501.5 L213.4 502.1 L213.9 502.5 L214.4 503 L214.9 503.4 L215.4 503.7 L215.9 504 L216.4 504.3 L216.9 504.6 L217.4 504.8 L217.9 505.1 L218.4 505.3 L218.9 505.5" fill="none" stroke="#f89040" stroke-width="1.2"/>
<path d="M190.6 498.3 L191.1 498.3 L191.6 498.3 L192.1 498.3 L192.6 498.2 L193.1 498.1 L193.6 497.9 L194.1 497.6 L194.6 497.2 L195.1 496.8 L195.6 496.2 L196.1 495.5 L196.6 494.6 L197.1 493.6 L197.6 492.4 L198.1 491 L198.6 489.4 L199.1 487.5 L199.6 485.5 L200.1 483.3 L200.6 480.8 L201.1 478.2 L201.6 475.4 L202.1 472.5 L202.6 469.5 L203.1 466.4 L203.6 463.4 L204.1 460.4 L204.6 457.5 L205.1 454.8 L205.6 452.4 L206.1 450.2 L206.6 448.3 L207.1 446.9 L207.6 445.8 L208.1 445.3 L208.6 445.2 L209.1 445.5 L209.6 446.4 L210.1 447.6 L210.6 449.4 L211.1 451.5 L211.6 453.9 L212.1 456.6 L212.6 459.6 L213.1 462.7 L213.6 466 L214.1 469.3 L214.6 472.6 L215.1 475.8 L215.6 479 L216.1 482 L216.6 484.9 L217.1 487.6 L217.6 490.1 L218.1 492.4 L218.6 494.5 L219.1 496.3 L219.6 498 L220.1 499.5 L220.6 500.8 L221.1 501.9 L221.6 502.9 L222.1 503.7 L222.6 504.4 L223.1 505 L223.6 505.6 L224.1 506 L224.6 506.4 L225.1 506.7 L225.6 507 L226.1 507.3 L226.6 507.5 L226.6 507.8 L190.6 498.6 Z" fill="url(#g24)" stroke="none"/>
<path d="M190.6 498.3 L191.1 498.3 L191.6 498.3 L192.1 498.3 L192.6 498.2 L193.1 498.1 L193.6 497.9 L194.1 497.6 L194.6 497.2 L195.1 496.8 L195.6 496.2 L196.1 495.5 L196.6 494.6 L197.1 493.6 L197.6 492.4 L198.1 491 L198.6 489.4 L199.1 487.5 L199.6 485.5 L200.1 483.3 L200.6 480.8 L201.1 478.2 L201.6 475.4 L202.1 472.5 L202.6 469.5 L203.1 466.4 L203.6 463.4 L204.1 460.4 L204.6 457.5 L205.1 454.8 L205.6 452.4 L206.1 450.2 L206.6 448.3 L207.1 446.9 L207.6 445.8 L208.1 445.3 L208.6 445.2 L209.1 445.5 L209.6 446.4 L210.1 447.6 L210.6 449.4 L211.1 451.5 L211.6 453.9 L212.1 456.6 L212.6 459.6 L213.1 462.7 L213.6 466 L214.1 469.3 L214.6 472.6 L215.1 475.8 L215.6 479 L216.1 482 L216.6 484.9 L217.1 487.6 L217.6 490.1 L218.1 492.4 L218.6 494.5 L219.1 496.3 L219.6 498 L220.1 499.5 L220.6 500.8 L221.1 501.9 L221.6 502.9 L222.1 503.7 L222.6 504.4 L223.1 505 L223.6 505.6 L224.1 506 L224.6 506.4 L225.1 506.7 L225.6 507 L226.1 507.3 L226.6 507.5" fill="none" stroke="#ff30c0" stroke-width="1.2"/>
<line x1="32.8" y1="458.1" x2="237" y2="510.4" stroke="#20c8e0" stroke-width="2.2"/>
<path d="M33 459.3 L34 459.5 L35 457.9 L36 455.5 L37 454.8 L38 456.6 L39 459.2 L40 460.1 L41 459.2 L42 458.1 L43 457.7 L44 457.3 L45 456.5 L46 456.3 L47 457.7 L48 460.1 L49 461.2 L50 459.7 L51 457.1 L52 455.9 L53 456.9 L54 458.3 L55 459 L56 459.2 L57 459.7 L58 460 L59 458.9 L60 456.7 L61 455.5 L62 456.8 L63 459.5 L64 461 L65 460.2 L66 458.5 L67 457.6 L68 457.5 L69 457.3 L70 457 L71 457.8 L72 459.8 L73 461.1 L74 460.1 L75 457.3 L76 455.5 L77 456.1 L78 458 L79 459.2 L80 459.2 L81 459.1 L82 459.2 L83 458.6 L84 456.6 L85 454.8 L86 455.2 L87 457.5 L88 459.3 L89 458.6 L90 456.3 L91 454.5 L92 454.1 L93 454.2 L94 453.9 L95 453.8 L96 454.7 L97 455.7 L98 454.8 L99 451.8 L100 449.1 L101 448.7 L102 450.2 L103 451.5 L104 451.2 L105 450.1 L106 449.3 L107 448.5 L108 446.8 L109 444.9 L110 444.6 L111 446.3 L112 448.1 L113 447.3 L114 444.3 L115 441.2 L116 439.8 L117 439.6 L118 439.3 L119 438.7 L120 438.7 L121 440 L122 441 L123 440.1 L124 438.6 L125 439.8 L126 444.1 L127 448.9 L128 451.9 L129 453.2 L130 454.3 L131 455.9 L132 457.3 L133 458.3 L134 459.1 L135 461.8 L136 465.3 L137 467.2 L138 466.5 L139 465 L140 465.1 L141 467.1 L142 468.7 L143 469.3 L144 469.8 L145 470.7 L146 471.2 L147 470 L148 467.8 L149 466.9 L150 468.6 L151 471.4 L152 472.7 L153 471.8 L154 470.4 L155 469.7 L156 469.6 L157 469.2 L158 468.9 L159 470 L160 472.4 L161 474 L162 473.1 L163 470.8 L164 469.6 L165 470.7 L166 472.8 L167 474.1 L168 474.6 L169 475.1 L170 475.5 L171 474.9 L172 473.2 L173 471.9 L174 473.1 L175 475.9 L176 478 L177 477.6 L178 475.8 L179 474 L180 473 L181 472.3 L182 471.3 L183 471 L184 471.8 L185 471.4 L186 469 L187 464.6 L188 460.7 L189 459.2 L190 459.6 L191 458.7 L192 457.5 L193 456.3 L194 455.1 L195 453.9 L196 452.5 L197 450.7 L198 449 L199 447.2 L200 445.5 L201 443.1 L202 440.7 L203 438.2 L204 435.7 L205 433.2 L206 430.7 L207 428.2 L208 428.3 L209 429.1 L210 429.8 L211 433 L212 436.8 L213 440.5 L214 447.8 L215 455 L216 462.3 L217 469.1 L218 475.4 L219 481.9 L220 488.4 L221 492.3 L222 496.5 L223 500.7 L224 503.6 L225 505.2 L226 506.1 L227 506.4 L228 506.4 L229 505.6 L230 505.1 L231 504.9 L232 504.9 L233 505.2 L234 505.5 L235 505.9 L236 506.3" fill="none" stroke="#000" stroke-width="1.2" stroke-linejoin="round"/>
<path d="M33 457.5 C36.2 457.6 46.5 458.2 52.5 458.4 C58.5 458.5 63.8 458.5 68.9 458.4 C74 458.3 79.1 458.6 83.2 458 C87.3 457.4 90.1 456.4 93.5 455 C96.9 453.6 100.6 451.4 103.7 449.8 C106.8 448.2 109.7 447.2 111.9 445.7 C114.1 444.2 115.6 442 117 440.6 C118.4 439.2 119.2 437.4 120.5 437.5 C121.8 437.6 123.2 439.2 124.5 441.5 C125.8 443.8 127.1 447.9 128.5 451 C129.9 454.1 130.9 457.1 133 460 C135.1 462.9 138.3 467 141.2 468.7 C144.1 470.4 147.4 469.8 150.5 470.1 C153.6 470.4 156.6 470 159.7 470.6 C162.8 471.2 165.9 473.1 169 474 C172.1 474.9 175.8 476.3 178.3 475.7 C180.8 475.1 182.1 473.2 184 470.6 C185.9 468 187.9 463 189.8 460.1 C191.7 457.2 193.9 455.7 195.6 453.2 C197.3 450.7 198.6 448.4 200.2 445.1 C201.8 441.8 203.7 436.4 204.9 433.5 C206.1 430.6 206.3 428.3 207.2 427.7 C208.1 427.1 209.2 427.9 210.2 430 C211.2 432.1 211.9 434.5 213 440.5 C214.1 446.5 215.3 458.2 216.5 465.9 C217.7 473.6 218.8 481.6 219.9 486.8 C221.1 492 222.1 494.5 223.4 497.2 C224.8 499.9 225.8 501.4 228 503 C230.2 504.6 235.1 505.9 236.5 506.5" fill="none" stroke="#f00" stroke-width="1.35" stroke-linejoin="round" />
<line x1="52.5" y1="515" x2="52.5" y2="512.5" stroke="#111" stroke-width="1.1"/>
<line x1="84" y1="515" x2="84" y2="512.5" stroke="#111" stroke-width="1.1"/>
<line x1="116" y1="515" x2="116" y2="512.5" stroke="#111" stroke-width="1.1"/>
<line x1="148" y1="515" x2="148" y2="512.5" stroke="#111" stroke-width="1.1"/>
<line x1="180" y1="515" x2="180" y2="512.5" stroke="#111" stroke-width="1.1"/>
<line x1="211.5" y1="515" x2="211.5" y2="512.5" stroke="#111" stroke-width="1.1"/>
<line x1="36.5" y1="515" x2="36.5" y2="513.2" stroke="#111" stroke-width="1.0"/>
<line x1="68.3" y1="515" x2="68.3" y2="513.2" stroke="#111" stroke-width="1.0"/>
<line x1="100" y1="515" x2="100" y2="513.2" stroke="#111" stroke-width="1.0"/>
<line x1="132" y1="515" x2="132" y2="513.2" stroke="#111" stroke-width="1.0"/>
<line x1="164" y1="515" x2="164" y2="513.2" stroke="#111" stroke-width="1.0"/>
<line x1="195.8" y1="515" x2="195.8" y2="513.2" stroke="#111" stroke-width="1.0"/>
<line x1="227.5" y1="515" x2="227.5" y2="513.2" stroke="#111" stroke-width="1.0"/>
<rect x="271.6" y="279.5" width="203.8" height="234.5" fill="none" stroke="#111" stroke-width="1.5"/>
<line x1="271.6" y1="397" x2="475.4" y2="397" stroke="#111" stroke-width="1.5"/>
<path d="M277.5 390.7 L278 390.7 L278.5 390.7 L279 390.7 L279.5 390.7 L280 390.7 L280.5 390.7 L281 390.7 L281.5 390.7 L282 390.7 L282.5 390.7 L283 390.7 L283.5 390.6 L284 390.6 L284.5 390.6 L285 390.6 L285.5 390.6 L286 390.6 L286.5 390.6 L287 390.6 L287.5 390.5 L288 390.5 L288.5 390.5 L289 390.5 L289.5 390.4 L290 390.4 L290.5 390.4 L291 390.4 L291.5 390.3 L292 390.3 L292.5 390.2 L293 390.2 L293.5 390.1 L294 390 L294.5 390 L295 389.9 L295.5 389.8 L296 389.7 L296.5 389.6 L297 389.4 L297.5 389.3 L298 389.1 L298.5 389 L299 388.8 L299.5 388.5 L300 388.3 L300.5 388 L301 387.8 L301.5 387.4 L302 387.1 L302.5 386.7 L303 386.3 L303.5 385.9 L304 385.4 L304.5 384.9 L305 384.3 L305.5 383.7 L306 383.1 L306.5 382.4 L307 381.7 L307.5 380.9 L308 380.1 L308.5 379.2 L309 378.3 L309.5 377.4 L310 376.4 L310.5 375.3 L311 374.2 L311.5 373.1 L312 371.9 L312.5 370.7 L313 369.5 L313.5 368.2 L314 366.9 L314.5 365.6 L315 364.3 L315.5 363 L316 361.6 L316.5 360.3 L317 359 L317.5 357.7 L318 356.4 L318.5 355.1 L319 353.9 L319.5 352.8 L320 351.7 L320.5 350.6 L321 349.6 L321.5 348.7 L322 347.9 L322.5 347.2 L323 346.6 L323.5 346.1 L324 345.7 L324.5 345.4 L325 345.2 L325.5 345.1 L326 345.2 L326.5 345.4 L327 345.7 L327.5 346.1 L328 346.6 L328.5 347.2 L329 348 L329.5 348.8 L330 349.7 L330.5 350.7 L331 351.7 L331.5 352.8 L332 354 L332.5 355.2 L333 356.5 L333.5 357.8 L334 359.1 L334.5 360.4 L335 361.8 L335.5 363.1 L336 364.4 L336.5 365.8 L337 367.1 L337.5 368.4 L338 369.6 L338.5 370.9 L339 372.1 L339.5 373.3 L340 374.4 L340.5 375.5 L341 376.6 L341.5 377.6 L342 378.5 L342.5 379.5 L343 380.3 L343.5 381.2 L344 381.9 L344.5 382.7 L345 383.4 L345.5 384 L346 384.6 L346.5 385.2 L347 385.7 L347.5 386.2 L348 386.6 L348.5 387 L349 387.4 L349.5 387.8 L350 388.1 L350.5 388.4 L351 388.6 L351.5 388.9 L352 389.1 L352.5 389.3 L353 389.5 L353.5 389.6 L354 389.8 L354.5 389.9 L355 390.1 L355.5 390.2 L356 390.3 L356.5 390.4 L357 390.4 L357.5 390.5 L358 390.6 L358.5 390.6 L359 390.7 L359.5 390.7 L360 390.8 L360.5 390.8 L361 390.9 L361.5 390.9 L362 390.9 L362.5 391 L363 391 L363.5 391 L364 391 L364.5 391.1 L365 391.1 L365.5 391.1 L366 391.1 L366.5 391.1 L367 391.2 L367.5 391.2 L368 391.2 L368.5 391.2 L369 391.2 L369.5 391.2 L370 391.3 L370.5 391.3 L371 391.3 L371.5 391.3 L372 391.3 L372.5 391.3 L373 391.3 L373.5 391.3 L373.5 391.8 L277.5 391.1 Z" fill="url(#g25)" stroke="none"/>
<path d="M277.5 390.7 L278 390.7 L278.5 390.7 L279 390.7 L279.5 390.7 L280 390.7 L280.5 390.7 L281 390.7 L281.5 390.7 L282 390.7 L282.5 390.7 L283 390.7 L283.5 390.6 L284 390.6 L284.5 390.6 L285 390.6 L285.5 390.6 L286 390.6 L286.5 390.6 L287 390.6 L287.5 390.5 L288 390.5 L288.5 390.5 L289 390.5 L289.5 390.4 L290 390.4 L290.5 390.4 L291 390.4 L291.5 390.3 L292 390.3 L292.5 390.2 L293 390.2 L293.5 390.1 L294 390 L294.5 390 L295 389.9 L295.5 389.8 L296 389.7 L296.5 389.6 L297 389.4 L297.5 389.3 L298 389.1 L298.5 389 L299 388.8 L299.5 388.5 L300 388.3 L300.5 388 L301 387.8 L301.5 387.4 L302 387.1 L302.5 386.7 L303 386.3 L303.5 385.9 L304 385.4 L304.5 384.9 L305 384.3 L305.5 383.7 L306 383.1 L306.5 382.4 L307 381.7 L307.5 380.9 L308 380.1 L308.5 379.2 L309 378.3 L309.5 377.4 L310 376.4 L310.5 375.3 L311 374.2 L311.5 373.1 L312 371.9 L312.5 370.7 L313 369.5 L313.5 368.2 L314 366.9 L314.5 365.6 L315 364.3 L315.5 363 L316 361.6 L316.5 360.3 L317 359 L317.5 357.7 L318 356.4 L318.5 355.1 L319 353.9 L319.5 352.8 L320 351.7 L320.5 350.6 L321 349.6 L321.5 348.7 L322 347.9 L322.5 347.2 L323 346.6 L323.5 346.1 L324 345.7 L324.5 345.4 L325 345.2 L325.5 345.1 L326 345.2 L326.5 345.4 L327 345.7 L327.5 346.1 L328 346.6 L328.5 347.2 L329 348 L329.5 348.8 L330 349.7 L330.5 350.7 L331 351.7 L331.5 352.8 L332 354 L332.5 355.2 L333 356.5 L333.5 357.8 L334 359.1 L334.5 360.4 L335 361.8 L335.5 363.1 L336 364.4 L336.5 365.8 L337 367.1 L337.5 368.4 L338 369.6 L338.5 370.9 L339 372.1 L339.5 373.3 L340 374.4 L340.5 375.5 L341 376.6 L341.5 377.6 L342 378.5 L342.5 379.5 L343 380.3 L343.5 381.2 L344 381.9 L344.5 382.7 L345 383.4 L345.5 384 L346 384.6 L346.5 385.2 L347 385.7 L347.5 386.2 L348 386.6 L348.5 387 L349 387.4 L349.5 387.8 L350 388.1 L350.5 388.4 L351 388.6 L351.5 388.9 L352 389.1 L352.5 389.3 L353 389.5 L353.5 389.6 L354 389.8 L354.5 389.9 L355 390.1 L355.5 390.2 L356 390.3 L356.5 390.4 L357 390.4 L357.5 390.5 L358 390.6 L358.5 390.6 L359 390.7 L359.5 390.7 L360 390.8 L360.5 390.8 L361 390.9 L361.5 390.9 L362 390.9 L362.5 391 L363 391 L363.5 391 L364 391 L364.5 391.1 L365 391.1 L365.5 391.1 L366 391.1 L366.5 391.1 L367 391.2 L367.5 391.2 L368 391.2 L368.5 391.2 L369 391.2 L369.5 391.2 L370 391.3 L370.5 391.3 L371 391.3 L371.5 391.3 L372 391.3 L372.5 391.3 L373 391.3 L373.5 391.3" fill="none" stroke="#8080f0" stroke-width="1.1"/>
<path d="M285.3 387.7 L285.8 387.7 L286.3 387.7 L286.8 387.7 L287.3 387.7 L287.8 387.7 L288.3 387.6 L288.8 387.6 L289.3 387.6 L289.8 387.6 L290.3 387.6 L290.8 387.6 L291.3 387.5 L291.8 387.5 L292.3 387.5 L292.8 387.5 L293.3 387.5 L293.8 387.4 L294.3 387.4 L294.8 387.4 L295.3 387.4 L295.8 387.3 L296.3 387.3 L296.8 387.3 L297.3 387.3 L297.8 387.2 L298.3 387.2 L298.8 387.2 L299.3 387.1 L299.8 387.1 L300.3 387 L300.8 387 L301.3 387 L301.8 386.9 L302.3 386.9 L302.8 386.8 L303.3 386.8 L303.8 386.7 L304.3 386.6 L304.8 386.6 L305.3 386.5 L305.8 386.4 L306.3 386.3 L306.8 386.2 L307.3 386.1 L307.8 386 L308.3 385.9 L308.8 385.8 L309.3 385.6 L309.8 385.5 L310.3 385.3 L310.8 385.1 L311.3 384.9 L311.8 384.7 L312.3 384.5 L312.8 384.3 L313.3 384 L313.8 383.8 L314.3 383.5 L314.8 383.2 L315.3 382.8 L315.8 382.5 L316.3 382.1 L316.8 381.7 L317.3 381.2 L317.8 380.8 L318.3 380.3 L318.8 379.7 L319.3 379.2 L319.8 378.6 L320.3 377.9 L320.8 377.2 L321.3 376.5 L321.8 375.8 L322.3 375 L322.8 374.1 L323.3 373.2 L323.8 372.3 L324.3 371.3 L324.8 370.3 L325.3 369.2 L325.8 368.1 L326.3 367 L326.8 365.7 L327.3 364.5 L327.8 363.2 L328.3 361.8 L328.8 360.4 L329.3 359 L329.8 357.5 L330.3 356 L330.8 354.4 L331.3 352.8 L331.8 351.1 L332.3 349.5 L332.8 347.7 L333.3 346 L333.8 344.2 L334.3 342.5 L334.8 340.7 L335.3 338.8 L335.8 337 L336.3 335.2 L336.8 333.4 L337.3 331.5 L337.8 329.7 L338.3 327.9 L338.8 326.1 L339.3 324.4 L339.8 322.7 L340.3 321 L340.8 319.3 L341.3 317.8 L341.8 316.2 L342.3 314.8 L342.8 313.4 L343.3 312 L343.8 310.8 L344.3 309.6 L344.8 308.6 L345.3 307.6 L345.8 306.7 L346.3 306 L346.8 305.3 L347.3 304.8 L347.8 304.3 L348.3 304 L348.8 303.9 L349.3 303.8 L349.8 303.8 L350.3 304 L350.8 304.3 L351.3 304.7 L351.8 305.3 L352.3 305.9 L352.8 306.7 L353.3 307.5 L353.8 308.5 L354.3 309.6 L354.8 310.7 L355.3 311.9 L355.8 313.3 L356.3 314.7 L356.8 316.1 L357.3 317.6 L357.8 319.2 L358.3 320.8 L358.8 322.5 L359.3 324.2 L359.8 326 L360.3 327.7 L360.8 329.5 L361.3 331.3 L361.8 333.2 L362.3 335 L362.8 336.8 L363.3 338.6 L363.8 340.4 L364.3 342.2 L364.8 344 L365.3 345.8 L365.8 347.5 L366.3 349.2 L366.8 350.9 L367.3 352.5 L367.8 354.1 L368.3 355.7 L368.8 357.2 L369.3 358.7 L369.8 360.1 L370.3 361.5 L370.8 362.8 L371.3 364.1 L371.8 365.4 L372.3 366.6 L372.8 367.8 L373.3 368.9 L373.8 369.9 L374.3 370.9 L374.8 371.9 L375.3 372.8 L375.8 373.7 L376.3 374.5 L376.8 375.3 L377.3 376.1 L377.8 376.8 L378.3 377.5 L378.8 378.1 L379.3 378.7 L379.8 379.3 L380.3 379.8 L380.8 380.3 L381.3 380.7 L381.8 381.2 L382.3 381.6 L382.8 381.9 L383.3 382.3 L383.8 382.6 L384.3 382.9 L384.8 383.2 L385.3 383.5 L385.8 383.7 L386.3 383.9 L386.8 384.2 L387.3 384.4 L387.8 384.5 L388.3 384.7 L388.8 384.8 L389.3 385 L389.8 385.1 L390.3 385.2 L390.8 385.4 L391.3 385.5 L391.8 385.5 L392.3 385.6 L392.8 385.7 L393.3 385.8 L393.8 385.9 L394.3 385.9 L394.8 386 L395.3 386 L395.8 386.1 L396.3 386.1 L396.8 386.2 L397.3 386.2 L397.8 386.2 L398.3 386.3 L398.8 386.3 L399.3 386.3 L399.8 386.4 L400.3 386.4 L400.8 386.4 L401.3 386.4 L401.8 386.5 L402.3 386.5 L402.8 386.5 L403.3 386.5 L403.8 386.5 L404.3 386.5 L404.8 386.6 L405.3 386.6 L405.8 386.6 L406.3 386.6 L406.8 386.6 L407.3 386.6 L407.8 386.6 L408.3 386.7 L408.8 386.7 L409.3 386.7 L409.8 386.7 L410.3 386.7 L410.8 386.7 L411.3 386.7 L411.8 386.7 L412.3 386.7 L412.8 386.7 L413.3 386.7 L413.3 387.5 L285.3 388.5 Z" fill="url(#g26)" stroke="none"/>
<path d="M285.3 387.7 L285.8 387.7 L286.3 387.7 L286.8 387.7 L287.3 387.7 L287.8 387.7 L288.3 387.6 L288.8 387.6 L289.3 387.6 L289.8 387.6 L290.3 387.6 L290.8 387.6 L291.3 387.5 L291.8 387.5 L292.3 387.5 L292.8 387.5 L293.3 387.5 L293.8 387.4 L294.3 387.4 L294.8 387.4 L295.3 387.4 L295.8 387.3 L296.3 387.3 L296.8 387.3 L297.3 387.3 L297.8 387.2 L298.3 387.2 L298.8 387.2 L299.3 387.1 L299.8 387.1 L300.3 387 L300.8 387 L301.3 387 L301.8 386.9 L302.3 386.9 L302.8 386.8 L303.3 386.8 L303.8 386.7 L304.3 386.6 L304.8 386.6 L305.3 386.5 L305.8 386.4 L306.3 386.3 L306.8 386.2 L307.3 386.1 L307.8 386 L308.3 385.9 L308.8 385.8 L309.3 385.6 L309.8 385.5 L310.3 385.3 L310.8 385.1 L311.3 384.9 L311.8 384.7 L312.3 384.5 L312.8 384.3 L313.3 384 L313.8 383.8 L314.3 383.5 L314.8 383.2 L315.3 382.8 L315.8 382.5 L316.3 382.1 L316.8 381.7 L317.3 381.2 L317.8 380.8 L318.3 380.3 L318.8 379.7 L319.3 379.2 L319.8 378.6 L320.3 377.9 L320.8 377.2 L321.3 376.5 L321.8 375.8 L322.3 375 L322.8 374.1 L323.3 373.2 L323.8 372.3 L324.3 371.3 L324.8 370.3 L325.3 369.2 L325.8 368.1 L326.3 367 L326.8 365.7 L327.3 364.5 L327.8 363.2 L328.3 361.8 L328.8 360.4 L329.3 359 L329.8 357.5 L330.3 356 L330.8 354.4 L331.3 352.8 L331.8 351.1 L332.3 349.5 L332.8 347.7 L333.3 346 L333.8 344.2 L334.3 342.5 L334.8 340.7 L335.3 338.8 L335.8 337 L336.3 335.2 L336.8 333.4 L337.3 331.5 L337.8 329.7 L338.3 327.9 L338.8 326.1 L339.3 324.4 L339.8 322.7 L340.3 321 L340.8 319.3 L341.3 317.8 L341.8 316.2 L342.3 314.8 L342.8 313.4 L343.3 312 L343.8 310.8 L344.3 309.6 L344.8 308.6 L345.3 307.6 L345.8 306.7 L346.3 306 L346.8 305.3 L347.3 304.8 L347.8 304.3 L348.3 304 L348.8 303.9 L349.3 303.8 L349.8 303.8 L350.3 304 L350.8 304.3 L351.3 304.7 L351.8 305.3 L352.3 305.9 L352.8 306.7 L353.3 307.5 L353.8 308.5 L354.3 309.6 L354.8 310.7 L355.3 311.9 L355.8 313.3 L356.3 314.7 L356.8 316.1 L357.3 317.6 L357.8 319.2 L358.3 320.8 L358.8 322.5 L359.3 324.2 L359.8 326 L360.3 327.7 L360.8 329.5 L361.3 331.3 L361.8 333.2 L362.3 335 L362.8 336.8 L363.3 338.6 L363.8 340.4 L364.3 342.2 L364.8 344 L365.3 345.8 L365.8 347.5 L366.3 349.2 L366.8 350.9 L367.3 352.5 L367.8 354.1 L368.3 355.7 L368.8 357.2 L369.3 358.7 L369.8 360.1 L370.3 361.5 L370.8 362.8 L371.3 364.1 L371.8 365.4 L372.3 366.6 L372.8 367.8 L373.3 368.9 L373.8 369.9 L374.3 370.9 L374.8 371.9 L375.3 372.8 L375.8 373.7 L376.3 374.5 L376.8 375.3 L377.3 376.1 L377.8 376.8 L378.3 377.5 L378.8 378.1 L379.3 378.7 L379.8 379.3 L380.3 379.8 L380.8 380.3 L381.3 380.7 L381.8 381.2 L382.3 381.6 L382.8 381.9 L383.3 382.3 L383.8 382.6 L384.3 382.9 L384.8 383.2 L385.3 383.5 L385.8 383.7 L386.3 383.9 L386.8 384.2 L387.3 384.4 L387.8 384.5 L388.3 384.7 L388.8 384.8 L389.3 385 L389.8 385.1 L390.3 385.2 L390.8 385.4 L391.3 385.5 L391.8 385.5 L392.3 385.6 L392.8 385.7 L393.3 385.8 L393.8 385.9 L394.3 385.9 L394.8 386 L395.3 386 L395.8 386.1 L396.3 386.1 L396.8 386.2 L397.3 386.2 L397.8 386.2 L398.3 386.3 L398.8 386.3 L399.3 386.3 L399.8 386.4 L400.3 386.4 L400.8 386.4 L401.3 386.4 L401.8 386.5 L402.3 386.5 L402.8 386.5 L403.3 386.5 L403.8 386.5 L404.3 386.5 L404.8 386.6 L405.3 386.6 L405.8 386.6 L406.3 386.6 L406.8 386.6 L407.3 386.6 L407.8 386.6 L408.3 386.7 L408.8 386.7 L409.3 386.7 L409.8 386.7 L410.3 386.7 L410.8 386.7 L411.3 386.7 L411.8 386.7 L412.3 386.7 L412.8 386.7 L413.3 386.7" fill="none" stroke="#f8b0a0" stroke-width="1.0"/>
<path d="M392 391.6 L392.5 391.6 L393 391.6 L393.5 391.6 L394 391.6 L394.5 391.6 L395 391.6 L395.5 391.6 L396 391.6 L396.5 391.6 L397 391.6 L397.5 391.5 L398 391.5 L398.5 391.5 L399 391.5 L399.5 391.5 L400 391.5 L400.5 391.5 L401 391.4 L401.5 391.4 L402 391.4 L402.5 391.3 L403 391.3 L403.5 391.3 L404 391.2 L404.5 391.2 L405 391.1 L405.5 391.1 L406 391 L406.5 390.9 L407 390.8 L407.5 390.7 L408 390.6 L408.5 390.5 L409 390.4 L409.5 390.2 L410 390.1 L410.5 389.9 L411 389.8 L411.5 389.6 L412 389.4 L412.5 389.1 L413 388.9 L413.5 388.7 L414 388.4 L414.5 388.1 L415 387.8 L415.5 387.5 L416 387.2 L416.5 386.9 L417 386.5 L417.5 386.2 L418 385.8 L418.5 385.5 L419 385.1 L419.5 384.7 L420 384.4 L420.5 384 L421 383.6 L421.5 383.3 L422 382.9 L422.5 382.6 L423 382.3 L423.5 382.1 L424 381.8 L424.5 381.6 L425 381.4 L425.5 381.3 L426 381.2 L426.5 381.1 L427 381.1 L427.5 381.1 L428 381.1 L428.5 381.2 L429 381.3 L429.5 381.4 L430 381.5 L430.5 381.6 L431 381.8 L431.5 382 L432 382.2 L432.5 382.4 L433 382.6 L433.5 382.8 L434 383 L434.5 383.3 L435 383.5 L435.5 383.8 L436 384 L436.5 384.3 L437 384.6 L437.5 384.8 L438 385.1 L438.5 385.4 L439 385.6 L439.5 385.9 L440 386.2 L440.5 386.4 L441 386.7 L441.5 386.9 L442 387.2 L442.5 387.4 L443 387.7 L443.5 387.9 L444 388.1 L444.5 388.3 L445 388.5 L445.5 388.7 L446 388.9 L446.5 389.1 L447 389.3 L447.5 389.4 L448 389.6 L448.5 389.7 L449 389.9 L449.5 390 L450 390.2 L450.5 390.3 L451 390.4 L451.5 390.5 L452 390.6 L452.5 390.7 L453 390.8 L453.5 390.9 L454 391 L454.5 391.1 L455 391.1 L455.5 391.2 L456 391.3 L456.5 391.3 L457 391.4 L457.5 391.4 L458 391.5 L458.5 391.5 L459 391.6 L459.5 391.6 L460 391.6 L460.5 391.7 L461 391.7 L461.5 391.7 L462 391.8 L462.5 391.8 L463 391.8 L463.5 391.8 L464 391.9 L464.5 391.9 L465 391.9 L465.5 391.9 L466 391.9 L466.5 391.9 L467 392 L467.5 392 L468 392 L468.5 392 L469 392 L469.5 392 L470 392 L470.5 392.1 L471 392.1 L471.5 392.1 L472 392.1 L472.5 392.1 L473 392.1 L473.5 392.1 L474 392.1 L474.5 392.1 L475 392.1 L475.4 392.4 L392 391.9 Z" fill="url(#g27)" stroke="none"/>
<path d="M392 391.6 L392.5 391.6 L393 391.6 L393.5 391.6 L394 391.6 L394.5 391.6 L395 391.6 L395.5 391.6 L396 391.6 L396.5 391.6 L397 391.6 L397.5 391.5 L398 391.5 L398.5 391.5 L399 391.5 L399.5 391.5 L400 391.5 L400.5 391.5 L401 391.4 L401.5 391.4 L402 391.4 L402.5 391.3 L403 391.3 L403.5 391.3 L404 391.2 L404.5 391.2 L405 391.1 L405.5 391.1 L406 391 L406.5 390.9 L407 390.8 L407.5 390.7 L408 390.6 L408.5 390.5 L409 390.4 L409.5 390.2 L410 390.1 L410.5 389.9 L411 389.8 L411.5 389.6 L412 389.4 L412.5 389.1 L413 388.9 L413.5 388.7 L414 388.4 L414.5 388.1 L415 387.8 L415.5 387.5 L416 387.2 L416.5 386.9 L417 386.5 L417.5 386.2 L418 385.8 L418.5 385.5 L419 385.1 L419.5 384.7 L420 384.4 L420.5 384 L421 383.6 L421.5 383.3 L422 382.9 L422.5 382.6 L423 382.3 L423.5 382.1 L424 381.8 L424.5 381.6 L425 381.4 L425.5 381.3 L426 381.2 L426.5 381.1 L427 381.1 L427.5 381.1 L428 381.1 L428.5 381.2 L429 381.3 L429.5 381.4 L430 381.5 L430.5 381.6 L431 381.8 L431.5 382 L432 382.2 L432.5 382.4 L433 382.6 L433.5 382.8 L434 383 L434.5 383.3 L435 383.5 L435.5 383.8 L436 384 L436.5 384.3 L437 384.6 L437.5 384.8 L438 385.1 L438.5 385.4 L439 385.6 L439.5 385.9 L440 386.2 L440.5 386.4 L441 386.7 L441.5 386.9 L442 387.2 L442.5 387.4 L443 387.7 L443.5 387.9 L444 388.1 L444.5 388.3 L445 388.5 L445.5 388.7 L446 388.9 L446.5 389.1 L447 389.3 L447.5 389.4 L448 389.6 L448.5 389.7 L449 389.9 L449.5 390 L450 390.2 L450.5 390.3 L451 390.4 L451.5 390.5 L452 390.6 L452.5 390.7 L453 390.8 L453.5 390.9 L454 391 L454.5 391.1 L455 391.1 L455.5 391.2 L456 391.3 L456.5 391.3 L457 391.4 L457.5 391.4 L458 391.5 L458.5 391.5 L459 391.6 L459.5 391.6 L460 391.6 L460.5 391.7 L461 391.7 L461.5 391.7 L462 391.8 L462.5 391.8 L463 391.8 L463.5 391.8 L464 391.9 L464.5 391.9 L465 391.9 L465.5 391.9 L466 391.9 L466.5 391.9 L467 392 L467.5 392 L468 392 L468.5 392 L469 392 L469.5 392 L470 392 L470.5 392.1 L471 392.1 L471.5 392.1 L472 392.1 L472.5 392.1 L473 392.1 L473.5 392.1 L474 392.1 L474.5 392.1 L475 392.1" fill="none" stroke="#f060f0" stroke-width="1.2"/>
<path d="M425.6 386.4 L426.1 386.3 L426.6 386.2 L427.1 386.2 L427.6 386.1 L428.1 386 L428.6 385.9 L429.1 385.7 L429.6 385.6 L430.1 385.5 L430.6 385.3 L431.1 385.1 L431.6 385 L432.1 384.8 L432.6 384.5 L433.1 384.3 L433.6 384.1 L434.1 383.8 L434.6 383.5 L435.1 383.2 L435.6 382.9 L436.1 382.6 L436.6 382.2 L437.1 381.9 L437.6 381.5 L438.1 381.1 L438.6 380.7 L439.1 380.2 L439.6 379.8 L440.1 379.4 L440.6 378.9 L441.1 378.4 L441.6 378 L442.1 377.5 L442.6 377.1 L443.1 376.6 L443.6 376.2 L444.1 375.7 L444.6 375.3 L445.1 374.9 L445.6 374.5 L446.1 374.1 L446.6 373.8 L447.1 373.5 L447.6 373.2 L448.1 373 L448.6 372.8 L449.1 372.6 L449.6 372.5 L450.1 372.4 L450.6 372.4 L451.1 372.4 L451.6 372.5 L452.1 372.5 L452.6 372.7 L453.1 372.8 L453.6 373 L454.1 373.2 L454.6 373.4 L455.1 373.7 L455.6 373.9 L456.1 374.2 L456.6 374.5 L457.1 374.9 L457.6 375.2 L458.1 375.6 L458.6 375.9 L459.1 376.3 L459.6 376.7 L460.1 377.1 L460.6 377.5 L461.1 377.9 L461.6 378.3 L462.1 378.7 L462.6 379 L463.1 379.4 L463.6 379.8 L464.1 380.2 L464.6 380.5 L465.1 380.9 L465.6 381.2 L466.1 381.6 L466.6 381.9 L467.1 382.2 L467.6 382.5 L468.1 382.8 L468.6 383.1 L469.1 383.3 L469.6 383.6 L470.1 383.8 L470.6 384 L471.1 384.2 L471.6 384.4 L472.1 384.6 L472.6 384.8 L473.1 385 L473.6 385.1 L474.1 385.3 L474.6 385.4 L475.1 385.5 L475.4 387.2 L425.6 387.2 Z" fill="url(#g28)" stroke="none"/>
<path d="M425.6 386.4 L426.1 386.3 L426.6 386.2 L427.1 386.2 L427.6 386.1 L428.1 386 L428.6 385.9 L429.1 385.7 L429.6 385.6 L430.1 385.5 L430.6 385.3 L431.1 385.1 L431.6 385 L432.1 384.8 L432.6 384.5 L433.1 384.3 L433.6 384.1 L434.1 383.8 L434.6 383.5 L435.1 383.2 L435.6 382.9 L436.1 382.6 L436.6 382.2 L437.1 381.9 L437.6 381.5 L438.1 381.1 L438.6 380.7 L439.1 380.2 L439.6 379.8 L440.1 379.4 L440.6 378.9 L441.1 378.4 L441.6 378 L442.1 377.5 L442.6 377.1 L443.1 376.6 L443.6 376.2 L444.1 375.7 L444.6 375.3 L445.1 374.9 L445.6 374.5 L446.1 374.1 L446.6 373.8 L447.1 373.5 L447.6 373.2 L448.1 373 L448.6 372.8 L449.1 372.6 L449.6 372.5 L450.1 372.4 L450.6 372.4 L451.1 372.4 L451.6 372.5 L452.1 372.5 L452.6 372.7 L453.1 372.8 L453.6 373 L454.1 373.2 L454.6 373.4 L455.1 373.7 L455.6 373.9 L456.1 374.2 L456.6 374.5 L457.1 374.9 L457.6 375.2 L458.1 375.6 L458.6 375.9 L459.1 376.3 L459.6 376.7 L460.1 377.1 L460.6 377.5 L461.1 377.9 L461.6 378.3 L462.1 378.7 L462.6 379 L463.1 379.4 L463.6 379.8 L464.1 380.2 L464.6 380.5 L465.1 380.9 L465.6 381.2 L466.1 381.6 L466.6 381.9 L467.1 382.2 L467.6 382.5 L468.1 382.8 L468.6 383.1 L469.1 383.3 L469.6 383.6 L470.1 383.8 L470.6 384 L471.1 384.2 L471.6 384.4 L472.1 384.6 L472.6 384.8 L473.1 385 L473.6 385.1 L474.1 385.3 L474.6 385.4 L475.1 385.5" fill="none" stroke="#10d0c0" stroke-width="1.3"/>
<line x1="271.6" y1="388.6" x2="475.4" y2="387" stroke="#f8b0a0" stroke-width="1.0"/>
<line x1="425" y1="387.2" x2="475.4" y2="387.2" stroke="#10d0c0" stroke-width="1.2"/>
<line x1="271.6" y1="391.1" x2="475.4" y2="392.4" stroke="#a080f0" stroke-width="1.6"/>
<path d="M271 390.2 C273.1 390 279.8 389.6 283.3 388.8 C286.8 388 289.2 387.1 292 385.6 C294.8 384.1 297.6 382.3 300 379.8 C302.4 377.3 304.5 374.1 306.5 370.8 C308.5 367.5 309.9 365.5 311.9 360.2 C313.9 354.9 316.6 345 318.8 339 C320.9 333 322.9 328.5 325 324.2 C327.1 319.9 329.2 316.7 331.2 313.2 C333.2 309.7 334.9 306 337 303.2 C339.1 300.4 342.2 297.6 344 296.3 C345.8 295 346.3 294.9 347.8 295.5 C349.3 296.1 351.2 296.9 353 299.8 C354.8 302.7 356.9 308.1 358.5 312.8 C360.1 317.5 361.2 322.9 362.5 328 C363.8 333.1 364.8 338.3 366 343.5 C367.2 348.7 368.3 354.2 369.5 359 C370.7 363.8 371.6 368.6 373 372.5 C374.4 376.4 375.8 380.2 378 382.5 C380.2 384.8 383.4 385.7 386.4 386.4 C389.4 387.1 392.8 387.1 396 386.9 C399.2 386.7 402.4 386.2 405.6 385 C408.8 383.8 411.9 381.3 415.1 379.5 C418.3 377.7 421.5 375.5 424.7 374 C427.9 372.5 431.1 371.6 434.3 370.5 C437.5 369.4 441.3 368 443.9 367.6 C446.5 367.2 447.9 367.4 449.9 368 C451.9 368.6 453.7 370 455.9 371.5 C458.1 373 460 374.9 463.1 377 C466.2 379.1 472.6 382.8 474.5 384" fill="none" stroke="#000" stroke-width="1.1" stroke-linejoin="round" />
<path d="M271 389.9 C273.1 389.7 279.8 389.2 283.3 388.5 C286.8 387.8 289.2 386.8 292 385.4 C294.8 384 297.6 382.3 300 380 C302.4 377.7 304.5 374.7 306.5 371.5 C308.5 368.3 309.9 366.2 311.9 361 C313.9 355.8 316.6 346 318.8 340 C320.9 334 322.9 329.4 325 325 C327.1 320.6 329.2 317.3 331.2 313.8 C333.2 310.2 334.9 306.4 337 303.5 C339.1 300.6 342.2 297.7 344 296.3 C345.8 294.9 346.3 294.7 347.8 295.2 C349.3 295.7 351.2 296.5 353 299.3 C354.8 302.1 356.9 307.4 358.5 312 C360.1 316.6 361.2 321.9 362.5 327 C363.8 332.1 364.8 337.3 366 342.5 C367.2 347.7 368.3 353.1 369.5 358 C370.7 362.9 371.6 368 373 372 C374.4 376 375.8 379.7 378 382.1 C380.2 384.5 383.4 385.4 386.4 386.2 C389.4 387 392.8 387 396 386.9 C399.2 386.8 402.4 386.7 405.6 385.7 C408.8 384.7 411.9 382.5 415.1 380.9 C418.3 379.3 421.5 377.5 424.7 376.1 C427.9 374.7 431.1 373.6 434.3 372.5 C437.5 371.4 441.3 369.9 443.9 369.4 C446.5 368.9 447.9 368.9 449.9 369.4 C451.9 369.9 453.7 371.2 455.9 372.5 C458.1 373.8 460 375.4 463.1 377.3 C466.2 379.2 472.6 382.9 474.5 384" fill="none" stroke="#f00" stroke-width="1.5" stroke-linejoin="round" />
<path d="M275.9 507.1 L276.4 507.1 L276.9 507.1 L277.4 507.1 L277.9 507.1 L278.4 507.1 L278.9 507.1 L279.4 507.1 L279.9 507.1 L280.4 507.1 L280.9 507.1 L281.4 507.1 L281.9 507.1 L282.4 507.1 L282.9 507 L283.4 507 L283.9 507 L284.4 507 L284.9 507 L285.4 507 L285.9 507 L286.4 507 L286.9 507 L287.4 506.9 L287.9 506.9 L288.4 506.9 L288.9 506.9 L289.4 506.8 L289.9 506.8 L290.4 506.8 L290.9 506.7 L291.4 506.7 L291.9 506.7 L292.4 506.6 L292.9 506.6 L293.4 506.5 L293.9 506.4 L294.4 506.3 L294.9 506.2 L295.4 506.1 L295.9 506 L296.4 505.9 L296.9 505.8 L297.4 505.6 L297.9 505.5 L298.4 505.3 L298.9 505.1 L299.4 504.8 L299.9 504.6 L300.4 504.3 L300.9 504 L301.4 503.7 L301.9 503.4 L302.4 503 L302.9 502.6 L303.4 502.2 L303.9 501.7 L304.4 501.2 L304.9 500.7 L305.4 500.1 L305.9 499.5 L306.4 498.9 L306.9 498.2 L307.4 497.5 L307.9 496.7 L308.4 496 L308.9 495.1 L309.4 494.3 L309.9 493.4 L310.4 492.5 L310.9 491.6 L311.4 490.6 L311.9 489.6 L312.4 488.6 L312.9 487.6 L313.4 486.5 L313.9 485.5 L314.4 484.5 L314.9 483.4 L315.4 482.4 L315.9 481.4 L316.4 480.4 L316.9 479.4 L317.4 478.4 L317.9 477.5 L318.4 476.7 L318.9 475.8 L319.4 475.1 L319.9 474.4 L320.4 473.8 L320.9 473.2 L321.4 472.7 L321.9 472.3 L322.4 472 L322.9 471.8 L323.4 471.6 L323.9 471.6 L324.4 471.6 L324.9 471.8 L325.4 472 L325.9 472.3 L326.4 472.7 L326.9 473.2 L327.4 473.8 L327.9 474.4 L328.4 475.1 L328.9 475.9 L329.4 476.7 L329.9 477.6 L330.4 478.5 L330.9 479.5 L331.4 480.5 L331.9 481.5 L332.4 482.5 L332.9 483.5 L333.4 484.6 L333.9 485.6 L334.4 486.7 L334.9 487.7 L335.4 488.8 L335.9 489.8 L336.4 490.8 L336.9 491.7 L337.4 492.7 L337.9 493.6 L338.4 494.5 L338.9 495.4 L339.4 496.2 L339.9 497 L340.4 497.7 L340.9 498.5 L341.4 499.1 L341.9 499.8 L342.4 500.4 L342.9 501 L343.4 501.5 L343.9 502 L344.4 502.5 L344.9 502.9 L345.4 503.3 L345.9 503.7 L346.4 504.1 L346.9 504.4 L347.4 504.7 L347.9 505 L348.4 505.2 L348.9 505.4 L349.4 505.6 L349.9 505.8 L350.4 506 L350.9 506.2 L351.4 506.3 L351.9 506.4 L352.4 506.6 L352.9 506.7 L353.4 506.8 L353.9 506.9 L354.4 506.9 L354.9 507 L355.4 507.1 L355.9 507.1 L356.4 507.2 L356.9 507.2 L357.4 507.3 L357.9 507.3 L358.4 507.4 L358.9 507.4 L359.4 507.4 L359.9 507.5 L360.4 507.5 L360.9 507.5 L361.4 507.5 L361.9 507.5 L362.4 507.6 L362.9 507.6 L363.4 507.6 L363.9 507.6 L364.4 507.6 L364.9 507.7 L365.4 507.7 L365.9 507.7 L366.4 507.7 L366.9 507.7 L367.4 507.7 L367.9 507.7 L368.4 507.7 L368.9 507.8 L369.4 507.8 L369.9 507.8 L370.4 507.8 L370.9 507.8 L371.4 507.8 L371.9 507.8 L371.9 508.1 L275.9 507.4 Z" fill="url(#g29)" stroke="none"/>
<path d="M275.9 507.1 L276.4 507.1 L276.9 507.1 L277.4 507.1 L277.9 507.1 L278.4 507.1 L278.9 507.1 L279.4 507.1 L279.9 507.1 L280.4 507.1 L280.9 507.1 L281.4 507.1 L281.9 507.1 L282.4 507.1 L282.9 507 L283.4 507 L283.9 507 L284.4 507 L284.9 507 L285.4 507 L285.9 507 L286.4 507 L286.9 507 L287.4 506.9 L287.9 506.9 L288.4 506.9 L288.9 506.9 L289.4 506.8 L289.9 506.8 L290.4 506.8 L290.9 506.7 L291.4 506.7 L291.9 506.7 L292.4 506.6 L292.9 506.6 L293.4 506.5 L293.9 506.4 L294.4 506.3 L294.9 506.2 L295.4 506.1 L295.9 506 L296.4 505.9 L296.9 505.8 L297.4 505.6 L297.9 505.5 L298.4 505.3 L298.9 505.1 L299.4 504.8 L299.9 504.6 L300.4 504.3 L300.9 504 L301.4 503.7 L301.9 503.4 L302.4 503 L302.9 502.6 L303.4 502.2 L303.9 501.7 L304.4 501.2 L304.9 500.7 L305.4 500.1 L305.9 499.5 L306.4 498.9 L306.9 498.2 L307.4 497.5 L307.9 496.7 L308.4 496 L308.9 495.1 L309.4 494.3 L309.9 493.4 L310.4 492.5 L310.9 491.6 L311.4 490.6 L311.9 489.6 L312.4 488.6 L312.9 487.6 L313.4 486.5 L313.9 485.5 L314.4 484.5 L314.9 483.4 L315.4 482.4 L315.9 481.4 L316.4 480.4 L316.9 479.4 L317.4 478.4 L317.9 477.5 L318.4 476.7 L318.9 475.8 L319.4 475.1 L319.9 474.4 L320.4 473.8 L320.9 473.2 L321.4 472.7 L321.9 472.3 L322.4 472 L322.9 471.8 L323.4 471.6 L323.9 471.6 L324.4 471.6 L324.9 471.8 L325.4 472 L325.9 472.3 L326.4 472.7 L326.9 473.2 L327.4 473.8 L327.9 474.4 L328.4 475.1 L328.9 475.9 L329.4 476.7 L329.9 477.6 L330.4 478.5 L330.9 479.5 L331.4 480.5 L331.9 481.5 L332.4 482.5 L332.9 483.5 L333.4 484.6 L333.9 485.6 L334.4 486.7 L334.9 487.7 L335.4 488.8 L335.9 489.8 L336.4 490.8 L336.9 491.7 L337.4 492.7 L337.9 493.6 L338.4 494.5 L338.9 495.4 L339.4 496.2 L339.9 497 L340.4 497.7 L340.9 498.5 L341.4 499.1 L341.9 499.8 L342.4 500.4 L342.9 501 L343.4 501.5 L343.9 502 L344.4 502.5 L344.9 502.9 L345.4 503.3 L345.9 503.7 L346.4 504.1 L346.9 504.4 L347.4 504.7 L347.9 505 L348.4 505.2 L348.9 505.4 L349.4 505.6 L349.9 505.8 L350.4 506 L350.9 506.2 L351.4 506.3 L351.9 506.4 L352.4 506.6 L352.9 506.7 L353.4 506.8 L353.9 506.9 L354.4 506.9 L354.9 507 L355.4 507.1 L355.9 507.1 L356.4 507.2 L356.9 507.2 L357.4 507.3 L357.9 507.3 L358.4 507.4 L358.9 507.4 L359.4 507.4 L359.9 507.5 L360.4 507.5 L360.9 507.5 L361.4 507.5 L361.9 507.5 L362.4 507.6 L362.9 507.6 L363.4 507.6 L363.9 507.6 L364.4 507.6 L364.9 507.7 L365.4 507.7 L365.9 507.7 L366.4 507.7 L366.9 507.7 L367.4 507.7 L367.9 507.7 L368.4 507.7 L368.9 507.8 L369.4 507.8 L369.9 507.8 L370.4 507.8 L370.9 507.8 L371.4 507.8 L371.9 507.8" fill="none" stroke="#8080f0" stroke-width="1.1"/>
<path d="M287.6 506.9 L288.1 506.8 L288.6 506.8 L289.1 506.8 L289.6 506.8 L290.1 506.8 L290.6 506.8 L291.1 506.8 L291.6 506.8 L292.1 506.8 L292.6 506.8 L293.1 506.8 L293.6 506.7 L294.1 506.7 L294.6 506.7 L295.1 506.7 L295.6 506.7 L296.1 506.7 L296.6 506.7 L297.1 506.6 L297.6 506.6 L298.1 506.6 L298.6 506.6 L299.1 506.6 L299.6 506.5 L300.1 506.5 L300.6 506.5 L301.1 506.5 L301.6 506.4 L302.1 506.4 L302.6 506.4 L303.1 506.3 L303.6 506.3 L304.1 506.2 L304.6 506.2 L305.1 506.1 L305.6 506.1 L306.1 506 L306.6 505.9 L307.1 505.8 L307.6 505.8 L308.1 505.7 L308.6 505.6 L309.1 505.4 L309.6 505.3 L310.1 505.2 L310.6 505 L311.1 504.9 L311.6 504.7 L312.1 504.5 L312.6 504.3 L313.1 504.1 L313.6 503.9 L314.1 503.6 L314.6 503.3 L315.1 503 L315.6 502.7 L316.1 502.3 L316.6 501.9 L317.1 501.5 L317.6 501.1 L318.1 500.6 L318.6 500.1 L319.1 499.5 L319.6 499 L320.1 498.3 L320.6 497.7 L321.1 497 L321.6 496.2 L322.1 495.4 L322.6 494.6 L323.1 493.7 L323.6 492.8 L324.1 491.8 L324.6 490.8 L325.1 489.7 L325.6 488.5 L326.1 487.4 L326.6 486.1 L327.1 484.8 L327.6 483.5 L328.1 482.1 L328.6 480.7 L329.1 479.2 L329.6 477.7 L330.1 476.2 L330.6 474.6 L331.1 473 L331.6 471.3 L332.1 469.6 L332.6 467.9 L333.1 466.2 L333.6 464.4 L334.1 462.6 L334.6 460.9 L335.1 459.1 L335.6 457.3 L336.1 455.6 L336.6 453.8 L337.1 452.1 L337.6 450.4 L338.1 448.7 L338.6 447.1 L339.1 445.5 L339.6 444 L340.1 442.6 L340.6 441.2 L341.1 439.9 L341.6 438.7 L342.1 437.5 L342.6 436.5 L343.1 435.5 L343.6 434.7 L344.1 434 L344.6 433.4 L345.1 432.9 L345.6 432.5 L346.1 432.3 L346.6 432.2 L347.1 432.2 L347.6 432.3 L348.1 432.6 L348.6 433 L349.1 433.5 L349.6 434.1 L350.1 434.9 L350.6 435.8 L351.1 436.7 L351.6 437.8 L352.1 439 L352.6 440.2 L353.1 441.6 L353.6 443 L354.1 444.4 L354.6 446 L355.1 447.6 L355.6 449.2 L356.1 450.9 L356.6 452.6 L357.1 454.3 L357.6 456.1 L358.1 457.8 L358.6 459.6 L359.1 461.4 L359.6 463.2 L360.1 465 L360.6 466.7 L361.1 468.4 L361.6 470.2 L362.1 471.9 L362.6 473.5 L363.1 475.1 L363.6 476.7 L364.1 478.3 L364.6 479.8 L365.1 481.3 L365.6 482.7 L366.1 484.1 L366.6 485.4 L367.1 486.7 L367.6 487.9 L368.1 489.1 L368.6 490.2 L369.1 491.3 L369.6 492.3 L370.1 493.3 L370.6 494.2 L371.1 495.1 L371.6 496 L372.1 496.7 L372.6 497.5 L373.1 498.2 L373.6 498.9 L374.1 499.5 L374.6 500.1 L375.1 500.6 L375.6 501.1 L376.1 501.6 L376.6 502 L377.1 502.5 L377.6 502.8 L378.1 503.2 L378.6 503.5 L379.1 503.8 L379.6 504.1 L380.1 504.4 L380.6 504.6 L381.1 504.9 L381.6 505.1 L382.1 505.3 L382.6 505.4 L383.1 505.6 L383.6 505.8 L384.1 505.9 L384.6 506 L385.1 506.1 L385.6 506.2 L386.1 506.3 L386.6 506.4 L387.1 506.5 L387.6 506.6 L388.1 506.7 L388.6 506.7 L389.1 506.8 L389.6 506.9 L390.1 506.9 L390.6 507 L391.1 507 L391.6 507.1 L392.1 507.1 L392.6 507.1 L393.1 507.2 L393.6 507.2 L394.1 507.2 L394.6 507.3 L395.1 507.3 L395.6 507.3 L396.1 507.4 L396.6 507.4 L397.1 507.4 L397.6 507.4 L398.1 507.4 L398.6 507.5 L399.1 507.5 L399.6 507.5 L400.1 507.5 L400.6 507.5 L401.1 507.6 L401.6 507.6 L402.1 507.6 L402.6 507.6 L403.1 507.6 L403.6 507.6 L404.1 507.7 L404.6 507.7 L405.1 507.7 L405.6 507.7 L406 508.4 L287.6 507.5 Z" fill="url(#g30)" stroke="none"/>
<path d="M287.6 506.9 L288.1 506.8 L288.6 506.8 L289.1 506.8 L289.6 506.8 L290.1 506.8 L290.6 506.8 L291.1 506.8 L291.6 506.8 L292.1 506.8 L292.6 506.8 L293.1 506.8 L293.6 506.7 L294.1 506.7 L294.6 506.7 L295.1 506.7 L295.6 506.7 L296.1 506.7 L296.6 506.7 L297.1 506.6 L297.6 506.6 L298.1 506.6 L298.6 506.6 L299.1 506.6 L299.6 506.5 L300.1 506.5 L300.6 506.5 L301.1 506.5 L301.6 506.4 L302.1 506.4 L302.6 506.4 L303.1 506.3 L303.6 506.3 L304.1 506.2 L304.6 506.2 L305.1 506.1 L305.6 506.1 L306.1 506 L306.6 505.9 L307.1 505.8 L307.6 505.8 L308.1 505.7 L308.6 505.6 L309.1 505.4 L309.6 505.3 L310.1 505.2 L310.6 505 L311.1 504.9 L311.6 504.7 L312.1 504.5 L312.6 504.3 L313.1 504.1 L313.6 503.9 L314.1 503.6 L314.6 503.3 L315.1 503 L315.6 502.7 L316.1 502.3 L316.6 501.9 L317.1 501.5 L317.6 501.1 L318.1 500.6 L318.6 500.1 L319.1 499.5 L319.6 499 L320.1 498.3 L320.6 497.7 L321.1 497 L321.6 496.2 L322.1 495.4 L322.6 494.6 L323.1 493.7 L323.6 492.8 L324.1 491.8 L324.6 490.8 L325.1 489.7 L325.6 488.5 L326.1 487.4 L326.6 486.1 L327.1 484.8 L327.6 483.5 L328.1 482.1 L328.6 480.7 L329.1 479.2 L329.6 477.7 L330.1 476.2 L330.6 474.6 L331.1 473 L331.6 471.3 L332.1 469.6 L332.6 467.9 L333.1 466.2 L333.6 464.4 L334.1 462.6 L334.6 460.9 L335.1 459.1 L335.6 457.3 L336.1 455.6 L336.6 453.8 L337.1 452.1 L337.6 450.4 L338.1 448.7 L338.6 447.1 L339.1 445.5 L339.6 444 L340.1 442.6 L340.6 441.2 L341.1 439.9 L341.6 438.7 L342.1 437.5 L342.6 436.5 L343.1 435.5 L343.6 434.7 L344.1 434 L344.6 433.4 L345.1 432.9 L345.6 432.5 L346.1 432.3 L346.6 432.2 L347.1 432.2 L347.6 432.3 L348.1 432.6 L348.6 433 L349.1 433.5 L349.6 434.1 L350.1 434.9 L350.6 435.8 L351.1 436.7 L351.6 437.8 L352.1 439 L352.6 440.2 L353.1 441.6 L353.6 443 L354.1 444.4 L354.6 446 L355.1 447.6 L355.6 449.2 L356.1 450.9 L356.6 452.6 L357.1 454.3 L357.6 456.1 L358.1 457.8 L358.6 459.6 L359.1 461.4 L359.6 463.2 L360.1 465 L360.6 466.7 L361.1 468.4 L361.6 470.2 L362.1 471.9 L362.6 473.5 L363.1 475.1 L363.6 476.7 L364.1 478.3 L364.6 479.8 L365.1 481.3 L365.6 482.7 L366.1 484.1 L366.6 485.4 L367.1 486.7 L367.6 487.9 L368.1 489.1 L368.6 490.2 L369.1 491.3 L369.6 492.3 L370.1 493.3 L370.6 494.2 L371.1 495.1 L371.6 496 L372.1 496.7 L372.6 497.5 L373.1 498.2 L373.6 498.9 L374.1 499.5 L374.6 500.1 L375.1 500.6 L375.6 501.1 L376.1 501.6 L376.6 502 L377.1 502.5 L377.6 502.8 L378.1 503.2 L378.6 503.5 L379.1 503.8 L379.6 504.1 L380.1 504.4 L380.6 504.6 L381.1 504.9 L381.6 505.1 L382.1 505.3 L382.6 505.4 L383.1 505.6 L383.6 505.8 L384.1 505.9 L384.6 506 L385.1 506.1 L385.6 506.2 L386.1 506.3 L386.6 506.4 L387.1 506.5 L387.6 506.6 L388.1 506.7 L388.6 506.7 L389.1 506.8 L389.6 506.9 L390.1 506.9 L390.6 507 L391.1 507 L391.6 507.1 L392.1 507.1 L392.6 507.1 L393.1 507.2 L393.6 507.2 L394.1 507.2 L394.6 507.3 L395.1 507.3 L395.6 507.3 L396.1 507.4 L396.6 507.4 L397.1 507.4 L397.6 507.4 L398.1 507.4 L398.6 507.5 L399.1 507.5 L399.6 507.5 L400.1 507.5 L400.6 507.5 L401.1 507.6 L401.6 507.6 L402.1 507.6 L402.6 507.6 L403.1 507.6 L403.6 507.6 L404.1 507.7 L404.6 507.7 L405.1 507.7 L405.6 507.7" fill="none" stroke="#f8b0a0" stroke-width="1.0"/>
<path d="M381.1 507.9 L381.6 507.9 L382.1 507.9 L382.6 507.9 L383.1 507.9 L383.6 507.9 L384.1 507.9 L384.6 507.9 L385.1 507.9 L385.6 507.9 L386.1 507.9 L386.6 507.9 L387.1 507.9 L387.6 507.9 L388.1 507.9 L388.6 507.9 L389.1 507.9 L389.6 507.8 L390.1 507.8 L390.6 507.8 L391.1 507.8 L391.6 507.8 L392.1 507.8 L392.6 507.8 L393.1 507.7 L393.6 507.7 L394.1 507.7 L394.6 507.7 L395.1 507.6 L395.6 507.6 L396.1 507.6 L396.6 507.5 L397.1 507.5 L397.6 507.4 L398.1 507.4 L398.6 507.3 L399.1 507.2 L399.6 507.1 L400.1 507 L400.6 506.9 L401.1 506.8 L401.6 506.7 L402.1 506.5 L402.6 506.4 L403.1 506.2 L403.6 506 L404.1 505.8 L404.6 505.6 L405.1 505.3 L405.6 505.1 L406.1 504.8 L406.6 504.5 L407.1 504.2 L407.6 503.8 L408.1 503.5 L408.6 503.1 L409.1 502.7 L409.6 502.3 L410.1 501.8 L410.6 501.4 L411.1 500.9 L411.6 500.5 L412.1 500 L412.6 499.5 L413.1 499 L413.6 498.5 L414.1 498 L414.6 497.5 L415.1 497 L415.6 496.5 L416.1 496 L416.6 495.6 L417.1 495.2 L417.6 494.8 L418.1 494.5 L418.6 494.2 L419.1 493.9 L419.6 493.8 L420.1 493.6 L420.6 493.5 L421.1 493.5 L421.6 493.5 L422.1 493.6 L422.6 493.7 L423.1 493.8 L423.6 493.9 L424.1 494.1 L424.6 494.3 L425.1 494.6 L425.6 494.9 L426.1 495.1 L426.6 495.5 L427.1 495.8 L427.6 496.1 L428.1 496.5 L428.6 496.8 L429.1 497.2 L429.6 497.6 L430.1 498 L430.6 498.4 L431.1 498.8 L431.6 499.2 L432.1 499.6 L432.6 500 L433.1 500.3 L433.6 500.7 L434.1 501.1 L434.6 501.5 L435.1 501.8 L435.6 502.2 L436.1 502.5 L436.6 502.8 L437.1 503.2 L437.6 503.5 L438.1 503.8 L438.6 504 L439.1 504.3 L439.6 504.6 L440.1 504.8 L440.6 505.1 L441.1 505.3 L441.6 505.5 L442.1 505.7 L442.6 505.9 L443.1 506.1 L443.6 506.2 L444.1 506.4 L444.6 506.5 L445.1 506.7 L445.6 506.8 L446.1 506.9 L446.6 507 L447.1 507.1 L447.6 507.2 L448.1 507.3 L448.6 507.4 L449.1 507.5 L449.6 507.6 L450.1 507.6 L450.6 507.7 L451.1 507.8 L451.6 507.8 L452.1 507.9 L452.6 507.9 L453.1 507.9 L453.6 508 L454.1 508 L454.6 508.1 L455.1 508.1 L455.6 508.1 L456.1 508.1 L456.6 508.2 L457.1 508.2 L457.6 508.2 L458.1 508.2 L458.6 508.3 L459.1 508.3 L459.6 508.3 L460.1 508.3 L460.6 508.3 L461.1 508.4 L461.6 508.4 L462.1 508.4 L462.6 508.4 L463.1 508.4 L463.6 508.4 L464.1 508.4 L464.6 508.5 L465.1 508.5 L465.6 508.5 L466.1 508.5 L466.6 508.5 L467.1 508.5 L467.6 508.5 L468.1 508.5 L468.6 508.5 L469.1 508.5 L469.6 508.6 L470.1 508.6 L470.6 508.6 L471.1 508.6 L471.6 508.6 L472.1 508.6 L472.6 508.6 L473.1 508.6 L473.1 508.9 L381.1 508.2 Z" fill="url(#g31)" stroke="none"/>
<path d="M381.1 507.9 L381.6 507.9 L382.1 507.9 L382.6 507.9 L383.1 507.9 L383.6 507.9 L384.1 507.9 L384.6 507.9 L385.1 507.9 L385.6 507.9 L386.1 507.9 L386.6 507.9 L387.1 507.9 L387.6 507.9 L388.1 507.9 L388.6 507.9 L389.1 507.9 L389.6 507.8 L390.1 507.8 L390.6 507.8 L391.1 507.8 L391.6 507.8 L392.1 507.8 L392.6 507.8 L393.1 507.7 L393.6 507.7 L394.1 507.7 L394.6 507.7 L395.1 507.6 L395.6 507.6 L396.1 507.6 L396.6 507.5 L397.1 507.5 L397.6 507.4 L398.1 507.4 L398.6 507.3 L399.1 507.2 L399.6 507.1 L400.1 507 L400.6 506.9 L401.1 506.8 L401.6 506.7 L402.1 506.5 L402.6 506.4 L403.1 506.2 L403.6 506 L404.1 505.8 L404.6 505.6 L405.1 505.3 L405.6 505.1 L406.1 504.8 L406.6 504.5 L407.1 504.2 L407.6 503.8 L408.1 503.5 L408.6 503.1 L409.1 502.7 L409.6 502.3 L410.1 501.8 L410.6 501.4 L411.1 500.9 L411.6 500.5 L412.1 500 L412.6 499.5 L413.1 499 L413.6 498.5 L414.1 498 L414.6 497.5 L415.1 497 L415.6 496.5 L416.1 496 L416.6 495.6 L417.1 495.2 L417.6 494.8 L418.1 494.5 L418.6 494.2 L419.1 493.9 L419.6 493.8 L420.1 493.6 L420.6 493.5 L421.1 493.5 L421.6 493.5 L422.1 493.6 L422.6 493.7 L423.1 493.8 L423.6 493.9 L424.1 494.1 L424.6 494.3 L425.1 494.6 L425.6 494.9 L426.1 495.1 L426.6 495.5 L427.1 495.8 L427.6 496.1 L428.1 496.5 L428.6 496.8 L429.1 497.2 L429.6 497.6 L430.1 498 L430.6 498.4 L431.1 498.8 L431.6 499.2 L432.1 499.6 L432.6 500 L433.1 500.3 L433.6 500.7 L434.1 501.1 L434.6 501.5 L435.1 501.8 L435.6 502.2 L436.1 502.5 L436.6 502.8 L437.1 503.2 L437.6 503.5 L438.1 503.8 L438.6 504 L439.1 504.3 L439.6 504.6 L440.1 504.8 L440.6 505.1 L441.1 505.3 L441.6 505.5 L442.1 505.7 L442.6 505.9 L443.1 506.1 L443.6 506.2 L444.1 506.4 L444.6 506.5 L445.1 506.7 L445.6 506.8 L446.1 506.9 L446.6 507 L447.1 507.1 L447.6 507.2 L448.1 507.3 L448.6 507.4 L449.1 507.5 L449.6 507.6 L450.1 507.6 L450.6 507.7 L451.1 507.8 L451.6 507.8 L452.1 507.9 L452.6 507.9 L453.1 507.9 L453.6 508 L454.1 508 L454.6 508.1 L455.1 508.1 L455.6 508.1 L456.1 508.1 L456.6 508.2 L457.1 508.2 L457.6 508.2 L458.1 508.2 L458.6 508.3 L459.1 508.3 L459.6 508.3 L460.1 508.3 L460.6 508.3 L461.1 508.4 L461.6 508.4 L462.1 508.4 L462.6 508.4 L463.1 508.4 L463.6 508.4 L464.1 508.4 L464.6 508.5 L465.1 508.5 L465.6 508.5 L466.1 508.5 L466.6 508.5 L467.1 508.5 L467.6 508.5 L468.1 508.5 L468.6 508.5 L469.1 508.5 L469.6 508.6 L470.1 508.6 L470.6 508.6 L471.1 508.6 L471.6 508.6 L472.1 508.6 L472.6 508.6 L473.1 508.6" fill="none" stroke="#f060f0" stroke-width="1.2"/>
<path d="M421.1 506 L421.6 505.9 L422.1 505.8 L422.6 505.7 L423.1 505.6 L423.6 505.4 L424.1 505.3 L424.6 505.1 L425.1 504.9 L425.6 504.7 L426.1 504.5 L426.6 504.2 L427.1 503.9 L427.6 503.5 L428.1 503.1 L428.6 502.7 L429.1 502.2 L429.6 501.6 L430.1 501 L430.6 500.4 L431.1 499.6 L431.6 498.8 L432.1 498 L432.6 497.1 L433.1 496.1 L433.6 495 L434.1 493.9 L434.6 492.8 L435.1 491.6 L435.6 490.3 L436.1 489 L436.6 487.6 L437.1 486.3 L437.6 484.9 L438.1 483.5 L438.6 482.1 L439.1 480.8 L439.6 479.4 L440.1 478.2 L440.6 477 L441.1 475.8 L441.6 474.8 L442.1 473.9 L442.6 473.1 L443.1 472.5 L443.6 472 L444.1 471.7 L444.6 471.5 L445.1 471.5 L445.6 471.6 L446.1 471.8 L446.6 472.1 L447.1 472.5 L447.6 473 L448.1 473.6 L448.6 474.3 L449.1 475 L449.6 475.8 L450.1 476.6 L450.6 477.5 L451.1 478.5 L451.6 479.5 L452.1 480.5 L452.6 481.5 L453.1 482.5 L453.6 483.6 L454.1 484.7 L454.6 485.7 L455.1 486.8 L455.6 487.8 L456.1 488.8 L456.6 489.9 L457.1 490.8 L457.6 491.8 L458.1 492.7 L458.6 493.6 L459.1 494.5 L459.6 495.3 L460.1 496.1 L460.6 496.9 L461.1 497.6 L461.6 498.3 L462.1 498.9 L462.6 499.5 L463.1 500.1 L463.6 500.6 L464.1 501.1 L464.6 501.6 L465.1 502 L465.6 502.4 L466.1 502.8 L466.6 503.1 L467.1 503.4 L467.6 503.7 L468.1 504 L468.6 504.2 L469.1 504.4 L469.6 504.6 L470.1 504.8 L470.6 505 L471.1 505.1 L471.6 505.2 L472.1 505.4 L472.6 505.5 L473.1 505.6 L473.6 505.7 L474.1 505.7 L474.6 505.8 L475.1 505.9 L475.4 507 L421.1 507 Z" fill="url(#g32)" stroke="none"/>
<path d="M421.1 506 L421.6 505.9 L422.1 505.8 L422.6 505.7 L423.1 505.6 L423.6 505.4 L424.1 505.3 L424.6 505.1 L425.1 504.9 L425.6 504.7 L426.1 504.5 L426.6 504.2 L427.1 503.9 L427.6 503.5 L428.1 503.1 L428.6 502.7 L429.1 502.2 L429.6 501.6 L430.1 501 L430.6 500.4 L431.1 499.6 L431.6 498.8 L432.1 498 L432.6 497.1 L433.1 496.1 L433.6 495 L434.1 493.9 L434.6 492.8 L435.1 491.6 L435.6 490.3 L436.1 489 L436.6 487.6 L437.1 486.3 L437.6 484.9 L438.1 483.5 L438.6 482.1 L439.1 480.8 L439.6 479.4 L440.1 478.2 L440.6 477 L441.1 475.8 L441.6 474.8 L442.1 473.9 L442.6 473.1 L443.1 472.5 L443.6 472 L444.1 471.7 L444.6 471.5 L445.1 471.5 L445.6 471.6 L446.1 471.8 L446.6 472.1 L447.1 472.5 L447.6 473 L448.1 473.6 L448.6 474.3 L449.1 475 L449.6 475.8 L450.1 476.6 L450.6 477.5 L451.1 478.5 L451.6 479.5 L452.1 480.5 L452.6 481.5 L453.1 482.5 L453.6 483.6 L454.1 484.7 L454.6 485.7 L455.1 486.8 L455.6 487.8 L456.1 488.8 L456.6 489.9 L457.1 490.8 L457.6 491.8 L458.1 492.7 L458.6 493.6 L459.1 494.5 L459.6 495.3 L460.1 496.1 L460.6 496.9 L461.1 497.6 L461.6 498.3 L462.1 498.9 L462.6 499.5 L463.1 500.1 L463.6 500.6 L464.1 501.1 L464.6 501.6 L465.1 502 L465.6 502.4 L466.1 502.8 L466.6 503.1 L467.1 503.4 L467.6 503.7 L468.1 504 L468.6 504.2 L469.1 504.4 L469.6 504.6 L470.1 504.8 L470.6 505 L471.1 505.1 L471.6 505.2 L472.1 505.4 L472.6 505.5 L473.1 505.6 L473.6 505.7 L474.1 505.7 L474.6 505.8 L475.1 505.9" fill="none" stroke="#10d0c0" stroke-width="1.3"/>
<line x1="271.6" y1="507.4" x2="475.4" y2="508.9" stroke="#a080f0" stroke-width="1.6"/>
<line x1="440" y1="507" x2="475.4" y2="507" stroke="#10d0c0" stroke-width="1.2"/>
<path d="M271 506 C273.1 505.9 279.6 505.7 283.3 505.3 C287.1 504.9 290.4 504.7 293.5 503.4 C296.6 502.1 299.3 500.1 301.7 497.5 C304.1 494.9 305.8 492 307.9 488 C309.9 484 311.9 477.6 314 473.5 C316.1 469.4 318.1 466.4 320.2 463.5 C322.2 460.6 324.2 458.7 326.3 456.3 C328.4 453.9 330.6 452.2 332.5 449 C334.4 445.8 336.1 440.6 337.6 437 C339.1 433.4 340.3 429.4 341.7 427.5 C343.1 425.6 344.4 425.4 345.8 425.8 C347.2 426.2 348.4 427.3 349.9 429.8 C351.4 432.3 353.3 436.4 355 441 C356.7 445.6 358.6 452.5 360 457.5 C361.4 462.5 362.3 466.1 363.6 471 C364.9 475.9 366.2 482.5 368 487 C369.8 491.5 371.9 495.4 374.4 498 C376.9 500.6 380 501.7 382.8 502.8 C385.6 503.9 388.2 504.6 391.2 504.5 C394.2 504.4 397.6 503.6 400.8 502.5 C404 501.4 407.3 500 410.3 497.8 C413.3 495.6 416.3 491.6 418.7 489.5 C421.1 487.4 422.5 486.3 424.7 485 C426.9 483.7 429.7 483.6 431.9 481.8 C434.1 480.1 435.9 476.5 437.9 474.5 C439.9 472.5 442.1 470.2 443.9 470 C445.7 469.8 446.9 470.7 448.7 473.5 C450.5 476.3 452.7 482.9 454.7 487 C456.7 491.1 458.5 495.4 460.7 498.3 C462.9 501.2 465.6 503.1 467.9 504.5 C470.2 505.9 473.4 506.2 474.5 506.5" fill="none" stroke="#000" stroke-width="1.1" stroke-linejoin="round" />
<path d="M271 505.8 C273.1 505.7 279.6 505.4 283.3 505 C287.1 504.6 290.4 504.5 293.5 503.4 C296.6 502.3 299.3 500.6 301.7 498.2 C304.1 495.8 305.8 492.9 307.9 489 C309.9 485.1 311.9 478.8 314 474.7 C316.1 470.6 318.1 467.3 320.2 464.4 C322.2 461.5 324.2 459.7 326.3 457.3 C328.4 454.9 330.6 453.4 332.5 450.1 C334.4 446.9 336.1 441.6 337.6 437.8 C339.1 434 340.3 429.6 341.7 427.5 C343.1 425.4 344.4 424.7 345.8 424.9 C347.2 425.1 348.4 426.1 349.9 428.6 C351.4 431.1 353.3 435.2 355 439.8 C356.7 444.4 358.6 451 360 456 C361.4 461 362.3 465 363.6 470 C364.9 475 366.2 481.4 368 486 C369.8 490.6 371.9 494.6 374.4 497.3 C376.9 500 380 501 382.8 502.1 C385.6 503.2 388.2 503.9 391.2 504 C394.2 504.1 397.6 503.6 400.8 502.8 C404 502 407.3 500.9 410.3 499 C413.3 497.1 416.3 493.2 418.7 491.3 C421.1 489.4 422.5 488.9 424.7 487.7 C426.9 486.5 429.7 486.1 431.9 484.1 C434.1 482.1 435.9 478.2 437.9 475.7 C439.9 473.2 442.1 469.7 443.9 469.3 C445.7 468.9 446.9 470.4 448.7 473.3 C450.5 476.2 452.7 482.5 454.7 486.5 C456.7 490.5 458.5 494.5 460.7 497.3 C462.9 500.1 465.6 501.9 467.9 503.3 C470.2 504.7 473.4 505.3 474.5 505.7" fill="none" stroke="#f00" stroke-width="1.5" stroke-linejoin="round" />
<line x1="311.5" y1="514" x2="311.5" y2="511.5" stroke="#111" stroke-width="1.1"/>
<line x1="352" y1="514" x2="352" y2="511.5" stroke="#111" stroke-width="1.1"/>
<line x1="393.5" y1="514" x2="393.5" y2="511.5" stroke="#111" stroke-width="1.1"/>
<line x1="435" y1="514" x2="435" y2="511.5" stroke="#111" stroke-width="1.1"/>
<line x1="291.2" y1="514" x2="291.2" y2="512.2" stroke="#111" stroke-width="1.0"/>
<line x1="331.8" y1="514" x2="331.8" y2="512.2" stroke="#111" stroke-width="1.0"/>
<line x1="372.8" y1="514" x2="372.8" y2="512.2" stroke="#111" stroke-width="1.0"/>
<line x1="414.2" y1="514" x2="414.2" y2="512.2" stroke="#111" stroke-width="1.0"/>
<line x1="455.5" y1="514" x2="455.5" y2="512.2" stroke="#111" stroke-width="1.0"/>
<text x="4.8" y="28.4" font-size="16.5" letter-spacing="-0.7" fill="#000">(<tspan font-weight="bold">a</tspan>)</text>
<text x="244.8" y="29.6" font-size="16.5" letter-spacing="-0.7" fill="#000">(<tspan font-weight="bold">b</tspan>)</text>
<text x="4.8" y="300.3" font-size="16.5" letter-spacing="-0.7" fill="#000">(<tspan font-weight="bold">c</tspan>)</text>
<text x="247.8" y="299.4" font-size="16.5" letter-spacing="-0.7" fill="#000">(<tspan font-weight="bold">d</tspan>)</text>
<text x="0" y="0" font-size="12.5" fill="#000" textLength="22.3" lengthAdjust="spacingAndGlyphs" text-anchor="start"  transform="translate(35.6,20.8) scale(1,1.1)">C 1s</text>
<text x="0" y="0" font-size="12.5" fill="#000" text-anchor="start"  transform="translate(274.4,20.8) scale(1,1.1)">O 1s</text>
<text x="0" y="0" font-size="12.5" fill="#000" text-anchor="start"  transform="translate(37.5,291.8) scale(1,1.1)">Fe 2p</text>
<text x="0" y="0" font-size="12.5" fill="#000" text-anchor="start"  transform="translate(276.4,292.3) scale(1,1.1)">S 2p</text>
<text x="0" y="0" font-size="12.8" fill="#000" textLength="83" lengthAdjust="spacingAndGlyphs" text-anchor="start"  transform="translate(153.4,21.8) scale(1,1.12)">RS–EDTA–FeS</text>
<text x="0" y="0" font-size="12.8" fill="#000" textLength="41" lengthAdjust="spacingAndGlyphs" text-anchor="start"  transform="translate(192.6,140.6) scale(1,1.1)">RS–FeS</text>
<text x="0" y="0" font-size="12.8" fill="#000" textLength="82.5" lengthAdjust="spacingAndGlyphs" text-anchor="start"  transform="translate(370.4,24.2) scale(1,1.06)">RS–EDTA–FeS</text>
<text x="0" y="0" font-size="12.8" fill="#000" textLength="41" lengthAdjust="spacingAndGlyphs" text-anchor="start"  transform="translate(425.4,142.6) scale(1,1.08)">RS–FeS</text>
<text x="0" y="0" font-size="12.8" fill="#000" textLength="82.5" lengthAdjust="spacingAndGlyphs" text-anchor="start"  transform="translate(97.6,393.2) scale(1,1.12)">RS–EDTA–FeS</text>
<text x="0" y="0" font-size="12.8" fill="#000" textLength="41.2" lengthAdjust="spacingAndGlyphs" text-anchor="start"  transform="translate(115.4,509) scale(1,1.05)">RS–FeS</text>
<text x="0" y="0" font-size="12.8" fill="#000" textLength="82.8" lengthAdjust="spacingAndGlyphs" text-anchor="start"  transform="translate(372,292.8) scale(1,1.02)">RS–EDTA–FeS</text>
<text x="0" y="0" font-size="12.8" fill="#000" textLength="41.2" lengthAdjust="spacingAndGlyphs" text-anchor="start"  transform="translate(412.4,410.6) scale(1,1.02)">RS–FeS</text>
<text x="33" y="257.8" font-size="12.5" fill="#000" text-anchor="middle" >290</text>
<text x="73.9" y="257.8" font-size="12.5" fill="#000" text-anchor="middle" >288</text>
<text x="114.8" y="257.8" font-size="12.5" fill="#000" text-anchor="middle" >286</text>
<text x="155.7" y="257.8" font-size="12.5" fill="#000" text-anchor="middle" >284</text>
<text x="196.6" y="257.8" font-size="12.5" fill="#000" text-anchor="middle" >282</text>
<text x="237.5" y="257.8" font-size="12.5" fill="#000" text-anchor="middle" >280</text>
<text x="290.5" y="256" font-size="12.5" fill="#000" text-anchor="middle" >536</text>
<text x="331.2" y="256" font-size="12.5" fill="#000" text-anchor="middle" >534</text>
<text x="372" y="256" font-size="12.5" fill="#000" text-anchor="middle" >532</text>
<text x="412.8" y="256" font-size="12.5" fill="#000" text-anchor="middle" >530</text>
<text x="453.5" y="256" font-size="12.5" fill="#000" text-anchor="middle" >528</text>
<text x="52.5" y="528" font-size="12.5" fill="#000" text-anchor="middle" >735</text>
<text x="84" y="528" font-size="12.5" fill="#000" text-anchor="middle" >730</text>
<text x="116" y="528" font-size="12.5" fill="#000" text-anchor="middle" >725</text>
<text x="148.5" y="528" font-size="12.5" fill="#000" text-anchor="middle" >720</text>
<text x="180" y="528" font-size="12.5" fill="#000" text-anchor="middle" >715</text>
<text x="211.5" y="528" font-size="12.5" fill="#000" text-anchor="middle" >710</text>
<text x="271" y="527" font-size="12.5" fill="#000" text-anchor="middle" >172</text>
<text x="311.5" y="527" font-size="12.5" fill="#000" text-anchor="middle" >170</text>
<text x="352" y="527" font-size="12.5" fill="#000" text-anchor="middle" >168</text>
<text x="393.5" y="527" font-size="12.5" fill="#000" text-anchor="middle" >166</text>
<text x="435" y="527" font-size="12.5" fill="#000" text-anchor="middle" >164</text>
<text x="476" y="527" font-size="12.5" fill="#000" text-anchor="middle" >162</text>
<text x="91" y="269.5" font-size="12.7" fill="#000" textLength="104" lengthAdjust="spacingAndGlyphs" text-anchor="start" >Binding energy (eV)</text>
<text x="301.5" y="269" font-size="12.7" fill="#000" textLength="104.5" lengthAdjust="spacingAndGlyphs" text-anchor="start" >Binding energy (eV)</text>
<text x="87.5" y="541" font-size="12.7" fill="#000" textLength="104.5" lengthAdjust="spacingAndGlyphs" text-anchor="start" >Binding energy (eV)</text>
<text x="298" y="542.5" font-size="12.7" fill="#000" textLength="104" lengthAdjust="spacingAndGlyphs" text-anchor="start" >Binding energy (eV)</text>
<text x="83" y="43.8" font-size="12.47" fill="#1a8a1a" font-weight="bold" stroke="#1a8a1a" stroke-width="0.2" stroke-linejoin="round" text-anchor="start" >C–OH</text>
<text x="83.1" y="55.8" font-size="12.68" fill="#1a8a1a" font-weight="bold" stroke="#1a8a1a" stroke-width="0.2" stroke-linejoin="round" text-anchor="start" >33.83%</text>
<text x="36.7" y="71.3" font-size="12.55" fill="#ff00ff" font-weight="bold" stroke="#ff00ff" stroke-width="0.2" stroke-linejoin="round" text-anchor="start" >–COOH</text>
<text x="40.7" y="83.4" font-size="12.49" fill="#ff00ff" font-weight="bold" stroke="#ff00ff" stroke-width="0.2" stroke-linejoin="round" text-anchor="start" >10.54%</text>
<text x="0" y="0" font-size="12.5" fill="#8f00ff" font-weight="bold" textLength="71" lengthAdjust="spacingAndGlyphs" stroke="#8f00ff" stroke-width="0.2" stroke-linejoin="round" text-anchor="start" transform="translate(162.5,31) rotate(70)">C–C 55.63%</text>
<text x="85.7" y="179.8" font-size="12.58" fill="#1a8a1a" font-weight="bold" stroke="#1a8a1a" stroke-width="0.2" stroke-linejoin="round" text-anchor="start" >C–OH</text>
<text x="85.8" y="191.8" font-size="12.94" fill="#1a8a1a" font-weight="bold" stroke="#1a8a1a" stroke-width="0.2" stroke-linejoin="round" text-anchor="start" >28.88%</text>
<text x="38.7" y="207.3" font-size="12.61" fill="#ff00ff" font-weight="bold" stroke="#ff00ff" stroke-width="0.2" stroke-linejoin="round" text-anchor="start" >–COOH</text>
<text x="45.8" y="219.1" font-size="12.52" fill="#ff00ff" font-weight="bold" stroke="#ff00ff" stroke-width="0.2" stroke-linejoin="round" text-anchor="start" >8.25%</text>
<text x="0" y="0" font-size="12.5" fill="#8f00ff" font-weight="bold" textLength="69" lengthAdjust="spacingAndGlyphs" stroke="#8f00ff" stroke-width="0.2" stroke-linejoin="round" text-anchor="start" transform="translate(160,158.5) rotate(71.5)">C–C 62.87%</text>
<text x="313.5" y="78.8" font-size="12.58" fill="#1ec0f0" font-weight="bold" stroke="#1ec0f0" stroke-width="0.2" stroke-linejoin="round" text-anchor="start" >C–OH</text>
<text x="312.1" y="90.6" font-size="13.0" fill="#1ec0f0" font-weight="bold" stroke="#1ec0f0" stroke-width="0.2" stroke-linejoin="round" text-anchor="start" >32.02%</text>
<text x="412.5" y="47.1" font-size="13.05" fill="#10e050" font-weight="bold" stroke="#10e050" stroke-width="0.2" stroke-linejoin="round" text-anchor="start" >C=O</text>
<text x="406.6" y="58.8" font-size="12.84" fill="#10e050" font-weight="bold" stroke="#10e050" stroke-width="0.2" stroke-linejoin="round" text-anchor="start" >55.25%</text>
<text x="443.6" y="76.7" font-size="12.35" fill="#1e90f0" font-weight="bold" stroke="#1e90f0" stroke-width="0.2" stroke-linejoin="round" text-anchor="start" >O</text>
<text x="453.7" y="71.3" font-size="8.57" fill="#1e90f0" font-weight="bold" stroke="#1e90f0" stroke-width="0.2" stroke-linejoin="round" text-anchor="start" >2−</text>
<text x="434.4" y="88.5" font-size="12.46" fill="#1e90f0" font-weight="bold" stroke="#1e90f0" stroke-width="0.2" stroke-linejoin="round" text-anchor="start" >12.73%</text>
<text x="340.4" y="143.4" font-size="12.81" fill="#10e050" font-weight="bold" stroke="#10e050" stroke-width="0.2" stroke-linejoin="round" text-anchor="start" >C=O 46.84%</text>
<text x="308" y="194.1" font-size="12.47" fill="#1ec0f0" font-weight="bold" stroke="#1ec0f0" stroke-width="0.2" stroke-linejoin="round" text-anchor="start" >C–OH</text>
<text x="306.6" y="205.7" font-size="12.91" fill="#1ec0f0" font-weight="bold" stroke="#1ec0f0" stroke-width="0.2" stroke-linejoin="round" text-anchor="start" >39.24%</text>
<text x="438.5" y="199.9" font-size="12.65" fill="#1e90f0" font-weight="bold" stroke="#1e90f0" stroke-width="0.2" stroke-linejoin="round" text-anchor="start" >O</text>
<text x="449" y="194.4" font-size="9.08" fill="#1e90f0" font-weight="bold" stroke="#1e90f0" stroke-width="0.2" stroke-linejoin="round" text-anchor="start" >2−</text>
<text x="429.1" y="212.2" font-size="13.01" fill="#1e90f0" font-weight="bold" stroke="#1e90f0" stroke-width="0.2" stroke-linejoin="round" text-anchor="start" >13.92%</text>
<text x="0" y="0" font-size="10.6" fill="#1aa8f0" font-weight="bold" textLength="37.5" lengthAdjust="spacingAndGlyphs" stroke="#1aa8f0" stroke-width="0.2" stroke-linejoin="round" text-anchor="start"  transform="translate(46.5,308.4) scale(1,1.07)">725.9 eV</text>
<text x="0" y="0" font-size="10.6" fill="#1aa8f0" font-weight="bold" textLength="39" lengthAdjust="spacingAndGlyphs" stroke="#1aa8f0" stroke-width="0.2" stroke-linejoin="round" text-anchor="start"  transform="translate(46,317.9) scale(1,1.07)">Fe 2p1/2</text>
<text x="0" y="0" font-size="10.6" fill="#1aa8f0" font-weight="bold" stroke="#1aa8f0" stroke-width="0.2" stroke-linejoin="round" text-anchor="start"  transform="translate(57,328.5) scale(1,1.07)">Fe<tspan font-size="7" dy="-4.5">3+</tspan></text>
<text x="0" y="0" font-size="10.6" fill="#f25c5c" font-weight="bold" textLength="36.5" lengthAdjust="spacingAndGlyphs" stroke="#f25c5c" stroke-width="0.2" stroke-linejoin="round" text-anchor="start"  transform="translate(95,287.9) scale(1,1.07)">723.8 eV</text>
<text x="0" y="0" font-size="10.6" fill="#f25c5c" font-weight="bold" textLength="37.5" lengthAdjust="spacingAndGlyphs" stroke="#f25c5c" stroke-width="0.2" stroke-linejoin="round" text-anchor="start"  transform="translate(95,297.4) scale(1,1.07)">Fe 2p1/2</text>
<text x="0" y="0" font-size="10.6" fill="#f25c5c" font-weight="bold" stroke="#f25c5c" stroke-width="0.2" stroke-linejoin="round" text-anchor="start"  transform="translate(104.5,308.2) scale(1,1.07)">Fe<tspan font-size="7" dy="-4.5">2+</tspan></text>
<text x="0" y="0" font-size="10.6" fill="#10e2f0" font-weight="bold" textLength="38" lengthAdjust="spacingAndGlyphs" stroke="#10e2f0" stroke-width="0.2" stroke-linejoin="round" text-anchor="start"  transform="translate(133.3,318.6) scale(1,1.07)">718.9 eV</text>
<text x="0" y="0" font-size="10.6" fill="#10e2f0" font-weight="bold" stroke="#10e2f0" stroke-width="0.2" stroke-linejoin="round" text-anchor="start"  transform="translate(143.3,329.7) scale(1,1.07)">Fe<tspan font-size="7" dy="-4.5">2+</tspan></text>
<text x="0" y="0" font-size="10.6" fill="#10e2f0" font-weight="bold" textLength="34.5" lengthAdjust="spacingAndGlyphs" stroke="#10e2f0" stroke-width="0.2" stroke-linejoin="round" text-anchor="start"  transform="translate(135,339.6) scale(1,1.07)">satellite</text>
<text x="0" y="0" font-size="10.6" fill="#f09848" font-weight="bold" textLength="38" lengthAdjust="spacingAndGlyphs" stroke="#f09848" stroke-width="0.2" stroke-linejoin="round" text-anchor="start"  transform="translate(149.5,288.5) scale(1,1.07)">712.2 eV</text>
<text x="0" y="0" font-size="10.6" fill="#f09848" font-weight="bold" textLength="38" lengthAdjust="spacingAndGlyphs" stroke="#f09848" stroke-width="0.2" stroke-linejoin="round" text-anchor="start"  transform="translate(151,297.8) scale(1,1.07)">Fe 2p3/2</text>
<text x="0" y="0" font-size="10.6" fill="#f09848" font-weight="bold" stroke="#f09848" stroke-width="0.2" stroke-linejoin="round" text-anchor="start"  transform="translate(161,308.2) scale(1,1.07)">Fe<tspan font-size="7" dy="-4.5">3+</tspan></text>
<text x="0" y="0" font-size="10.6" fill="#f030b0" font-weight="bold" textLength="38" lengthAdjust="spacingAndGlyphs" stroke="#f030b0" stroke-width="0.2" stroke-linejoin="round" text-anchor="start"  transform="translate(198,289.8) scale(1,1.07)">710.3 eV</text>
<text x="0" y="0" font-size="10.6" fill="#f030b0" font-weight="bold" textLength="39" lengthAdjust="spacingAndGlyphs" stroke="#f030b0" stroke-width="0.2" stroke-linejoin="round" text-anchor="start"  transform="translate(197,299.7) scale(1,1.07)">Fe 2p3/2</text>
<text x="0" y="0" font-size="10.6" fill="#f030b0" font-weight="bold" stroke="#f030b0" stroke-width="0.2" stroke-linejoin="round" text-anchor="start"  transform="translate(208,310) scale(1,1.07)">Fe<tspan font-size="7" dy="-4.5">2+</tspan></text>
<text x="0" y="0" font-size="10.6" fill="#7a7a10" font-weight="bold" textLength="37.7" lengthAdjust="spacingAndGlyphs" stroke="#7a7a10" stroke-width="0.2" stroke-linejoin="round" text-anchor="start"  transform="translate(39.5,373.8) scale(1,1.07)">730.7 eV</text>
<text x="0" y="0" font-size="10.6" fill="#7a7a10" font-weight="bold" textLength="48.4" lengthAdjust="spacingAndGlyphs" stroke="#7a7a10" stroke-width="0.2" stroke-linejoin="round" text-anchor="start"  transform="translate(35.2,384.5) scale(1,1.07)">Fe satellite</text>
<text x="0" y="0" font-size="10.6" fill="#1aa8f0" font-weight="bold" textLength="38.5" lengthAdjust="spacingAndGlyphs" stroke="#1aa8f0" stroke-width="0.2" stroke-linejoin="round" text-anchor="start"  transform="translate(49,416.8) scale(1,1.07)">726.3 eV</text>
<text x="0" y="0" font-size="10.6" fill="#1aa8f0" font-weight="bold" textLength="38.5" lengthAdjust="spacingAndGlyphs" stroke="#1aa8f0" stroke-width="0.2" stroke-linejoin="round" text-anchor="start"  transform="translate(49,426.2) scale(1,1.07)">Fe 2p1/2</text>
<text x="0" y="0" font-size="10.6" fill="#1aa8f0" font-weight="bold" stroke="#1aa8f0" stroke-width="0.2" stroke-linejoin="round" text-anchor="start"  transform="translate(60,436.6) scale(1,1.07)">Fe<tspan font-size="7" dy="-4.5">3+</tspan></text>
<text x="0" y="0" font-size="10.6" fill="#f25c5c" font-weight="bold" textLength="38" lengthAdjust="spacingAndGlyphs" stroke="#f25c5c" stroke-width="0.2" stroke-linejoin="round" text-anchor="start"  transform="translate(92.5,408.3) scale(1,1.07)">724.0 eV</text>
<text x="0" y="0" font-size="10.6" fill="#f25c5c" font-weight="bold" textLength="38" lengthAdjust="spacingAndGlyphs" stroke="#f25c5c" stroke-width="0.2" stroke-linejoin="round" text-anchor="start"  transform="translate(93,418.3) scale(1,1.07)">Fe 2p1/2</text>
<text x="0" y="0" font-size="10.6" fill="#f25c5c" font-weight="bold" stroke="#f25c5c" stroke-width="0.2" stroke-linejoin="round" text-anchor="start"  transform="translate(104.5,428.5) scale(1,1.07)">Fe<tspan font-size="7" dy="-4.5">2+</tspan></text>
<text x="0" y="0" font-size="10.6" fill="#10e2f0" font-weight="bold" textLength="37.8" lengthAdjust="spacingAndGlyphs" stroke="#10e2f0" stroke-width="0.2" stroke-linejoin="round" text-anchor="start"  transform="translate(130,435.3) scale(1,1.07)">719.1 eV</text>
<text x="0" y="0" font-size="10.6" fill="#10e2f0" font-weight="bold" stroke="#10e2f0" stroke-width="0.2" stroke-linejoin="round" text-anchor="start"  transform="translate(140.5,446.2) scale(1,1.07)">Fe<tspan font-size="7" dy="-4.5">2+</tspan></text>
<text x="0" y="0" font-size="10.6" fill="#10e2f0" font-weight="bold" textLength="34.5" lengthAdjust="spacingAndGlyphs" stroke="#10e2f0" stroke-width="0.2" stroke-linejoin="round" text-anchor="start"  transform="translate(131,456.6) scale(1,1.07)">satellite</text>
<text x="0" y="0" font-size="10.6" fill="#f09848" font-weight="bold" textLength="38" lengthAdjust="spacingAndGlyphs" stroke="#f09848" stroke-width="0.2" stroke-linejoin="round" text-anchor="start"  transform="translate(151,406.6) scale(1,1.07)">712.5 eV</text>
<text x="0" y="0" font-size="10.6" fill="#f09848" font-weight="bold" textLength="37.5" lengthAdjust="spacingAndGlyphs" stroke="#f09848" stroke-width="0.2" stroke-linejoin="round" text-anchor="start"  transform="translate(152,417) scale(1,1.07)">Fe 2p3/2</text>
<text x="0" y="0" font-size="10.6" fill="#f09848" font-weight="bold" stroke="#f09848" stroke-width="0.2" stroke-linejoin="round" text-anchor="start"  transform="translate(161,427.3) scale(1,1.07)">Fe<tspan font-size="7" dy="-4.5">3+</tspan></text>
<text x="0" y="0" font-size="10.6" fill="#f030b0" font-weight="bold" textLength="37" lengthAdjust="spacingAndGlyphs" stroke="#f030b0" stroke-width="0.2" stroke-linejoin="round" text-anchor="start"  transform="translate(197,404.8) scale(1,1.07)">710.4 eV</text>
<text x="0" y="0" font-size="10.6" fill="#f030b0" font-weight="bold" textLength="39" lengthAdjust="spacingAndGlyphs" stroke="#f030b0" stroke-width="0.2" stroke-linejoin="round" text-anchor="start"  transform="translate(197,414.7) scale(1,1.07)">Fe 2p3/2</text>
<text x="0" y="0" font-size="10.6" fill="#f030b0" font-weight="bold" stroke="#f030b0" stroke-width="0.2" stroke-linejoin="round" text-anchor="start"  transform="translate(207,425) scale(1,1.07)">Fe<tspan font-size="7" dy="-4.5">2+</tspan></text>
<text x="0" y="0" font-size="10.6" fill="#7a7a10" font-weight="bold" textLength="37.6" lengthAdjust="spacingAndGlyphs" stroke="#7a7a10" stroke-width="0.2" stroke-linejoin="round" text-anchor="start"  transform="translate(42.8,492.8) scale(1,1.07)">730.0 eV</text>
<text x="0" y="0" font-size="10.6" fill="#7a7a10" font-weight="bold" textLength="49.5" lengthAdjust="spacingAndGlyphs" stroke="#7a7a10" stroke-width="0.2" stroke-linejoin="round" text-anchor="start"  transform="translate(37.4,502.7) scale(1,1.07)">Fe satellite</text>
<line x1="85" y1="317.5" x2="104.3" y2="341.1" stroke="#1aa8f0" stroke-width="1.0"/>
<path d="M107.5 345 L102.3 342.8 L106.3 339.5 Z" fill="#1aa8f0"/>
<line x1="117.5" y1="310.5" x2="121.7" y2="337.6" stroke="#f25c5c" stroke-width="1.0"/>
<path d="M122.5 342.5 L119.2 338 L124.3 337.2 Z" fill="#f25c5c"/>
<line x1="156" y1="341" x2="156.9" y2="347.5" stroke="#10e2f0" stroke-width="1.0"/>
<path d="M157.5 352.5 L154.3 347.9 L159.4 347.2 Z" fill="#10e2f0"/>
<line x1="181" y1="303" x2="194.8" y2="341.3" stroke="#f09848" stroke-width="1.0"/>
<path d="M196.5 346 L192.4 342.2 L197.3 340.4 Z" fill="#f09848"/>
<line x1="219.5" y1="310.5" x2="213.7" y2="326.8" stroke="#f030b0" stroke-width="1.0"/>
<path d="M212 331.5 L211.2 325.9 L216.1 327.7 Z" fill="#f030b0"/>
<line x1="61.5" y1="362" x2="78.7" y2="347.3" stroke="#7a7a10" stroke-width="1.0"/>
<path d="M82.5 344 L80.4 349.2 L77 345.3 Z" fill="#7a7a10"/>
<line x1="85" y1="427.5" x2="104.6" y2="455.4" stroke="#1aa8f0" stroke-width="1.0"/>
<path d="M107.5 459.5 L102.5 456.9 L106.8 453.9 Z" fill="#1aa8f0"/>
<line x1="117.5" y1="430.5" x2="121.1" y2="449.6" stroke="#f25c5c" stroke-width="1.0"/>
<path d="M122 454.5 L118.5 450.1 L123.6 449.1 Z" fill="#f25c5c"/>
<line x1="150" y1="458" x2="151.3" y2="463.6" stroke="#10e2f0" stroke-width="1.0"/>
<path d="M152.5 468.5 L148.8 464.2 L153.9 463 Z" fill="#10e2f0"/>
<line x1="182" y1="421.5" x2="193.3" y2="452.8" stroke="#f09848" stroke-width="1.0"/>
<path d="M195 457.5 L190.9 453.7 L195.7 451.9 Z" fill="#f09848"/>
<line x1="217.5" y1="426" x2="212.2" y2="438.9" stroke="#f030b0" stroke-width="1.0"/>
<path d="M210.3 443.5 L209.8 437.9 L214.6 439.9 Z" fill="#f030b0"/>
<line x1="61" y1="482.5" x2="81.3" y2="464.3" stroke="#7a7a10" stroke-width="1.0"/>
<path d="M85 461 L83 466.3 L79.5 462.4 Z" fill="#7a7a10"/>
<text x="0" y="0" font-size="10.6" fill="#f8b4a0" font-weight="bold" textLength="38" lengthAdjust="spacingAndGlyphs" stroke="#f8b4a0" stroke-width="0.2" stroke-linejoin="round" text-anchor="start"  transform="translate(308.5,292) scale(1,1.07)">168.2 eV</text>
<text x="287.6" y="310.9" font-size="13.5" fill="#000" font-weight="bold" textLength="17.6" lengthAdjust="spacingAndGlyphs" stroke="#000" stroke-width="0.2" stroke-linejoin="round" text-anchor="start" >SO</text>
<text x="305.4" y="314.4" font-size="8" fill="#000" font-weight="bold" stroke="#000" stroke-width="0.2" stroke-linejoin="round" text-anchor="start" >4</text>
<text x="309.6" y="305.7" font-size="8" fill="#000" font-weight="bold" stroke="#000" stroke-width="0.2" stroke-linejoin="round" text-anchor="start" >2−</text>
<text x="284.3" y="324.5" font-size="12.8" fill="#000" font-weight="bold" textLength="41" lengthAdjust="spacingAndGlyphs" stroke="#000" stroke-width="0.2" stroke-linejoin="round" text-anchor="start" >78.25%</text>
<text x="0" y="0" font-size="10.6" fill="#c890f8" font-weight="bold" textLength="38.5" lengthAdjust="spacingAndGlyphs" stroke="#c890f8" stroke-width="0.2" stroke-linejoin="round" text-anchor="start"  transform="translate(276.5,345) scale(1,1.07)">169.3 eV</text>
<text x="0" y="0" font-size="12.5" fill="#000" font-weight="bold" stroke="#000" stroke-width="0.2" stroke-linejoin="round" text-anchor="start" transform="translate(399,356.8) rotate(-13.5)">S<tspan font-size="8" dy="-5.5">2−</tspan><tspan dy="5.5"> 21.75%</tspan></text>
<text x="0" y="0" font-size="10.6" fill="#20c0b0" font-weight="bold" textLength="36" lengthAdjust="spacingAndGlyphs" stroke="#20c0b0" stroke-width="0.2" stroke-linejoin="round" text-anchor="start"  transform="translate(439,362.5) scale(1,1.07)">163.2 eV</text>
<text x="0" y="0" font-size="10.6" fill="#f070f0" font-weight="bold" textLength="37.3" lengthAdjust="spacingAndGlyphs" stroke="#f070f0" stroke-width="0.2" stroke-linejoin="round" text-anchor="start"  transform="translate(393,370.6) scale(1,1.07)">164.3 eV</text>
<text x="0" y="0" font-size="10.6" fill="#f8b4a0" font-weight="bold" textLength="38" lengthAdjust="spacingAndGlyphs" stroke="#f8b4a0" stroke-width="0.2" stroke-linejoin="round" text-anchor="start"  transform="translate(330,419) scale(1,1.07)">168.2 eV</text>
<text x="291.2" y="430.4" font-size="14.5" fill="#000" font-weight="bold" textLength="17.2" lengthAdjust="spacingAndGlyphs" stroke="#000" stroke-width="0.2" stroke-linejoin="round" text-anchor="start" >SO</text>
<text x="308.2" y="432.3" font-size="8" fill="#000" font-weight="bold" stroke="#000" stroke-width="0.2" stroke-linejoin="round" text-anchor="start" >4</text>
<text x="312.8" y="423.8" font-size="8" fill="#000" font-weight="bold" stroke="#000" stroke-width="0.2" stroke-linejoin="round" text-anchor="start" >2−</text>
<text x="288.8" y="442.8" font-size="12.5" fill="#000" font-weight="bold" textLength="39.5" lengthAdjust="spacingAndGlyphs" stroke="#000" stroke-width="0.2" stroke-linejoin="round" text-anchor="start" >69.76%</text>
<text x="0" y="0" font-size="10.6" fill="#c890f8" font-weight="bold" textLength="37.5" lengthAdjust="spacingAndGlyphs" stroke="#c890f8" stroke-width="0.2" stroke-linejoin="round" text-anchor="start"  transform="translate(279.5,465) scale(1,1.07)">169.4 eV</text>
<text x="0" y="0" font-size="12.5" fill="#000" font-weight="bold" stroke="#000" stroke-width="0.2" stroke-linejoin="round" text-anchor="start" transform="translate(387.5,471.5) rotate(-18.5)">S<tspan font-size="8" dy="-5.5">2−</tspan><tspan dy="5.5" dx="5.5">30.24%</tspan></text>
<text x="0" y="0" font-size="10.6" fill="#20c0b0" font-weight="bold" textLength="38.4" lengthAdjust="spacingAndGlyphs" stroke="#20c0b0" stroke-width="0.2" stroke-linejoin="round" text-anchor="start"  transform="translate(428.1,467.4) scale(1,1.07)">163.5 eV</text>
<text x="0" y="0" font-size="10.6" fill="#f070f0" font-weight="bold" textLength="38.8" lengthAdjust="spacingAndGlyphs" stroke="#f070f0" stroke-width="0.2" stroke-linejoin="round" text-anchor="start"  transform="translate(387.1,485.6) scale(1,1.07)">164.6 eV</text>
</svg>
</body></html>
